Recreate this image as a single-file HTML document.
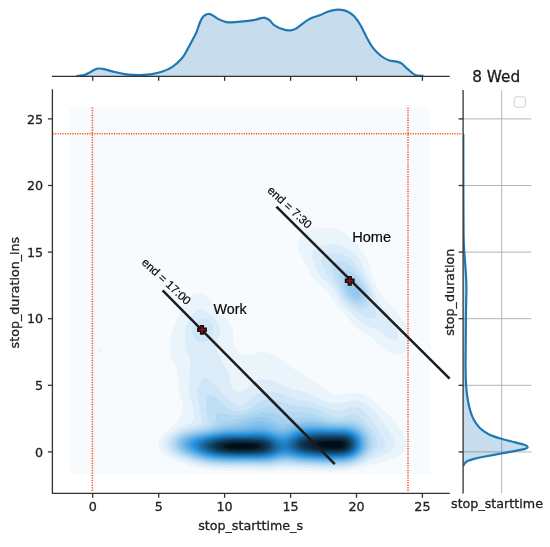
<!DOCTYPE html>
<html lang="en"><head><meta charset="utf-8"><title>stop_starttime_s vs stop_duration_ins</title>
<style>html,body{margin:0;padding:0;background:#fff}svg{display:block}</style></head>
<body>
<svg width="550" height="547" viewBox="0 0 550 547">
<rect width="550" height="547" fill="#fff"/>
<defs><filter id="bl" x="-5%" y="-5%" width="110%" height="110%"><feGaussianBlur stdDeviation="0.7"/></filter><clipPath id="ct"><rect x="52.4" y="0" width="396.8" height="76.3"/></clipPath><clipPath id="cr"><rect x="463.1" y="90" width="90" height="403.3"/></clipPath></defs>
<g id="density" filter="url(#bl)"><rect x="69.5" y="107.5" width="360.9" height="366.8" fill="#f8fbfe"/>
<g fill-rule="evenodd">
<path fill="#eaf4fb" d="M322.1,227.8 323.1,227.7 324.1,227.7 325.1,227.7 326.1,227.8 327.1,227.8 328.1,227.9 329.1,228 330.1,228.1 331.2,228.2 332.2,228.3 333.2,228.5 334.2,228.7 335.2,228.9 336.2,229.2 337.2,229.5 338,229.8 339.2,230.2 340.2,230.7 341.2,231.3 342,231.8 343.2,232.5 344.2,233.3 344.8,233.8 346,234.8 347.1,235.8 348.1,236.8 349.1,237.8 350.1,238.8 351.1,239.8 352.1,240.8 353,241.8 354,242.8 355,243.8 356,244.8 357,245.8 357.9,246.8 358.9,247.8 359.8,248.8 360.2,249.2 360.7,249.8 361.2,250.4 362.2,251.6 363.2,252.8 363.9,253.8 364.2,254.3 364.6,254.8 365.2,255.8 365.8,256.8 366.2,257.7 366.8,258.8 367.2,259.8 367.6,260.8 368,261.8 368.2,262.6 368.7,263.8 369,264.8 369.2,265.8 369.5,266.8 369.8,267.8 370,268.9 370.2,269.7 370.6,270.9 370.9,271.9 371.2,272.9 371.5,273.9 371.8,274.9 372.1,275.9 372.5,276.9 372.9,277.9 373.3,278.8 373.7,279.9 374.1,280.9 374.5,281.9 375,282.9 375.3,283.6 375.9,284.9 376.3,285.8 376.8,286.9 377.2,287.9 377.7,288.9 378.2,289.9 378.7,290.9 379.3,291.9 379.8,292.9 380.3,293.6 381.1,294.9 381.8,295.9 382.3,296.5 383.3,297.7 384.3,298.8 385.3,299.7 386.3,300.6 387.3,301.5 387.7,301.9 388.3,302.4 388.9,302.9 389.3,303.3 389.9,303.9 391,304.9 391.9,305.9 392.8,306.9 393.3,307.5 393.7,307.9 394.3,308.7 395.3,309.9 396.1,310.9 396.8,311.9 397.3,312.6 398.3,314 399,315 399.7,316 400.3,316.8 401.2,318 401.9,319 402.3,319.6 403.3,321 404,322 404.3,322.5 405.3,324 405.9,325 406.3,325.8 407,327 407.3,327.6 408,329 408.3,329.8 408.8,331 409.1,332 409.3,332.7 409.7,334 409.9,335 410,336 410.1,337 410.2,338 410.2,339 410.1,340 410,341 409.9,342 409.7,343 409.5,344 409.2,345 408.8,346 408.4,347 408,348 407.4,349 406.8,350 406.3,350.7 405.3,351.8 404.3,352.8 403.3,353.5 402.3,354 401.3,354.4 400.3,354.7 399.3,354.8 398.3,354.9 397.3,354.9 396.3,354.7 395.3,354.6 394.3,354.3 393.5,354 392.3,353.6 391.3,353.2 390.3,352.7 389.3,352.2 388.3,351.7 387.3,351.1 386.3,350.5 385.5,350 384.3,349.2 383.3,348.5 382.6,348 381.4,347 380.3,346.1 379.3,345.2 378.3,344.2 377.3,343.2 376.3,342.2 375.3,341.2 374.3,340.2 373.3,339.2 372.3,338.3 371.3,337.5 370.5,337 369.2,336.1 368.2,335.4 367.5,335 366.2,334.2 365.2,333.6 364.2,333 363.2,332.4 362.5,332 361.2,331.2 360.2,330.6 359.4,330 358.2,329.1 357.2,328.4 356.7,328 356.2,327.6 355.5,327 354.4,326 353.4,325 352.4,324 351.6,323 350.7,322 350.2,321.3 349.2,320 348.4,319 347.7,318 347.2,317.3 346.2,316 345.4,315 344.6,314 344.2,313.4 343.8,312.9 343.2,312.3 342.2,311.1 341.2,310 340.2,308.9 339.2,307.9 338.3,306.9 337.4,305.9 336.6,304.9 336.2,304.4 335.8,303.9 335.2,303.1 334.3,301.9 333.6,300.9 333.2,300.2 332.4,298.9 331.8,297.9 331.2,296.9 330.6,295.9 330.1,295.1 329.4,293.9 328.6,292.9 328.1,292.3 327.1,291.1 326.1,290.1 325.1,289.2 324.1,288.4 323.4,287.9 322.1,287 321.1,286.3 320.5,285.9 319.1,284.9 318.1,284.2 317.1,283.4 316.5,282.9 316.1,282.5 315.5,281.9 314.5,280.9 314.1,280.4 313.7,279.9 313.1,279 312.4,277.9 311.8,276.9 311.3,275.9 310.8,274.9 310.4,273.9 310.1,273.2 309.5,271.9 309.1,270.9 308.6,269.9 308.2,268.9 307.7,267.8 307.2,266.8 306.7,265.8 306.1,264.8 305.5,263.8 305.1,263.1 304.3,261.8 303.7,260.8 303.1,259.8 302.5,258.8 302.1,258.2 301.3,256.8 300.8,255.8 300.3,254.8 299.8,253.8 299.3,252.8 299.1,252.1 298.6,250.8 298.3,249.8 298.1,248.8 297.9,247.8 297.8,246.8 297.8,245.8 297.8,244.8 297.9,243.8 298.1,242.8 298.3,241.8 298.7,240.8 299.1,239.8 299.6,238.8 300.1,238 300.9,236.8 301.8,235.8 302.7,234.8 303.9,233.8 305.1,232.9 306.1,232.3 307.1,231.8 308.1,231.3 309.1,230.8 310.1,230.4 311.1,230 311.9,229.8 313.1,229.4 314.1,229.1 315.1,228.8 316.1,228.6 317.1,228.4 318.1,228.2 319.1,228 320.1,227.9 321.1,227.8 322.1,227.8ZM195.6,293.9 196.8,293.6 197.8,293.5 198.8,293.5 199.8,293.5 200.8,293.6 201.8,293.7 202.5,293.9 203.8,294.3 204.8,294.8 205.8,295.3 206.8,295.9 207.8,296.8 208.8,297.7 209.8,298.8 210.7,299.9 211.3,300.9 211.9,301.7 212.6,302.9 213.1,303.9 213.7,304.9 214.3,305.9 214.9,306.8 215.6,307.9 216.3,308.9 216.9,309.7 217.9,310.9 218.8,311.9 219.7,312.9 220.7,314 221.8,315 222.9,316 223.9,316.9 224.9,317.9 225.9,318.8 226.9,319.8 227.9,321 228.7,322 229.5,323 229.9,323.6 230.8,325 231.3,326 231.8,327 232.2,328 232.5,329 232.8,330 233,331 233.2,332 233.3,333 233.4,334 233.4,335 233.4,336 233.4,337 233.4,338 233.4,339 233.4,340 233.4,341 233.5,342 233.7,343 233.8,344 234.1,345 234.4,346 234.8,347 235.3,348 235.8,349 236.5,350 236.9,350.6 237.9,351.7 238.9,352.7 239.4,353 239.9,353.4 240.9,354 241.9,354.4 242.9,354.7 243.9,354.9 244.8,355 245.9,355.1 246.9,355.1 247.9,355 248.9,354.8 249.9,354.6 251,354.4 252,354.1 253,353.8 254,353.5 255,353.2 256,352.9 257,352.6 258,352.4 259,352.2 260,352.1 261,352 262,351.9 263,351.9 264,352 265,352.1 266,352.2 267,352.4 268,352.7 269,353 270,353.3 271,353.7 272,354 273,354.5 274,355 275,355.5 276,356 277,356.6 277.8,357 279,357.8 280,358.5 280.9,359 282,359.9 283,360.6 283.6,361.1 284,361.4 284.8,362.1 286,363 287,363.8 288,364.7 288.5,365.1 289,365.5 289.8,366.1 291.1,367 292.1,367.8 293.1,368.5 293.9,369.1 295.1,369.8 296.1,370.4 297.1,371 298.1,371.6 298.9,372.1 300.1,372.7 300.7,373.1 302.1,373.8 303.1,374.4 304.1,375 305.1,375.6 306,376.1 307.1,376.8 307.6,377.1 308.1,377.4 309.1,378.1 310.1,378.7 310.6,379.1 312.1,380.1 313.1,380.8 314.1,381.5 315,382.1 316.1,382.8 317.1,383.5 318,384.1 319.1,384.8 320.1,385.5 321,386.1 322.1,386.9 323.1,387.6 323.9,388.1 325.1,389 326.1,389.8 327.1,390.5 327.9,391.1 329.1,392 330.1,392.7 330.9,393.1 332.2,393.8 333,394.1 334.2,394.5 335.2,394.8 336.2,394.9 337.2,395 338.2,395 339.2,395 340.2,394.9 341.2,394.8 342.2,394.6 343.2,394.5 344.2,394.3 345.1,394.1 346.2,393.9 347.2,393.7 348.2,393.6 349.2,393.4 350.2,393.3 351.2,393.2 352.2,393.1 353.2,393.1 354.2,393.1 355.2,393.1 356,393.1 357.2,393.2 358.2,393.3 359.2,393.5 360.2,393.7 361.2,393.9 361.8,394.1 363.2,394.6 364.2,394.9 365.2,395.4 366.2,395.9 366.8,396.1 368.2,397 369.2,397.6 370.1,398.1 371.3,398.9 372.3,399.7 372.9,400.1 374.1,401.1 375.3,402.1 376.3,402.9 377.3,403.8 378.3,404.7 378.8,405.1 379.3,405.6 379.9,406.2 381,407.2 382.2,408.2 383.3,409.2 384.3,410.1 385.3,411 386.3,411.9 387.3,412.9 388.3,413.9 389.3,414.9 390.3,416 391.3,417.1 392.3,418.2 393.1,419.2 394,420.2 394.8,421.2 395.3,421.9 396.3,423.2 397.1,424.2 397.8,425.2 398.3,425.9 399.2,427.2 399.9,428.2 400.3,428.9 401.2,430.2 401.8,431.2 402.3,432.1 402.9,433.2 403.3,433.9 404,435.2 404.3,435.9 405,437.2 405.3,438.2 405.7,439.2 406,440.2 406.2,441.2 406.4,442.2 406.5,443.2 406.5,444.2 406.5,445.2 406.3,446 406.1,447.2 405.7,448.2 405.3,449.1 404.7,450.2 404.3,450.8 403.3,452.1 402.3,453.1 401.3,454 400.3,454.8 399.7,455.3 398.3,456.1 397.3,456.7 396.3,457.2 395.3,457.7 394.3,458.2 393.3,458.6 392.3,459 391.7,459.3 390.3,459.8 389.3,460.2 388.3,460.5 387.3,460.9 386.3,461.2 385.3,461.5 384.3,461.8 383.3,462.1 382.3,462.4 381.3,462.7 380.3,462.9 379.3,463.1 378.5,463.3 377.3,463.5 376.3,463.7 375.3,463.9 374.3,464.1 373.3,464.3 372.3,464.5 371.3,464.7 370.2,464.9 369.2,465.2 368.2,465.5 367.2,465.8 366.2,466.1 365.2,466.4 364.2,466.8 363.2,467.1 362.6,467.3 361.2,467.7 360.2,468.1 359.4,468.3 358.2,468.7 357.2,468.9 356.2,469.2 355.2,469.4 354.2,469.7 353.2,469.9 352.2,470.1 351.2,470.3 350.2,470.4 349.2,470.6 348.2,470.7 347.2,470.8 346.2,470.9 345.2,471 344.2,471.1 343.2,471.2 342.2,471.2 341.2,471.3 340.3,471.3 339.2,471.3 338.2,471.4 337.2,471.4 336.2,471.4 335.2,471.4 334.2,471.4 333.2,471.4 332.2,471.4 331.2,471.4 330.1,471.4 329.1,471.4 328.1,471.4 327.1,471.4 326.1,471.4 325.1,471.3 324.1,471.3 323.3,471.3 322.1,471.3 321.1,471.2 320.1,471.2 319.1,471.2 318.1,471.2 317.1,471.1 316.1,471.1 315.1,471.1 314.1,471 313.1,471 312.1,471 311.1,471 310.1,470.9 309.1,470.9 308.1,470.9 307.1,470.8 306.1,470.8 305.1,470.8 304.1,470.7 303.1,470.7 302.1,470.6 301.1,470.6 300.1,470.5 299.1,470.5 298.1,470.4 297.1,470.3 296.2,470.3 295.1,470.2 294.1,470.2 293.1,470.1 292.1,470.1 291.1,470 290,470 289,470 288,469.9 287,469.9 286,469.9 285,470 284,470 283,470 282,470.1 281,470.2 280,470.2 279,470.3 278,470.4 277,470.5 276,470.6 275,470.7 274,470.8 273,470.9 272,471 271,471 270,471.1 269,471.1 268,471.1 267,471.2 266,471.2 265,471.2 264,471.2 263,471.2 262,471.1 261,471.1 260,471.1 259,471.1 258,471 257,471 256,470.9 255,470.9 254,470.9 253,470.8 252,470.8 251,470.8 249.9,470.7 248.9,470.7 247.9,470.7 246.9,470.7 245.9,470.6 244.9,470.6 243.9,470.6 242.9,470.6 241.9,470.6 240.9,470.6 239.9,470.6 238.9,470.6 237.9,470.6 236.9,470.6 235.9,470.7 234.9,470.7 233.9,470.7 232.9,470.7 231.9,470.7 230.9,470.7 229.9,470.7 228.9,470.7 227.9,470.7 226.9,470.7 225.9,470.6 224.9,470.6 223.9,470.6 222.9,470.6 221.9,470.6 220.9,470.5 219.9,470.5 218.9,470.5 217.9,470.4 216.9,470.4 215.9,470.3 214.9,470.3 213.9,470.2 212.9,470.1 211.9,470 210.9,470 209.8,469.9 208.8,469.7 207.8,469.6 206.8,469.5 205.8,469.3 204.8,469.2 203.8,469 202.8,468.9 201.8,468.7 200.8,468.5 199.9,468.3 198.8,468.1 197.8,467.9 196.8,467.6 195.8,467.4 194.8,467.1 193.8,466.9 192.8,466.6 191.8,466.4 190.8,466.1 189.8,465.8 188.8,465.5 188,465.3 186.8,464.9 185.8,464.6 184.8,464.3 183.8,464 182.8,463.7 181.8,463.4 180.8,463 179.8,462.7 178.8,462.3 177.8,462 176.8,461.6 176,461.3 174.8,460.8 173.8,460.4 172.8,459.9 171.8,459.5 170.8,459 169.8,458.5 168.7,457.9 167.7,457.3 166.7,456.7 166.1,456.3 164.8,455.3 163.7,454.4 162.7,453.5 161.7,452.4 160.8,451.2 160.2,450.2 159.7,449.4 159.2,448.2 158.9,447.2 158.7,446.3 158.6,445.2 158.6,444.2 158.6,443.2 158.8,442.2 159,441.2 159.4,440.2 159.7,439.5 160.3,438.2 160.7,437.6 161.7,436.2 162.5,435.2 163.4,434.2 164.4,433.2 165.4,432.2 166.5,431.2 167.7,430.2 168.7,429.3 169.8,428.5 170.8,427.6 171.3,427.2 171.8,426.8 172.5,426.2 173.6,425.2 174.7,424.2 175.7,423.2 176.7,422.2 177.5,421.2 178.3,420.2 178.8,419.4 179.5,418.2 180,417.2 180.5,416.2 180.8,415.6 181.4,414.2 181.8,413.2 182.2,412.2 182.5,411.2 182.7,410.2 182.9,409.2 183.1,408.2 183.1,407.2 183.1,406.2 183,405.1 182.8,404.1 182.6,403.1 182.3,402.1 182,401.1 181.6,400.1 181.3,399.1 180.9,398.1 180.6,397.1 180.3,396.1 180.1,395.1 179.9,394.1 179.7,393.1 179.5,392.1 179.4,391.1 179.3,390.1 179.2,389.1 179.1,388.1 179.1,387.1 179,386.1 178.9,385.1 178.9,384.1 178.8,383.1 178.7,382.1 178.6,381.1 178.5,380.1 178.3,379.1 178.2,378.1 178.1,377.1 177.9,376.1 177.8,375.1 177.6,374.1 177.5,373.1 177.3,372.1 177.1,371.1 176.9,370.1 176.6,369.1 176.3,368.1 176,367.1 175.6,366.1 175.1,365.1 174.8,364.4 174.1,363.1 173.8,362.4 173,361.1 172.8,360.5 172.1,359 171.8,358.3 171.3,357 170.9,356 170.6,355 170.4,354 170.2,353 170.1,352 170,351 169.9,350 169.9,349 169.9,348 169.9,347 169.9,346 170,345 170,344 170.1,343 170.2,342 170.2,341 170.3,340 170.4,339 170.5,338 170.6,337 170.7,336 170.9,335 171.1,334 171.3,333 171.6,332 171.9,331 172.3,330 172.7,329 173.2,328 173.7,327 174.2,326 174.7,325 175.2,324 175.7,323 176.2,322 176.7,321 177.1,320 177.6,319 178,318 178.3,317 178.7,316 179,315 179.4,314 179.7,312.9 180,311.9 180.4,310.9 180.8,310 181.2,308.9 181.7,307.9 182.1,306.9 182.7,305.9 183.2,304.9 183.8,304 184.4,302.9 184.8,302.4 185.8,301 186.6,299.9 187.5,298.9 188.5,297.9 189.7,296.9 190.8,296.1 191.8,295.4 192.8,294.9 193.8,294.5 194.8,294.1 195.6,293.9Z"/>
<path fill="#dcedf9" d="M325,244.8 326.1,244.6 327.1,244.4 328.1,244.3 329.1,244.2 330.1,244.2 331.2,244.1 332.2,244.1 333.2,244.2 334.2,244.2 335.2,244.4 336.2,244.5 337.2,244.7 338.2,244.9 339.2,245.2 340.2,245.5 341,245.8 342.2,246.3 343.2,246.7 344.2,247.2 345.2,247.7 346.2,248.2 347.2,248.8 348.2,249.4 348.8,249.8 350.2,250.8 351.2,251.5 352.2,252.3 352.9,252.8 354.1,253.8 355.1,254.8 356.1,255.8 357,256.8 357.9,257.8 358.2,258.3 358.6,258.8 359.2,259.7 359.9,260.8 360.2,261.4 361,262.8 361.5,263.8 362,264.8 362.5,265.8 362.9,266.8 363.2,267.6 363.8,268.9 364.2,269.9 364.6,270.9 365.1,271.9 365.5,272.9 366,273.9 366.5,274.9 366.9,275.9 367.2,276.5 367.9,277.9 368.2,278.5 368.9,279.9 369.2,280.5 369.9,281.9 370.2,282.6 370.9,283.9 371.3,284.7 371.8,285.9 372.3,286.9 372.7,287.9 373.1,288.9 373.5,289.9 373.9,290.9 374.3,291.8 374.7,292.9 375,293.9 375.3,294.5 375.8,295.9 376.2,296.9 376.6,297.9 377,298.9 377.3,299.6 377.9,300.9 378.3,301.5 379.1,302.9 379.8,303.9 380.3,304.5 381.3,305.8 382.3,306.9 383.3,307.9 384.2,308.9 385.1,309.9 385.9,310.9 386.3,311.4 386.7,311.9 387.3,312.8 388.1,314 388.7,315 389.3,315.9 389.9,317 390.3,317.7 391,319 391.3,319.6 392,321 392.3,321.6 393.1,323 393.6,324 394.1,325 394.7,326 395.3,327 395.8,328 396.3,329 396.8,330 397.2,331 397.6,332 397.8,333 398,334 398.1,335 398.1,336 397.9,337 397.5,338 396.8,339 396.3,339.5 395.4,340 394.3,340.3 393.3,340.3 392.3,340.2 391.3,339.9 390.3,339.4 389.5,339 388.3,338.2 387.3,337.4 386.8,337 386.3,336.6 385.7,336 384.6,335 383.5,334 382.3,333 381.3,332.3 380.3,331.7 379.3,331.1 378.3,330.6 377.3,330.1 376.3,329.6 375.3,329.2 374.3,328.8 373.3,328.4 372.3,328 371.3,327.6 370.2,327.2 369.2,326.8 368.2,326.3 367.6,326 366.2,325.3 365.6,325 364.2,324.2 363.2,323.5 362.4,323 361.2,322.1 360.2,321.3 359.2,320.5 358.7,320 358.2,319.6 357.6,319 356.6,318 355.6,317 354.5,316 353.5,315 352.5,314 351.5,312.9 350.4,311.9 349.3,310.9 348.2,309.9 347.2,309 346.2,308.1 345.2,307.2 344.2,306.2 343.2,305.2 342.2,304.1 341.2,302.9 340.3,301.9 339.6,300.9 339.2,300.4 338.2,298.9 337.6,297.9 337.2,297.2 336.4,295.9 335.9,294.9 335.4,293.9 334.8,292.9 334.3,291.9 333.7,290.9 333.2,290 332.5,288.9 331.8,287.9 331.2,287 330.2,285.9 329.3,284.9 328.4,283.9 327.3,282.9 326.2,281.9 325.1,280.9 324.1,280 323.1,279.1 322.1,278 321.1,276.9 320.3,275.9 319.6,274.9 319.1,274.1 318.4,272.9 318.1,272.3 317.4,270.9 317.1,270.2 316.5,268.9 316.1,267.9 315.7,266.8 315.3,265.8 314.9,264.8 314.5,263.8 314.1,263 313.7,261.8 313.3,260.8 313.1,260.1 312.7,258.8 312.5,257.8 312.3,256.8 312.2,255.8 312.2,254.8 312.3,253.8 312.4,252.8 312.8,251.8 313.1,251.1 314,249.8 315,248.8 316.1,248 317.1,247.4 318.1,246.9 319.1,246.5 320.1,246.1 321,245.8 322.1,245.4 323.1,245.2 324.1,245 325,244.8ZM199.2,309.9 200.8,309.8 201.8,309.9 202.8,310.1 203.8,310.4 204.8,310.9 205.8,311.3 206.8,311.9 207.8,312.5 208.4,312.9 209.8,314 210.9,314.8 211.9,315.6 212.9,316.5 213.3,317 213.9,317.5 214.4,318 214.9,318.5 215.3,319 215.9,319.6 216.9,320.9 217.6,322 218.2,323 218.8,324 219.2,325 219.6,326 219.8,327 220,328 220.2,329 220.2,330 220.2,331 220.1,332 219.9,333 219.7,334 219.5,335 219.2,336 218.9,337 218.6,338 218.3,339 217.9,340 217.6,341 217.3,342 217,343 216.8,344 216.6,345 216.5,346 216.4,347 216.5,348 216.6,349 216.8,350 217.2,351 217.6,352 217.9,352.7 218.5,354 218.9,354.8 219.5,356 219.9,356.7 220.5,358 220.9,358.7 221.5,360.1 221.9,360.8 222.5,362.1 222.9,362.8 223.5,364.1 223.9,364.8 224.6,366.1 224.9,366.6 225.7,368.1 226.3,369.1 226.9,370 227.5,371.1 227.9,371.7 228.6,373.1 228.9,373.8 229.4,375.1 229.6,376.1 229.7,377.1 229.8,378.1 229.8,379.1 229.8,380.1 229.9,381.1 230.1,382.1 230.3,383.1 230.6,384.1 230.9,384.9 231.5,386.1 231.9,386.9 232.8,388.1 233.6,389.1 234.8,390.1 235.9,390.8 236.6,391.1 237.9,391.5 238.9,391.7 239.9,391.6 240.9,391.5 241.9,391.2 242.9,390.8 243.9,390.3 244.9,389.7 245.8,389.1 246.9,388.3 247.9,387.4 248.9,386.5 249.4,386.1 249.9,385.5 250.4,385.1 251,384.5 252,383.4 253,382.4 254,381.5 254.5,381.1 256,380.2 257,379.7 258,379.4 259,379.2 260,379 261,378.9 262,378.8 263,378.8 264,378.8 265,378.9 266,379.1 267,379.2 268,379.4 269,379.6 270,379.9 270.7,380.1 272,380.5 273,380.9 273.6,381.1 275,381.6 276,382 277,382.5 278,382.9 279,383.4 280,383.8 280.6,384.1 282,384.8 282.8,385.1 284,385.7 285,386.1 286,386.6 287,387 288,387.4 289,387.8 289.9,388.1 291.1,388.5 292.1,388.9 292.8,389.1 294.1,389.5 295.1,389.8 296.1,390.1 297.1,390.3 298.1,390.6 299.1,390.8 300.1,391.1 301.1,391.4 302.1,391.6 303.1,391.9 303.9,392.1 305.1,392.5 306.1,392.8 307,393.1 308.1,393.5 309.1,393.9 309.8,394.1 311.1,394.6 312.1,395.1 313.1,395.5 314.1,395.9 315.1,396.4 316.1,396.8 316.7,397.1 318.1,397.8 318.8,398.1 320.1,398.7 320.9,399.1 322.1,399.7 323.1,400.1 324.1,400.6 325.1,401.1 326.1,401.5 327.1,401.9 327.7,402.1 329.1,402.7 330.1,403 331.2,403.3 332.2,403.5 333.2,403.7 334.2,403.8 335.2,403.9 336.2,403.9 337.2,403.9 338.2,403.8 339.2,403.6 340.2,403.4 341.2,403.2 342.2,402.9 343.2,402.6 344.2,402.3 345.2,402 346.2,401.7 347.2,401.4 348.1,401.1 349.2,400.9 350.2,400.7 351.2,400.5 352.2,400.4 353.2,400.3 354.2,400.3 355.2,400.3 356.2,400.3 357.2,400.5 358.2,400.6 359.2,400.9 360.1,401.1 361.2,401.5 362.2,401.9 363.2,402.4 364.2,402.9 365.2,403.5 366.2,404.1 367.2,404.9 368.2,405.7 368.8,406.2 369.2,406.6 369.9,407.2 371,408.2 372,409.2 373,410.2 373.9,411.2 374.8,412.2 375.3,412.6 375.7,413.2 376.3,413.8 377.3,414.9 378.3,416.1 379.2,417.2 380,418.2 380.9,419.2 381.3,419.7 381.6,420.2 382.3,421 383.1,422.2 383.9,423.2 384.3,423.8 385.2,425.2 385.9,426.2 386.3,426.8 387.2,428.2 387.9,429.2 388.3,429.8 389.2,431.2 389.8,432.2 390.3,433 391.1,434.2 391.7,435.2 392.3,436.2 392.8,437.2 393.3,438.2 393.8,439.2 394.2,440.2 394.5,441.2 394.8,442.2 394.9,443.2 394.9,444.2 394.8,445.2 394.6,446.2 394.3,447.1 393.7,448.2 393.3,448.8 392.3,450 391.3,451 390.3,451.8 389.6,452.3 388.3,453.1 387.3,453.6 386.3,454.2 385.3,454.6 384.3,455 383.3,455.5 382.3,455.8 381.3,456.2 380.3,456.5 379.3,456.9 378.3,457.2 377.3,457.5 376.3,457.9 375.3,458.2 374.3,458.6 373.3,459 372.6,459.3 371.3,459.8 370.3,460.3 369.2,460.8 368.2,461.2 367.2,461.7 366.2,462.2 365.2,462.7 364.2,463.1 363.2,463.6 362.2,464 361.2,464.5 360.2,464.9 359.2,465.2 358.2,465.6 357.2,466 356.2,466.3 355.2,466.6 354.2,466.8 353.2,467.1 352.3,467.3 351.2,467.5 350.2,467.7 349.2,467.9 348.2,468 347.2,468.2 346.2,468.3 345.2,468.4 344.2,468.5 343.2,468.5 342.2,468.6 341.2,468.7 340.2,468.7 339.2,468.8 338.2,468.8 337.2,468.8 336.2,468.8 335.2,468.8 334.2,468.9 333.2,468.9 332.2,468.9 331.2,468.9 330.1,468.8 329.1,468.8 328.1,468.8 327.1,468.8 326.1,468.8 325.1,468.8 324.1,468.7 323.1,468.7 322.1,468.7 321.1,468.6 320.1,468.6 319.1,468.6 318.1,468.5 317.1,468.5 316.1,468.5 315.1,468.4 314.1,468.4 313.1,468.4 312.1,468.3 311.3,468.3 310.1,468.2 309.1,468.2 308.1,468.2 307.1,468.1 306.1,468.1 305.1,468.1 304.1,468 303.1,468 302.1,467.9 301.1,467.9 300.1,467.8 299.1,467.8 298.1,467.7 297.1,467.6 296.1,467.5 295.1,467.5 294.1,467.4 293.1,467.3 292.1,467.2 291.1,467.2 290,467.1 289,467.1 288,467.1 287,467.1 286,467.1 285,467.1 284,467.1 283,467.2 282,467.2 281.2,467.3 280,467.4 279,467.5 278,467.6 277,467.7 276,467.8 275,467.9 274,468 273,468.1 272,468.2 271,468.3 270,468.3 269,468.4 268,468.4 267,468.5 266,468.5 265,468.5 264,468.5 263,468.5 262,468.5 261,468.5 260,468.5 259,468.4 258,468.4 257,468.4 256,468.3 255,468.3 254,468.3 253,468.2 252,468.2 251,468.2 249.9,468.1 248.9,468.1 247.9,468.1 246.9,468.1 245.9,468.1 244.9,468.1 243.9,468.1 242.9,468.1 241.9,468.1 240.9,468.1 239.9,468.1 238.9,468.1 237.9,468.1 236.9,468.1 235.9,468.1 234.9,468.1 233.9,468.1 232.9,468.1 231.9,468.1 230.9,468.1 229.9,468.1 228.9,468.1 227.9,468.1 226.9,468.1 225.9,468.1 224.9,468 223.9,468 222.9,468 221.9,468 220.9,467.9 219.9,467.9 218.9,467.9 217.9,467.8 216.9,467.8 215.9,467.7 214.9,467.6 213.9,467.5 212.9,467.5 211.9,467.4 210.9,467.3 209.8,467.1 208.8,467 207.8,466.9 206.8,466.8 205.8,466.6 204.8,466.4 204,466.3 202.8,466.1 201.8,465.9 200.8,465.7 199.8,465.5 199.1,465.3 197.8,465 196.8,464.8 195.8,464.5 195,464.3 193.8,464 192.8,463.7 191.8,463.4 190.8,463.1 189.8,462.8 188.8,462.5 188.1,462.3 186.8,461.9 185.8,461.6 185,461.3 183.8,460.9 182.8,460.5 182.1,460.3 180.8,459.8 179.8,459.4 178.8,459 177.8,458.5 177.1,458.3 175.8,457.6 175,457.3 173.8,456.6 173.1,456.3 171.8,455.5 170.8,454.8 170,454.3 168.7,453.3 167.7,452.4 166.7,451.4 165.8,450.2 165.1,449.2 164.7,448.5 164.2,447.2 163.9,446.2 163.7,445.2 163.7,444.2 163.7,443.5 163.9,442.2 164.2,441.2 164.6,440.2 165.1,439.2 165.7,438.2 166.4,437.2 167.2,436.2 167.7,435.6 168.1,435.2 168.7,434.6 169.2,434.2 169.8,433.7 170.3,433.2 171.6,432.2 172.8,431.4 173.8,430.7 174.5,430.2 175.8,429.4 176.8,428.8 177.8,428.3 178.8,427.8 179.8,427.3 180.8,426.8 181.8,426.4 182.8,426 183.8,425.6 184.8,425.3 185.8,424.9 186.8,424.5 187.8,424.2 188.8,423.8 189.8,423.4 190.8,422.9 191.8,422.3 192.8,421.5 193.8,420.2 194.1,419.2 194.2,418.2 194.1,417.2 194,416.2 193.9,415.2 193.8,414.5 193.6,413.2 193.5,412.2 193.4,411.2 193.3,410.2 193.2,409.2 193,408.2 192.9,407.2 192.7,406.2 192.5,405.1 192.2,404.1 192,403.1 191.7,402.1 191.3,401.1 191,400.1 190.7,399.1 190.3,398.1 190,397.1 189.8,396.4 189.5,395.1 189.3,394.1 189.1,393.1 189,392.1 188.9,391.1 188.9,390.1 189,389.1 189,388.1 189.1,387.1 189.2,386.1 189.2,385.1 189.3,384.1 189.4,383.1 189.5,382.1 189.5,381.1 189.5,380.1 189.6,379.1 189.6,378.1 189.6,377.1 189.6,376.1 189.6,375.1 189.7,374.1 189.7,373.1 189.8,372.1 189.9,371.1 190,370.1 190,369.1 190.1,368.1 190.2,367.1 190.3,366.1 190.4,365.1 190.4,364.1 190.4,363.1 190.4,362.1 190.3,361.1 190.1,360.1 189.9,359 189.6,358 189.3,357 189,356 188.6,355 188.2,354 187.8,353 187.5,352 187.1,351 186.8,350 186.6,349 186.3,348 186.1,347 185.9,346 185.8,345.3 185.6,344 185.4,343 185.2,342 185.1,341 185,340 184.8,339 184.7,338 184.7,337 184.7,336 184.7,335 184.7,334 184.8,333.2 184.9,332 185.1,331 185.3,330 185.5,329 185.8,328.1 186.1,327 186.4,326 186.8,325 187.2,324 187.6,323 188,322 188.5,321 188.8,320.3 189.5,319 189.8,318.4 190.6,317 191.3,316 191.8,315.2 192.8,314 193.8,312.9 194.8,312 195.8,311.3 196.4,310.9 197.8,310.3 198.8,310Z"/>
<path fill="#cee6f7" d="M327.4,253.8 328.1,253.6 329.1,253.4 330.1,253.2 331.2,253.1 332.2,253 333.2,253 334.2,253 335.2,253.1 336.2,253.2 337.2,253.4 338.2,253.6 339.2,253.8 340.2,254 341.2,254.3 342.2,254.6 343.2,255 344.2,255.4 345.2,255.8 346.2,256.3 347.2,256.8 348.2,257.4 348.9,257.8 350.2,258.8 351.2,259.5 352.2,260.4 352.7,260.8 353.2,261.3 353.7,261.8 354.2,262.4 354.6,262.8 355.2,263.6 356.2,264.8 356.9,265.8 357.6,266.8 358.2,267.8 358.9,268.9 359.2,269.4 360.1,270.9 360.7,271.9 361.2,272.7 361.9,273.9 362.2,274.4 362.5,274.9 363.1,275.9 363.7,276.9 364.2,277.7 364.9,278.9 365.2,279.4 366.1,280.9 366.6,281.9 367.2,282.9 367.7,283.9 368.2,284.9 368.7,285.9 369.2,286.9 369.6,287.9 370,288.9 370.2,289.5 370.8,290.9 371.1,291.9 371.4,292.9 371.7,293.9 371.9,294.9 372.2,295.9 372.4,296.9 372.6,297.9 372.8,298.9 373,299.9 373.2,300.9 373.4,301.9 373.6,302.9 373.8,303.9 374,304.9 374.2,305.9 374.5,306.9 374.8,307.9 375.1,308.9 375.5,309.9 375.8,310.9 376.2,311.9 376.5,312.9 376.7,314 376.8,315 376.7,316 376.3,317 375.3,317.8 374.3,318.2 373.3,318.4 372.3,318.4 371.3,318.3 370.2,318.1 369.5,318 368.2,317.6 367.2,317.2 366.7,317 365.2,316.3 364.5,316 363.2,315.3 362.6,315 361.2,314.2 360.2,313.7 359.2,313.1 358.2,312.5 357.4,311.9 356.2,311.2 355.2,310.6 354.2,309.9 353.2,309.3 352.7,308.9 352.2,308.6 351.3,307.9 350.2,307.1 349.2,306.4 348.7,305.9 348.2,305.5 347.5,304.9 346.4,303.9 345.3,302.9 344.4,301.9 343.5,300.9 342.7,299.9 342.2,299.2 341.3,297.9 340.6,296.9 340.2,296.1 339.5,294.9 339.2,294.3 338.4,292.9 338.2,292.3 337.5,290.9 337.2,290.3 336.5,288.9 336.2,288.3 335.4,286.9 335.2,286.4 334.3,284.9 333.7,283.9 333.2,283 332.4,281.9 331.7,280.9 331.2,280.2 330.2,278.9 329.4,277.9 328.7,276.9 328.1,276.1 327.2,274.9 326.6,273.9 326.1,273.1 325.4,271.9 324.9,270.9 324.4,269.9 324.1,269.3 323.5,267.8 323.2,266.8 322.8,265.8 322.5,264.8 322.3,263.8 322.1,263 322,261.8 321.9,260.8 322,259.8 322.1,259.1 322.5,257.8 323.1,256.8 323.9,255.8 325.1,254.9 326.1,254.3 327.1,253.9ZM201.1,319 201.8,318.8 202.8,318.8 203.8,318.9 204.8,319 205.8,319.3 206.8,319.8 207.8,320.3 208.8,321 209.8,321.9 210.8,323 211.6,324 212.1,325 212.6,326 212.9,326.8 213.1,328 213.2,329 213.2,330 213.2,331 213,332 212.7,333 212.4,334 212,335 211.4,336 210.9,336.9 210,338 209.1,339 208,340 206.8,340.8 205.8,341.4 204.8,341.8 204,342 202.8,342.2 201.8,342.3 200.8,342.2 200.1,342 198.8,341.6 197.8,341.1 196.8,340.5 196.3,340 195.8,339.6 195.3,339 194.8,338.5 193.9,337 193.4,336 193,335 192.8,334.2 192.6,333 192.5,332 192.5,331 192.5,330 192.7,329 192.9,328 193.2,327 193.6,326 194,325 194.6,324 195.3,323 195.8,322.3 196.8,321.2 197.8,320.4 198.5,320 199.8,319.3 200.8,319ZM204.5,377.1 205.8,377.3 206.8,378 207.8,378.9 208.8,379.8 209.8,380.7 210.9,381.6 211.4,382.1 212.7,383.1 213.9,384.1 214.9,384.9 215.9,385.7 216.4,386.1 216.9,386.5 217.5,387.1 218.6,388.1 219.6,389.1 220.6,390.1 221.5,391.1 222.4,392.1 222.9,392.6 223.3,393.1 223.9,393.8 224.9,395 225.9,396.1 226.8,397.1 227.7,398.1 228.7,399.1 229.7,400.1 230.7,401.1 231.9,402.1 232.9,403 233.9,403.7 234.6,404.1 235.9,404.8 236.9,405.1 237.9,405.4 238.9,405.5 239.9,405.6 240.9,405.5 241.9,405.3 242.9,405 243.9,404.5 244.6,404.1 245.9,403.2 246.9,402.4 247.9,401.5 248.9,400.5 249.9,399.5 250.4,399.1 251,398.6 251.5,398.1 252.8,397.1 254,396.3 255,395.7 255.9,395.1 257,394.5 257.8,394.1 259,393.6 260,393.2 261,392.8 262,392.5 263,392.2 264,392 265,391.8 266,391.6 267,391.5 268,391.4 269,391.4 270,391.4 271,391.5 272,391.5 273,391.7 274,391.8 275,392 276,392.3 277,392.5 278,392.8 279,393.1 280,393.5 281,393.8 281.9,394.1 283,394.6 284,395 285,395.4 286,395.7 287,396.1 288,396.5 289,396.9 289.8,397.1 291.1,397.6 292.1,397.9 292.9,398.1 294.1,398.4 295.1,398.7 296.1,399 296.9,399.1 298.1,399.4 299.1,399.6 300.1,399.8 301.1,400 301.9,400.1 303.1,400.4 304.1,400.5 305.1,400.7 306.1,400.9 307.1,401.1 308.1,401.3 309.1,401.6 310.1,401.8 311.1,402 312.1,402.3 313.1,402.6 314.1,402.9 315,403.1 316.1,403.5 317.1,403.8 318,404.1 319.1,404.5 320.1,404.9 321.1,405.3 322.1,405.7 323.1,406.2 324.1,406.6 325.1,407 326.1,407.5 327.1,407.9 327.8,408.2 329.1,408.7 330.1,409.1 331.2,409.5 332.2,409.8 333.2,410.1 334.2,410.3 335.2,410.5 336.2,410.6 337.2,410.6 338.2,410.6 339.2,410.4 340.2,410.3 341.2,410 342.2,409.7 343.2,409.4 343.8,409.2 345.2,408.7 346.2,408.3 347.2,408 348.2,407.6 349.2,407.4 350,407.2 351.2,406.9 352.2,406.8 353.2,406.7 354.2,406.7 355.2,406.8 356.2,406.9 357.2,407.1 358.2,407.4 359.2,407.8 360.1,408.2 361.2,408.8 361.8,409.2 363.2,410.2 364.2,411.1 365.2,412.1 366.2,413.2 367.1,414.2 367.8,415.2 368.2,415.7 368.6,416.2 369.2,417.1 370.1,418.2 370.8,419.2 371.3,419.8 372.2,421.2 373,422.2 373.7,423.2 374.3,424 375.2,425.2 375.9,426.2 376.3,426.7 377.3,428.2 378,429.2 378.7,430.2 379.3,431.1 380,432.2 380.6,433.2 381.3,434.2 381.9,435.2 382.3,435.9 383,437.2 383.6,438.2 384,439.2 384.3,439.9 384.7,441.2 384.9,442.2 385,443.2 385,444.2 384.8,445.2 384.5,446.2 384,447.2 383.3,448.2 382.3,449.2 381.3,450 380.3,450.8 379.6,451.2 378.3,452.1 377.3,452.7 376.3,453.2 375.3,453.8 374.6,454.3 373.3,455 372.3,455.7 371.3,456.3 370.2,456.9 369.8,457.3 369.2,457.6 368.2,458.2 367.2,458.9 366.6,459.3 365.2,460.1 364.2,460.7 363.2,461.2 362.2,461.7 361.2,462.2 360.2,462.7 359.2,463.2 358.2,463.6 357.2,464 356.3,464.3 355.2,464.7 354.2,465 353.2,465.2 352.2,465.5 351.2,465.7 350.2,465.9 349.2,466.1 348.2,466.2 347.2,466.4 346.2,466.5 345.2,466.6 344.2,466.7 343.2,466.8 342.2,466.9 341.2,467 340.2,467 339.2,467 338.2,467.1 337.2,467.1 336.2,467.1 335.2,467.1 334.2,467.1 333.2,467.1 332.2,467.1 331.2,467.1 330.1,467.1 329.1,467.1 328.1,467.1 327.1,467.1 326.1,467.1 325.1,467 324.1,467 323.1,467 322.1,467 321.1,466.9 320.1,466.9 319.1,466.9 318.1,466.8 317.1,466.8 316.1,466.8 315.1,466.7 314.1,466.7 313.1,466.6 312.1,466.6 311.1,466.6 310.1,466.5 309.1,466.5 308.1,466.4 307.1,466.4 306.1,466.3 305.1,466.3 304.1,466.2 303.1,466.2 302.1,466.1 301.1,466.1 300.1,466 299.1,466 298.1,465.9 297.1,465.8 296.1,465.7 295.1,465.6 294.1,465.5 293.1,465.5 292.1,465.4 291.1,465.3 290,465.2 289,465.2 288,465.2 287,465.1 286,465.1 285,465.2 284,465.2 283,465.2 282,465.3 281,465.4 280,465.5 279,465.6 278,465.7 277,465.8 276,465.9 275,466.1 274,466.2 273,466.3 272,466.4 271,466.5 270,466.5 269,466.6 268,466.7 267,466.7 266,466.7 265,466.8 264,466.8 263,466.8 262,466.8 261,466.8 260,466.8 259,466.7 258,466.7 257,466.7 256,466.7 255,466.6 254,466.6 253,466.6 252,466.5 251,466.5 249.9,466.5 248.9,466.5 247.9,466.4 246.9,466.4 245.9,466.4 244.9,466.4 243.9,466.4 242.9,466.4 241.9,466.4 240.9,466.4 239.9,466.4 238.9,466.4 237.9,466.4 236.9,466.4 235.9,466.4 234.9,466.4 233.9,466.4 232.9,466.4 231.9,466.4 230.9,466.4 229.9,466.4 228.9,466.4 227.9,466.4 226.9,466.4 225.9,466.4 224.9,466.3 223.9,466.3 222.9,466.3 221.9,466.3 220.9,466.2 219.9,466.2 218.9,466.1 217.9,466.1 216.9,466 215.9,466 214.9,465.9 213.9,465.8 212.9,465.7 211.9,465.6 210.9,465.5 209.8,465.4 208.8,465.2 207.8,465.1 206.8,465 205.8,464.8 204.8,464.6 203.8,464.4 203.1,464.3 201.8,464 200.8,463.8 199.8,463.6 198.8,463.3 197.8,463.1 196.8,462.8 195.8,462.6 194.8,462.3 193.8,462 192.8,461.7 191.8,461.4 190.8,461.1 189.8,460.8 188.8,460.5 187.8,460.1 186.8,459.8 185.8,459.4 184.8,459.1 183.8,458.7 182.8,458.3 181.8,457.9 180.8,457.5 179.8,457 178.8,456.6 178.1,456.3 176.8,455.6 176.2,455.3 174.8,454.4 173.8,453.7 173.1,453.3 171.8,452.3 170.8,451.3 169.8,450.2 169,449.2 168.4,448.2 167.9,447.2 167.6,446.2 167.4,445.2 167.3,444.2 167.3,443.2 167.5,442.2 167.7,441.5 168.2,440.2 168.7,439.3 169.4,438.2 170.2,437.2 170.8,436.6 171.2,436.2 171.8,435.6 172.2,435.2 172.8,434.8 173.4,434.2 174.8,433.2 175.8,432.6 176.4,432.2 177.8,431.4 178.8,430.9 179.8,430.4 180.8,429.9 181.8,429.5 182.7,429.2 183.8,428.8 184.8,428.5 185.7,428.2 186.8,427.9 187.8,427.6 188.8,427.4 189.5,427.2 190.8,426.8 191.8,426.6 192.8,426.4 193.5,426.2 194.8,425.8 195.8,425.5 196.7,425.2 197.8,424.7 198.8,424.2 199.8,423.6 200.4,423.2 200.8,422.7 201.3,422.2 201.8,421.2 202,420.2 202,419.2 201.8,418.2 201.6,417.2 201.3,416.2 201.1,415.2 200.8,414.2 200.6,413.2 200.4,412.2 200.2,411.2 200,410.2 199.8,409.2 199.7,408.2 199.5,407.2 199.4,406.2 199.2,405.1 199,404.1 198.8,403.3 198.6,402.1 198.3,401.1 198.1,400.1 197.9,399.1 197.7,398.1 197.5,397.1 197.3,396.1 197.2,395.1 197.2,394.1 197.2,393.1 197.3,392.1 197.4,391.1 197.6,390.1 197.8,389.2 198.2,388.1 198.5,387.1 198.8,386.4 199.4,385.1 199.8,384.1 200.3,383.1 200.8,382.1 201.4,381.1 201.8,380.1 202.5,379.1 202.8,378.4 203.8,377.3 204.5,377.1Z"/>
<path fill="#c0dff4" d="M334.7,261.8 336.2,261.4 337.2,261.2 338.2,261.2 339.2,261.2 340.2,261.3 341.2,261.5 342.2,261.7 343.2,262 344.2,262.3 345.2,262.7 346.2,263.1 347.2,263.6 348.2,264.2 349.2,264.8 350.2,265.6 351.2,266.4 351.8,266.8 352.2,267.2 352.8,267.8 353.8,268.9 354.8,269.9 355.2,270.3 355.7,270.9 356.2,271.5 357.2,272.7 358.1,273.9 358.9,274.9 359.7,275.9 360.2,276.6 361.1,277.9 361.8,278.9 362.2,279.5 363.2,280.9 363.8,281.9 364.2,282.6 365,283.9 365.5,284.9 366.1,285.9 366.5,286.9 367,287.9 367.2,288.5 367.8,289.9 368.1,290.9 368.4,291.9 368.7,292.9 368.9,293.9 369.1,294.9 369.2,295.7 369.4,296.9 369.5,297.9 369.5,298.9 369.5,299.9 369.4,300.9 369.3,301.9 369.2,302.9 369,303.9 368.6,304.9 368.2,305.8 367.5,306.9 366.4,307.9 365.2,308.5 364.2,308.8 363.2,308.9 362.2,308.8 361.2,308.7 360.2,308.6 359.2,308.3 358.2,308 357.2,307.6 356.2,307.2 355.6,306.9 354.2,306.3 353.6,305.9 352.2,305.1 351.2,304.5 350.4,303.9 349.2,303 348.2,302.1 347.2,301.2 346.2,300.2 345.2,299 344.3,297.9 343.6,296.9 343.2,296.2 342.4,294.9 341.8,293.9 341.3,292.9 340.8,291.9 340.4,290.9 340,289.9 339.5,288.9 339.2,288 338.7,286.9 338.3,285.9 337.8,284.9 337.4,283.9 337.2,283.3 336.5,281.9 336.2,281.1 335.6,279.9 335.2,278.9 334.7,277.9 334.3,276.9 333.8,275.9 333.4,274.9 333.2,274.2 332.7,272.9 332.4,271.9 332.2,271.1 331.9,269.9 331.7,268.9 331.6,267.8 331.6,266.8 331.6,265.8 331.9,264.8 332.2,264.2 333.1,262.8 334.2,262.1ZM202.5,329 203.4,329 203.8,329.5 202.8,330.8 202,330 202.5,329ZM209.2,395.1 209.8,395 210.9,395 211.9,395.2 212.9,395.6 213.9,396.1 214.9,396.7 215.4,397.1 215.9,397.5 216.7,398.1 217.8,399.1 218.9,400.1 219.9,401 220.9,402 221.9,402.9 222.9,403.8 223.9,404.7 224.4,405.1 224.9,405.5 225.6,406.2 226.9,407.1 227.9,407.8 228.9,408.5 229.9,409.1 230.9,409.6 231.9,410.1 232.9,410.5 233.9,410.8 234.9,411.1 235.9,411.3 236.9,411.4 237.9,411.4 238.9,411.5 239.9,411.4 240.9,411.3 241.9,411.2 242.9,411 243.9,410.7 244.9,410.5 245.9,410.2 246.9,409.8 247.9,409.3 248.9,408.9 249.9,408.4 251,407.8 252,407.2 253,406.6 253.6,406.2 255,405.2 256,404.5 257,403.7 257.9,403.1 259,402.4 259.5,402.1 261,401.4 262,400.9 263,400.5 264,400.2 265,399.9 266,399.7 267,399.5 268,399.4 269,399.3 270,399.3 271,399.3 272,399.3 273,399.4 274,399.6 275,399.7 276,399.9 276.8,400.1 278,400.4 279,400.7 280,401 281,401.4 282,401.7 283,402 284,402.4 285,402.7 286,403.1 287,403.4 288,403.7 289,404 290,404.3 291.1,404.6 292.1,404.8 293.1,405 294.1,405.3 295.1,405.4 296.1,405.6 297.1,405.8 298.1,405.9 299.1,406.1 299.9,406.2 301.1,406.3 302.1,406.4 303.1,406.5 304.1,406.6 305.1,406.7 306.1,406.8 307.1,407 308.1,407.1 309.1,407.3 310.1,407.4 311.1,407.6 312.1,407.8 313.1,408.1 314.1,408.3 315.1,408.6 316.1,408.9 316.9,409.2 318.1,409.6 319.1,410 320.1,410.4 321.1,410.8 321.8,411.2 323.1,411.8 323.8,412.2 325.1,412.9 326.1,413.4 327.1,414 328.1,414.5 329.1,414.9 330.1,415.4 331.2,415.7 332.2,416.1 333.2,416.3 334.2,416.5 335.2,416.7 336.2,416.8 337.2,416.9 338.2,416.9 339.2,416.9 340.2,416.8 341.2,416.7 342.2,416.5 343.2,416.4 344.2,416.2 345.2,416 346.2,415.7 347.2,415.5 348.2,415.3 348.9,415.2 350.2,414.9 351.2,414.8 352.2,414.8 353.2,414.8 354.2,414.9 355.2,415.1 356.2,415.4 357.2,415.8 358,416.2 359.2,416.9 360.2,417.6 361,418.2 362.2,419.2 363.2,420.1 364.2,421.1 365.2,422 366.2,423.1 367.2,424.1 368.2,425.2 369.1,426.2 369.9,427.2 370.7,428.2 371.3,428.9 372.2,430.2 372.9,431.2 373.3,431.8 374.1,433.2 374.7,434.2 375.2,435.2 375.7,436.2 376.2,437.2 376.6,438.2 377,439.2 377.3,440.2 377.5,441.2 377.6,442.2 377.6,443.2 377.5,444.2 377.3,445.2 376.9,446.2 376.4,447.2 375.7,448.2 375.3,448.8 374.3,450 373.3,451.1 372.3,452.1 371.3,453 370.2,453.9 369.2,454.8 368.7,455.3 367.4,456.3 366.2,457.2 365.2,457.9 364.7,458.3 364.2,458.6 363.2,459.2 362.2,459.9 361.5,460.3 360.2,461 359.6,461.3 358.2,462 357.5,462.3 356.2,462.8 355.2,463.1 354.2,463.5 353.2,463.8 352.2,464 351.2,464.3 350.2,464.5 349.2,464.7 348.2,464.9 347.2,465 346.2,465.2 345.3,465.3 344.2,465.4 343.2,465.5 342.2,465.6 341.2,465.6 340.2,465.7 339.2,465.7 338.2,465.8 337.2,465.8 336.2,465.8 335.2,465.8 334.2,465.8 333.2,465.8 332.2,465.8 331.2,465.8 330.1,465.8 329.1,465.8 328.1,465.8 327.1,465.8 326.1,465.8 325.1,465.7 324.1,465.7 323.1,465.7 322.1,465.6 321.1,465.6 320.1,465.6 319.1,465.5 318.1,465.5 317.1,465.4 316.1,465.4 315.1,465.4 314.1,465.3 313.2,465.3 312.1,465.2 311.1,465.2 310.1,465.2 309.1,465.1 308.1,465.1 307.1,465 306.1,465 305.1,464.9 304.1,464.9 303.1,464.8 302.1,464.8 301.1,464.7 300.1,464.6 299.1,464.5 298.1,464.5 297.1,464.4 296.1,464.3 295.1,464.2 294.1,464.1 293.1,464 292.1,463.9 291.1,463.8 290,463.8 289,463.7 288,463.7 287,463.6 286,463.6 285,463.6 284,463.7 283,463.7 282,463.8 281,463.9 280,464 279,464.1 278,464.2 277,464.4 276,464.5 275,464.6 274,464.7 273,464.9 272,465 271,465.1 270,465.1 269,465.2 268,465.3 267,465.3 266,465.4 265,465.4 264,465.4 263,465.4 262,465.4 261,465.4 260,465.4 259,465.4 258,465.4 257,465.4 256,465.3 255,465.3 254,465.3 253,465.3 252,465.2 251,465.2 250,465.2 248.9,465.2 247.9,465.2 246.9,465.2 245.9,465.1 244.9,465.1 243.9,465.1 242.9,465.1 241.9,465.1 240.9,465.1 239.9,465.1 238.9,465.1 237.9,465.2 236.9,465.2 235.9,465.2 234.9,465.2 233.9,465.2 232.9,465.2 231.9,465.2 230.9,465.2 229.9,465.1 228.9,465.1 227.9,465.1 226.9,465.1 225.9,465.1 224.9,465.1 223.9,465 222.9,465 221.9,465 220.9,464.9 219.9,464.9 218.9,464.8 217.9,464.8 216.9,464.7 215.9,464.6 214.9,464.6 213.9,464.5 212.9,464.4 211.9,464.2 210.9,464.1 209.8,464 208.8,463.9 207.8,463.7 206.8,463.6 205.8,463.4 204.8,463.2 203.8,463 202.8,462.8 201.8,462.6 200.8,462.4 199.8,462.1 198.8,461.9 197.8,461.6 196.8,461.3 195.8,461.1 194.8,460.8 193.8,460.5 192.8,460.2 191.8,459.8 190.8,459.5 190.1,459.3 188.8,458.8 187.8,458.5 186.8,458.1 185.8,457.7 184.8,457.3 183.8,456.9 182.8,456.5 181.8,456 180.8,455.6 180.1,455.3 178.8,454.5 177.8,454 176.8,453.3 175.8,452.6 175.2,452.3 174.8,451.9 174,451.2 173,450.2 172.1,449.2 171.8,448.7 170.9,447.2 170.5,446.2 170.3,445.2 170.2,444.2 170.2,443.2 170.4,442.2 170.8,441.2 171.2,440.2 171.8,439.3 172.5,438.2 173.4,437.2 174.5,436.2 175.7,435.2 176.8,434.4 177.8,433.8 178.8,433.2 179.8,432.7 180.7,432.2 181.8,431.7 182.8,431.3 183.8,431 184.8,430.6 185.8,430.3 186.8,430 187.8,429.7 188.8,429.5 189.8,429.3 190.8,429 191.8,428.8 192.8,428.6 193.8,428.4 194.8,428.2 195.8,428 196.8,427.7 197.8,427.5 198.8,427.3 199.8,427 200.8,426.7 201.8,426.4 202.8,426 203.8,425.6 204.6,425.2 205.8,424.4 206.8,423.6 207.3,423.2 207.8,422.4 208.3,421.2 208.5,420.2 208.4,419.2 208.2,418.2 208,417.2 207.7,416.2 207.5,415.2 207.2,414.2 207,413.2 206.8,412.4 206.6,411.2 206.5,410.2 206.4,409.2 206.4,408.2 206.3,407.2 206.3,406.2 206.3,405.1 206.3,404.1 206.2,403.1 206.2,402.1 206.3,401.1 206.3,400.1 206.4,399.1 206.6,398.1 206.8,397.4 207.6,396.1 208.8,395.2Z"/>
<path fill="#b2d8f2" d="M342,269.9 343.2,269.5 344.2,269.4 345.2,269.5 346.2,269.6 346.9,269.9 348.2,270.3 349.2,270.8 350.2,271.3 351.1,271.9 352.2,272.6 353.2,273.4 353.7,273.9 354.2,274.3 354.8,274.9 355.9,275.9 356.9,276.9 357.8,277.9 358.2,278.4 358.7,278.9 359.2,279.5 360.2,280.8 361,281.9 361.7,282.9 362.2,283.7 363,284.9 363.6,285.9 364.1,286.9 364.6,287.9 365,288.9 365.2,289.5 365.7,290.9 366,291.9 366.2,292.9 366.4,293.9 366.5,294.9 366.6,295.9 366.6,296.9 366.5,297.9 366.4,298.9 366.1,299.9 365.7,300.9 365.2,301.9 364.4,302.9 363.2,303.9 362.2,304.3 361.2,304.6 360.2,304.7 359.2,304.6 358.2,304.5 357.2,304.3 356.2,304 355.2,303.7 354.2,303.2 353.6,302.9 352.2,302.1 351.2,301.5 350.4,300.9 349.2,299.9 348.2,298.9 347.3,297.9 346.4,296.9 345.7,295.9 345.2,295.1 344.5,293.9 344.2,293.4 343.5,291.9 343.2,291.3 342.6,289.9 342.2,288.9 341.9,287.9 341.5,286.9 341.2,285.9 340.9,284.9 340.6,283.9 340.3,282.9 340.1,281.9 339.8,280.9 339.6,279.9 339.4,278.9 339.3,277.9 339.2,277.1 339.1,275.9 339.1,274.9 339.2,274 339.4,272.9 339.8,271.9 340.2,271.3 341.2,270.3 342,269.9ZM266.1,407.2 267,407 268,406.9 269,406.8 270,406.8 271,406.8 272,406.8 273,406.9 274,407 274.9,407.2 276,407.3 277,407.6 278,407.8 279,408.1 280,408.3 281,408.6 282,408.9 282.7,409.2 284,409.6 285,409.9 285.9,410.2 287,410.5 288,410.8 289,411 290,411.3 291.1,411.5 292.1,411.7 293.1,411.9 294.1,412 295.1,412.1 296.1,412.2 297.1,412.3 298.1,412.4 299.1,412.4 300.1,412.5 301.1,412.5 302.1,412.6 303.1,412.6 304.1,412.7 305.1,412.7 306.1,412.8 307.1,412.9 308.1,413 309.1,413.1 310.1,413.2 311.1,413.4 312.1,413.6 313.1,413.8 314.1,414 314.8,414.2 316.1,414.5 317.1,414.9 318,415.2 319.1,415.6 320.1,415.9 321.1,416.3 322.1,416.7 323.1,417.1 324.1,417.5 325.1,417.8 326.1,418.2 327.1,418.5 328.1,418.8 329.1,419.1 330.1,419.3 331.2,419.5 332.2,419.7 333.2,419.8 334.2,419.9 335.2,420 336.2,420.1 337.2,420.1 338.2,420.1 339.2,420.1 340.2,420.1 341.2,420.1 342.2,420 343.2,419.9 344.2,419.9 345.2,419.8 346.2,419.8 347.2,419.7 348.2,419.7 349.2,419.7 350.2,419.7 351.2,419.8 352.2,419.9 353.2,420.1 354.2,420.3 355.2,420.6 356.2,420.9 356.8,421.2 358.2,421.8 358.9,422.2 360.2,422.9 361.2,423.6 362,424.2 363.2,425.1 364.2,426 365.2,427 366.2,428 367.2,429.1 368.1,430.2 368.8,431.2 369.2,431.8 370.1,433.2 370.7,434.2 371.2,435.2 371.7,436.2 372.1,437.2 372.5,438.2 372.8,439.2 373,440.2 373.2,441.2 373.2,442.2 373.2,443.2 373.2,444.2 373,445.2 372.7,446.2 372.3,447.2 371.8,448.2 371.3,449.2 370.5,450.2 369.8,451.2 369.2,451.9 368.2,453 367.2,454.1 366.2,455 365.2,455.9 364.2,456.7 363.6,457.3 362.2,458.2 361.2,458.9 360.6,459.3 359.2,460 358.2,460.6 357.2,461 356.7,461.3 355.2,461.9 354.2,462.2 353.2,462.5 352.2,462.8 351.2,463.1 350.5,463.3 349.2,463.6 348.2,463.7 347.2,463.9 346.2,464.1 345.2,464.2 344.2,464.3 343.2,464.4 342.2,464.5 341.2,464.5 340.2,464.6 339.2,464.6 338.2,464.7 337.2,464.7 336.2,464.7 335.2,464.7 334.2,464.7 333.2,464.7 332.2,464.7 331.2,464.7 330.1,464.7 329.1,464.7 328.1,464.7 327.1,464.7 326.1,464.7 325.1,464.6 324.1,464.6 323.1,464.6 322.1,464.5 321.1,464.5 320.1,464.5 319.1,464.4 318.1,464.4 317.1,464.3 316.1,464.3 315.1,464.2 314.1,464.2 313.1,464.2 312.1,464.1 311.1,464.1 310.1,464 309.1,464 308.1,463.9 307.1,463.9 306.1,463.9 305.1,463.8 304.1,463.7 303.1,463.7 302.1,463.6 301.1,463.5 300.1,463.4 299.1,463.4 298.2,463.3 297.1,463.2 296.1,463.1 295.1,463 294.1,462.9 293.1,462.8 292.1,462.7 291.1,462.6 290,462.5 289,462.4 288,462.4 287,462.3 286,462.3 285,462.3 284,462.4 283,462.4 282,462.5 281,462.6 280,462.7 279,462.8 278,463 277,463.1 276,463.2 275,463.4 274,463.5 273,463.7 272,463.8 271,463.9 270,464 269,464.1 268,464.1 267,464.2 266,464.2 265,464.3 264,464.3 263,464.3 262,464.3 261,464.3 260,464.3 259,464.3 258,464.3 257,464.3 256,464.3 255,464.2 254,464.2 253,464.2 252,464.2 251,464.2 249.9,464.1 248.9,464.1 247.9,464.1 246.9,464.1 245.9,464.1 244.9,464.1 243.9,464.1 242.9,464.1 241.9,464.1 240.9,464.1 239.9,464.1 238.9,464.1 237.9,464.1 236.9,464.1 235.9,464.1 234.9,464.1 233.9,464.1 232.9,464.1 231.9,464.1 230.9,464.1 229.9,464.1 228.9,464.1 227.9,464.1 226.9,464 225.9,464 224.9,464 223.9,464 222.9,463.9 221.9,463.9 220.9,463.8 219.9,463.8 218.9,463.7 217.9,463.7 216.9,463.6 215.9,463.5 214.9,463.4 213.9,463.3 212.9,463.2 211.9,463.1 210.9,463 209.8,462.9 208.8,462.7 207.8,462.6 206.8,462.4 205.8,462.2 204.8,462 203.8,461.8 202.8,461.6 201.8,461.4 200.8,461.1 199.8,460.9 198.8,460.6 197.8,460.3 196.8,460.1 195.8,459.8 194.8,459.5 193.8,459.1 192.8,458.8 191.8,458.5 191.2,458.3 189.8,457.8 188.8,457.4 187.8,457 186.8,456.6 185.9,456.3 184.8,455.8 183.8,455.4 182.8,454.9 181.8,454.4 180.8,453.8 179.8,453.3 178.8,452.6 178.2,452.3 177.8,451.9 176.9,451.2 175.8,450.2 174.9,449.2 174.1,448.2 173.8,447.6 173.1,446.2 172.8,445.2 172.8,444.4 172.8,443.2 173,442.2 173.3,441.2 173.8,440.3 174.5,439.2 175.3,438.2 175.8,437.7 176.3,437.2 176.8,436.8 177.4,436.2 178.8,435.3 179.8,434.7 180.6,434.2 181.8,433.6 182.6,433.2 183.8,432.7 184.8,432.4 185.8,432 186.8,431.7 187.8,431.4 188.7,431.2 189.8,430.9 190.8,430.7 191.8,430.5 192.8,430.3 193.8,430.1 194.8,429.9 195.8,429.7 196.8,429.5 197.8,429.3 198.8,429.1 199.8,428.9 200.8,428.7 201.8,428.4 202.8,428.2 203.8,427.9 204.8,427.6 205.8,427.3 206.8,427 207.8,426.6 208.8,426.2 209.8,425.7 210.9,425.2 211.9,424.6 212.5,424.2 213.7,423.2 214.5,422.2 214.9,421.5 215.4,420.2 215.7,419.2 215.8,418.2 215.9,417.2 216,416.2 216.2,415.2 216.5,414.2 216.9,413.6 217.3,413.2 217.9,412.8 218.9,412.5 219.9,412.4 220.9,412.5 221.9,412.7 222.9,413 223.6,413.2 224.9,413.5 225.9,413.8 226.9,414.1 227.9,414.4 228.9,414.7 229.9,414.9 230.9,415.1 231.6,415.2 232.9,415.3 233.9,415.4 234.9,415.5 235.9,415.5 236.9,415.4 237.9,415.4 238.9,415.3 239.9,415.2 240.9,415 241.9,414.8 242.9,414.6 243.9,414.4 244.9,414.2 245.9,413.9 246.9,413.6 247.9,413.3 248.9,412.9 249.9,412.6 251,412.2 252,411.9 253,411.5 253.8,411.2 255,410.7 256,410.3 257,409.9 258,409.6 259,409.2 260,408.8 261,408.5 262,408.2 263,407.9 264,407.6 265,407.4 266,407.2Z"/>
<path fill="#a4d1ef" d="M345.4,276.9 346.2,276.3 347.2,276 348.2,276 349.2,276.1 350.2,276.3 351.2,276.7 352.2,277.2 353.2,277.8 354.2,278.5 354.7,278.9 355.2,279.3 355.9,279.9 356.9,280.9 357.9,281.9 358.8,282.9 359.2,283.4 360.2,284.8 360.9,285.9 361.5,286.9 362.1,287.9 362.5,288.9 362.9,289.9 363.2,290.9 363.5,291.9 363.7,292.9 363.8,293.9 363.8,294.9 363.8,295.9 363.6,296.9 363.3,297.9 362.7,298.9 362.2,299.6 361.2,300.4 360.2,300.9 359.2,301.2 358.2,301.2 357.2,301.2 356.2,301 355.2,300.7 354.2,300.3 353.4,299.9 352.2,299.2 351.2,298.5 350.5,297.9 349.5,296.9 348.6,295.9 348.2,295.4 347.8,294.9 347.2,294 346.6,292.9 346.2,292.1 345.6,290.9 345.2,289.9 344.9,288.9 344.6,287.9 344.3,286.9 344.2,286.2 343.9,284.9 343.8,283.9 343.7,282.9 343.7,281.9 343.7,280.9 343.9,279.9 344.1,278.9 344.6,277.9 345.2,277.1ZM260.6,413.2 262,413 263,412.8 264,412.7 265,412.7 266,412.6 267,412.6 268,412.7 269,412.7 270,412.9 271,413 271.9,413.2 273,413.4 274,413.7 275,414 276,414.4 277,414.7 278,415.2 279,415.6 280,416.1 281,416.6 282,417.1 283,417.5 284,417.9 285,418.2 286,418.4 287,418.5 288,418.6 289,418.6 290,418.6 291.1,418.6 292.1,418.5 293.1,418.4 294.1,418.4 295.1,418.3 296.1,418.2 297.1,418.1 298.1,418 299.1,417.9 300.1,417.9 301.1,417.8 302.1,417.8 303.1,417.8 304.1,417.7 305.1,417.7 306.1,417.7 307.1,417.8 308.1,417.8 309.1,417.8 310.1,417.9 311.1,418 312.1,418.1 313.1,418.2 314.1,418.4 315.1,418.5 316.1,418.7 317.1,418.9 318.1,419.1 319.1,419.3 320.1,419.5 321.1,419.8 322.1,420 322.9,420.2 324.1,420.4 325.1,420.7 326.1,420.9 327.1,421.1 328.1,421.3 329.1,421.4 330.1,421.6 331.2,421.7 332.2,421.8 333.2,421.9 334.2,422 335.2,422.1 336.2,422.1 337.2,422.1 338.2,422.1 339.2,422.1 340.2,422.1 341.2,422.1 342.2,422.1 343.2,422.1 344.2,422 345.2,422 346.2,422 347.2,422 348.2,422.1 349.2,422.2 350.2,422.3 351.2,422.4 352.2,422.6 353.2,422.8 354.2,423.1 355.2,423.4 356.2,423.7 357.2,424.2 358.2,424.7 359.1,425.2 360.2,425.9 361.2,426.6 362,427.2 363.2,428.2 364.2,429.2 365.1,430.2 365.9,431.2 366.7,432.2 367.2,433 368,434.2 368.2,434.8 369,436.2 369.2,436.9 369.7,438.2 370,439.2 370.2,440.2 370.4,441.2 370.5,442.2 370.5,443.2 370.4,444.2 370.3,445.2 370,446.2 369.7,447.2 369.3,448.2 368.8,449.2 368.2,450.2 367.5,451.2 366.8,452.3 366.2,452.9 365.2,454 364.2,455 363.2,455.9 362.8,456.3 362.2,456.7 361.5,457.3 360.2,458.1 359.2,458.7 358.3,459.3 357.2,459.8 356.3,460.3 355.2,460.7 354.2,461.1 353.2,461.5 352.2,461.8 351.2,462.1 350.3,462.3 349.2,462.5 348.2,462.7 347.2,462.9 346.2,463.1 345.2,463.2 344.2,463.3 343.2,463.4 342.2,463.5 341.2,463.6 340.2,463.6 339.2,463.7 338.2,463.7 337.2,463.7 336.2,463.8 335.2,463.8 334.2,463.8 333.2,463.8 332.2,463.8 331.2,463.8 330.1,463.8 329.1,463.8 328.1,463.8 327.1,463.7 326.1,463.7 325.1,463.7 324.1,463.6 323.1,463.6 322.1,463.6 321.1,463.5 320.1,463.5 319.1,463.5 318.1,463.4 317.1,463.4 316.1,463.3 315.3,463.3 314.1,463.2 313.1,463.2 312.1,463.1 311.1,463.1 310.1,463 309.1,463 308.1,463 307.1,462.9 306.1,462.9 305.1,462.8 304.1,462.7 303.1,462.7 302.1,462.6 301.1,462.5 300.1,462.4 299.1,462.3 298.1,462.2 297.1,462.1 296.1,462 295.1,461.9 294.1,461.8 293.1,461.7 292.1,461.6 291.1,461.5 290,461.4 289,461.3 288,461.2 287,461.2 286,461.2 285,461.2 284,461.2 283.1,461.3 282,461.4 281,461.5 280,461.6 279,461.7 278,461.9 277,462 276,462.2 275.2,462.3 274,462.5 273,462.6 272,462.7 271,462.9 270,463 269,463 268,463.1 267,463.2 266,463.2 265,463.3 264,463.3 263,463.4 262,463.4 261,463.4 260,463.4 259,463.4 258,463.4 257,463.3 256,463.3 255,463.3 254,463.3 253,463.3 252,463.2 251,463.2 249.9,463.2 248.9,463.2 247.9,463.2 246.9,463.2 245.9,463.2 244.9,463.2 243.9,463.2 242.9,463.2 241.9,463.2 240.9,463.2 239.9,463.2 238.9,463.2 237.9,463.2 236.9,463.2 235.9,463.2 234.9,463.2 233.9,463.2 232.9,463.2 231.9,463.2 230.9,463.2 229.9,463.2 228.9,463.1 227.9,463.1 226.9,463.1 225.9,463.1 224.9,463 223.9,463 222.9,463 221.9,462.9 220.9,462.9 219.9,462.8 218.9,462.8 217.9,462.7 216.9,462.6 215.9,462.5 214.9,462.5 213.9,462.3 212.9,462.2 211.9,462.1 210.9,462 209.9,461.9 208.8,461.7 207.8,461.5 206.8,461.4 205.8,461.2 204.8,461 203.8,460.8 202.8,460.5 201.8,460.3 200.8,460 199.8,459.8 198.8,459.5 198,459.3 196.8,458.9 195.8,458.6 194.8,458.3 193.8,458 192.8,457.6 191.8,457.3 190.8,456.9 189.8,456.5 189.1,456.3 187.8,455.7 186.8,455.3 185.8,454.8 184.8,454.4 183.8,453.9 182.8,453.3 181.8,452.8 181,452.3 179.8,451.4 178.8,450.6 178.3,450.2 177.8,449.7 177.3,449.2 176.8,448.6 175.9,447.2 175.4,446.2 175.1,445.2 175,444.2 175.1,443.2 175.3,442.2 175.6,441.2 176.2,440.2 176.8,439.4 177.8,438.3 178.8,437.4 179.8,436.6 180.3,436.2 181.8,435.3 182.8,434.8 183.8,434.3 184.8,433.9 185.8,433.5 186.8,433.2 187.8,432.9 188.8,432.6 189.8,432.3 190.8,432.1 191.8,431.9 192.8,431.7 193.8,431.5 194.8,431.3 195.8,431.1 196.8,430.9 197.8,430.7 198.8,430.5 199.8,430.4 200.7,430.2 201.8,430 202.8,429.7 203.8,429.5 204.8,429.3 205.8,429.1 206.8,428.8 207.8,428.5 208.8,428.3 209.8,428 210.9,427.7 211.9,427.3 212.9,427 213.9,426.6 214.9,426.3 215.9,425.8 216.9,425.4 217.9,425 218.9,424.5 219.6,424.2 220.9,423.5 221.6,423.2 222.9,422.5 223.7,422.2 224.9,421.7 225.9,421.3 226.9,421 227.9,420.8 228.9,420.6 229.9,420.4 230.9,420.2 231.9,420.1 232.9,420 233.9,419.8 234.9,419.7 235.9,419.5 236.9,419.3 237.6,419.2 238.9,418.9 239.9,418.7 240.9,418.5 241.9,418.2 242.9,417.9 243.9,417.7 244.9,417.4 245.6,417.2 246.9,416.8 247.9,416.5 248.9,416.2 249.9,415.9 251,415.6 252,415.3 253,415 254,414.7 255,414.4 256,414.2 257,413.9 258,413.7 259,413.5 260,413.3Z"/>
<path fill="#96c9ed" d="M349.7,281.9 351.2,281.7 352.2,281.8 353.2,282.2 354.2,282.7 355.2,283.4 355.7,283.9 356.2,284.3 356.8,284.9 357.2,285.3 357.7,285.9 358.2,286.6 359.1,287.9 359.6,288.9 360,289.9 360.4,290.9 360.6,291.9 360.7,292.9 360.6,293.9 360.4,294.9 360,295.9 359.2,296.8 358.2,297.4 357.2,297.6 356.2,297.6 355.2,297.4 354.2,297 353.2,296.5 352.4,295.9 351.2,294.9 350.4,293.9 349.7,292.9 349.2,292.1 348.6,290.9 348.2,289.9 347.9,288.9 347.7,287.9 347.6,286.9 347.6,285.9 347.7,284.9 347.9,283.9 348.2,283.2 349.2,282.1ZM258.9,417.2 260,417.1 261,417 262,417 263,417 264,417.1 265,417.2 266,417.3 267,417.5 268,417.8 269,418.1 270,418.4 271,418.9 271.6,419.2 273,419.9 274,420.5 275,421.2 276,421.8 276.6,422.2 278,423 279,423.5 280,423.9 281,424.2 282,424.4 283,424.5 284,424.5 285,424.4 286,424.3 287,424.1 288,423.9 289,423.6 290,423.4 290.7,423.2 292.1,422.8 293.1,422.6 294.1,422.3 294.7,422.2 296.1,421.9 297.1,421.7 298.1,421.5 299.1,421.4 300.1,421.3 301.1,421.1 302.1,421 303.1,420.9 304.1,420.9 305.1,420.8 306.1,420.8 307.1,420.8 308.1,420.8 309.1,420.8 310.1,420.8 311.1,420.9 312.1,420.9 313.1,421 314.1,421.1 315.1,421.2 316.1,421.3 317.1,421.4 318.1,421.5 319.1,421.6 320.1,421.8 321.1,421.9 322.1,422.1 323.1,422.3 324.1,422.4 325.1,422.6 326.1,422.7 327.1,422.8 328.1,423 329.1,423.1 330.1,423.2 331.2,423.3 332.2,423.4 333.2,423.5 334.2,423.5 335.2,423.6 336.2,423.6 337.2,423.6 338.2,423.6 339.2,423.6 340.2,423.6 341.2,423.6 342.2,423.6 343.2,423.6 344.2,423.6 345.2,423.6 346.2,423.7 347.2,423.7 348.2,423.8 349.2,423.9 350.2,424 351.1,424.2 352.2,424.4 353.2,424.7 354.2,425 355.2,425.3 356.2,425.8 357.1,426.2 358.2,426.8 358.9,427.2 360.2,428.1 361.2,428.9 362.2,429.8 362.6,430.2 363.2,430.8 364.2,432 365.1,433.2 365.8,434.2 366.2,435 366.9,436.2 367.2,437.1 367.7,438.2 368,439.2 368.2,440.2 368.4,441.2 368.5,442.2 368.5,443.2 368.4,444.2 368.3,445.2 368.1,446.2 367.8,447.2 367.4,448.2 366.9,449.2 366.4,450.2 365.8,451.2 365.2,451.9 364.2,453.2 363.2,454.3 362.2,455.2 361.2,456.1 360.2,456.8 359.6,457.3 358.2,458.1 357.2,458.7 356.2,459.2 355.2,459.7 354.2,460.1 353.2,460.5 352.2,460.8 351.2,461.1 350.2,461.4 349.2,461.6 348.2,461.8 347.2,462 346.2,462.2 345.5,462.3 344.2,462.4 343.2,462.5 342.2,462.6 341.2,462.7 340.2,462.8 339.2,462.8 338.2,462.9 337.2,462.9 336.2,462.9 335.2,462.9 334.2,462.9 333.2,462.9 332.2,462.9 331.2,462.9 330.1,462.9 329.1,462.9 328.1,462.9 327.1,462.9 326.1,462.8 325.1,462.8 324.1,462.8 323.1,462.8 322.1,462.7 321.1,462.7 320.1,462.6 319.1,462.6 318.1,462.5 317.1,462.5 316.1,462.4 315.1,462.4 314.1,462.3 313.1,462.3 312.1,462.3 311.1,462.2 310.1,462.2 309.1,462.1 308.1,462.1 307.1,462 306.1,461.9 305.1,461.9 304.1,461.8 303.1,461.7 302.1,461.7 301.1,461.6 300.1,461.5 299.1,461.4 298.1,461.3 297.1,461.2 296.1,461 295.1,460.9 294.1,460.8 293.1,460.7 292.1,460.6 291.1,460.4 290,460.3 289.3,460.3 288,460.2 287,460.1 286,460.1 285,460.1 284,460.2 283,460.2 282,460.3 281,460.4 280,460.5 279,460.7 278,460.8 277,461 276,461.2 275,461.3 274,461.5 273,461.6 272,461.8 271,461.9 270,462 269,462.1 268,462.2 267,462.3 266,462.4 265,462.4 264,462.5 263,462.5 262,462.5 261,462.5 260,462.5 259,462.5 258,462.5 257,462.5 256,462.5 255,462.5 254,462.5 253,462.4 252,462.4 251,462.4 249.9,462.4 248.9,462.4 247.9,462.4 246.9,462.4 245.9,462.4 244.9,462.4 243.9,462.4 242.9,462.4 241.9,462.4 240.9,462.4 239.9,462.4 238.9,462.4 237.9,462.4 236.9,462.4 235.9,462.4 234.9,462.4 233.9,462.4 232.9,462.4 231.9,462.4 230.9,462.3 229.9,462.3 228.9,462.3 227.9,462.3 226.9,462.3 225.9,462.2 224.9,462.2 223.9,462.2 222.9,462.1 221.9,462.1 220.9,462 219.9,462 218.9,461.9 217.9,461.8 216.9,461.8 215.9,461.7 214.9,461.6 213.9,461.5 212.9,461.4 211.9,461.2 210.9,461.1 209.8,460.9 208.8,460.8 207.8,460.6 206.8,460.4 206.1,460.3 204.8,460 203.8,459.8 202.8,459.6 201.8,459.3 200.8,459 199.8,458.8 198.8,458.5 198.1,458.3 196.8,457.9 195.8,457.5 195,457.3 193.8,456.9 192.8,456.5 192.2,456.3 190.8,455.7 189.8,455.3 188.8,454.9 187.8,454.5 186.8,454 185.8,453.5 184.8,453 183.8,452.4 182.8,451.8 182,451.2 180.8,450.3 179.8,449.4 178.8,448.3 178.1,447.2 177.8,446.6 177.3,445.2 177.2,444.2 177.2,443.2 177.4,442.2 177.8,441.4 178.4,440.2 179.2,439.2 179.8,438.7 180.3,438.2 180.8,437.8 181.6,437.2 182.8,436.4 183.8,435.9 184.8,435.4 185.8,435 186.8,434.6 187.8,434.2 188.8,433.9 189.8,433.6 190.8,433.4 191.5,433.2 192.8,432.9 193.8,432.7 194.8,432.5 195.8,432.3 196.8,432.1 197.8,431.9 198.8,431.8 199.8,431.6 200.8,431.4 201.8,431.2 202.8,431 203.8,430.8 204.8,430.6 205.8,430.4 206.8,430.2 207.8,430 208.8,429.7 209.8,429.5 210.9,429.3 211.9,429 212.9,428.7 213.9,428.5 214.9,428.2 215.9,427.9 216.9,427.7 217.9,427.4 218.7,427.2 219.9,426.9 220.9,426.6 221.9,426.3 222.9,426.1 223.9,425.8 224.9,425.6 225.9,425.4 226.9,425.2 227.9,425 228.9,424.8 229.9,424.6 230.9,424.4 231.9,424.2 232.9,424 233.9,423.8 234.9,423.6 235.9,423.4 236.9,423.2 237.9,423 238.9,422.7 239.9,422.4 240.7,422.2 241.9,421.8 242.9,421.5 243.8,421.2 244.9,420.8 245.9,420.5 246.7,420.2 247.9,419.8 248.9,419.4 249.8,419.2 251,418.8 252,418.5 253,418.3 254,418 255,417.8 256,417.6 257,417.4 258,417.3 258.9,417.2Z"/>
<path fill="#88c2eb" d="M256.7,421.2 258,421.1 259,421 260,421 261,421 262,421.1 263,421.3 264,421.5 265,421.7 266,422 267,422.4 268,422.7 269,423.2 270,423.6 271,424.2 272,424.6 273,425.2 274,425.6 275,426.1 276,426.5 277,426.9 277.8,427.2 279,427.5 280,427.8 281,427.9 282,428 283,428 284,427.9 285,427.7 286,427.5 287,427.2 288,426.9 289,426.6 290,426.3 291.1,425.9 292.1,425.6 293.1,425.2 294.1,424.9 295.1,424.6 296.1,424.4 296.8,424.2 298.1,423.9 299.1,423.7 300.1,423.5 301.1,423.4 302.1,423.3 303.1,423.1 304.1,423.1 305.1,423 306.1,422.9 307.1,422.9 308.1,422.8 309.1,422.8 310.1,422.8 311.1,422.8 312.1,422.9 313.1,422.9 314.1,423 315.1,423 316.1,423.1 317.1,423.2 318.1,423.3 319.1,423.4 320.1,423.5 321.1,423.6 322.1,423.7 323.1,423.8 324.1,423.9 325.1,424 326.1,424.2 327.1,424.3 328.1,424.4 329.1,424.4 330.1,424.5 331.2,424.6 332.2,424.7 333.2,424.7 334.2,424.8 335.2,424.8 336.2,424.8 337.2,424.8 338.2,424.9 339.2,424.9 340.2,424.9 341.2,424.9 342.2,424.9 343.2,424.9 344.2,424.9 345.2,424.9 346.2,425 347.2,425.1 348.2,425.2 349.2,425.3 350.2,425.5 351.2,425.7 352.2,425.9 353.2,426.2 354.2,426.5 355.2,426.9 355.8,427.2 357.2,427.9 358.2,428.5 359.2,429.2 360.2,430 361.2,430.9 362.2,432 363.2,433.2 364,434.2 364.6,435.2 365.1,436.2 365.6,437.2 366,438.2 366.2,439 366.6,440.2 366.7,441.2 366.8,442.2 366.9,443.2 366.8,444.2 366.7,445.2 366.5,446.2 366.2,447.2 365.9,448.2 365.4,449.2 364.9,450.2 364.2,451.2 363.5,452.3 362.7,453.3 362.2,453.7 361.7,454.3 361.2,454.7 360.6,455.3 359.3,456.3 358.2,457 357.2,457.6 356.2,458.2 355.2,458.7 354.2,459.2 353.2,459.6 352.2,459.9 351.2,460.2 350.2,460.5 349.2,460.8 348.2,461 347.2,461.2 346.2,461.4 345.2,461.5 344.2,461.6 343.2,461.8 342.2,461.8 341.2,461.9 340.2,462 339.2,462 338.2,462.1 337.2,462.1 336.2,462.1 335.2,462.1 334.2,462.1 333.2,462.2 332.2,462.2 331.2,462.1 330.1,462.1 329.1,462.1 328.1,462.1 327.1,462.1 326.1,462.1 325.1,462 324.1,462 323.1,462 322.1,461.9 321.1,461.9 320.1,461.8 319.1,461.8 318.1,461.7 317.1,461.7 316.1,461.6 315.1,461.6 314.1,461.5 313.1,461.5 312.1,461.4 311.1,461.4 310.1,461.3 309.1,461.3 308.1,461.2 307.1,461.2 306.1,461.1 305.1,461 304.1,461 303.1,460.9 302.1,460.8 301.1,460.7 300.1,460.6 299.1,460.5 298.1,460.4 297.1,460.3 296.1,460.1 295.1,460 294.1,459.9 293.1,459.7 292.1,459.6 291.1,459.5 290,459.4 289,459.3 288,459.2 287,459.1 286,459.1 285,459.1 284,459.2 283,459.2 282,459.3 281,459.4 280,459.6 279,459.7 278,459.9 277,460.1 276,460.2 275,460.4 274,460.6 273,460.8 272,460.9 271,461.1 270,461.2 269.1,461.3 268,461.4 267,461.5 266,461.6 265,461.6 264,461.7 263,461.7 262,461.7 261,461.7 260,461.8 259,461.8 258,461.8 257,461.7 256,461.7 255,461.7 254,461.7 253,461.7 252,461.7 251,461.7 249.9,461.7 248.9,461.6 247.9,461.6 246.9,461.6 245.9,461.6 244.9,461.6 243.9,461.6 242.9,461.6 241.9,461.6 240.9,461.6 239.9,461.6 238.9,461.6 237.9,461.6 236.9,461.6 235.9,461.6 234.9,461.6 233.9,461.6 232.9,461.6 231.9,461.6 230.9,461.6 229.9,461.6 228.9,461.6 227.9,461.5 226.9,461.5 225.9,461.5 224.9,461.4 223.9,461.4 222.9,461.4 221.9,461.3 220.9,461.2 219.9,461.2 218.9,461.1 217.9,461.1 216.9,461 215.9,460.9 214.9,460.8 213.9,460.7 212.9,460.5 211.9,460.4 210.9,460.3 209.9,460.1 208.8,459.9 207.8,459.8 206.8,459.6 205.8,459.4 204.8,459.1 203.8,458.9 202.8,458.6 201.8,458.4 200.8,458.1 199.8,457.8 198.8,457.5 198,457.3 196.8,456.9 195.8,456.5 195,456.3 193.8,455.8 192.8,455.4 191.8,455 190.8,454.6 190,454.3 188.8,453.7 187.8,453.3 186.8,452.7 185.9,452.3 184.8,451.5 183.8,450.9 182.9,450.2 181.8,449.2 180.9,448.2 180.1,447.2 179.8,446.5 179.3,445.2 179.2,444.2 179.2,443.2 179.5,442.2 179.8,441.6 180.6,440.2 181.5,439.2 182.7,438.2 183.8,437.5 184.8,436.9 185.8,436.4 186.8,435.9 187.8,435.6 188.7,435.2 189.8,434.9 190.8,434.6 191.8,434.3 192.8,434.1 193.8,433.8 194.8,433.6 195.8,433.4 196.8,433.2 197.8,433 198.8,432.9 199.8,432.7 200.8,432.5 201.8,432.3 202.8,432.1 203.8,431.9 204.8,431.7 205.8,431.5 206.8,431.4 207.6,431.2 208.8,430.9 209.8,430.7 210.9,430.5 211.9,430.3 212.9,430.1 213.9,429.8 214.9,429.6 215.9,429.4 216.9,429.2 217.9,429 218.9,428.8 219.9,428.6 220.9,428.4 221.9,428.2 222.9,428 223.9,427.8 224.9,427.7 225.9,427.5 226.9,427.4 227.9,427.3 228.9,427.1 229.9,427 230.9,426.9 231.9,426.7 232.9,426.6 233.9,426.5 234.9,426.4 235.9,426.3 236.9,426.1 237.9,426 238.9,425.8 239.9,425.6 240.9,425.4 241.9,425.2 242.9,424.9 243.9,424.6 244.9,424.4 245.9,424 246.9,423.7 247.9,423.4 248.6,423.2 249.9,422.7 251,422.4 251.8,422.2 253,421.9 254,421.6 255,421.4 256,421.3Z"/>
<path fill="#7abbe8" d="M253.6,425.2 255,425 256,424.8 257,424.7 258,424.7 259,424.6 260,424.7 261,424.7 262,424.8 263,425 264,425.2 265,425.4 266,425.6 267,425.9 267.8,426.2 269,426.6 270,426.9 270.6,427.2 272,427.7 273,428.1 274,428.5 275,428.8 276,429.2 277,429.5 278,429.8 279,430 280,430.2 281,430.3 282,430.3 283,430.3 283.9,430.2 285,430 286,429.8 287,429.5 287.8,429.2 289,428.8 290,428.4 291.1,428 292.1,427.6 293.1,427.2 294.1,426.9 295.1,426.6 296.1,426.3 297.1,426 298.1,425.7 299.1,425.5 300.1,425.3 300.8,425.2 302.1,425 303.1,424.8 304.1,424.7 305.1,424.6 306.1,424.6 307.1,424.5 308.1,424.5 309.1,424.4 310.1,424.4 311.1,424.4 312.1,424.4 313.1,424.4 314.1,424.5 315.1,424.5 316.1,424.5 317.1,424.6 318.1,424.7 319.1,424.7 320.1,424.8 321.1,424.9 322.1,425 323.1,425.1 324.1,425.2 325.1,425.3 326.1,425.3 327.1,425.4 328.1,425.5 329.1,425.6 330.1,425.7 331.2,425.7 332.2,425.8 333.2,425.8 334.2,425.9 335.2,425.9 336.2,425.9 337.2,425.9 338.2,425.9 339.2,425.9 340.2,425.9 341.2,425.9 342.2,426 343.2,426 344.2,426 345.2,426.1 346.2,426.1 347.2,426.2 348.2,426.3 349.2,426.5 350.2,426.7 351.2,426.9 352.2,427.2 353.2,427.5 354.2,427.9 354.9,428.2 356.2,428.8 356.8,429.2 358.2,430.1 359.2,430.9 360.2,431.8 360.7,432.2 361.2,432.8 362.2,434 363,435.2 363.6,436.2 364.1,437.2 364.5,438.2 364.9,439.2 365.1,440.2 365.3,441.2 365.4,442.2 365.5,443.2 365.5,444.2 365.3,445.2 365.2,446.2 364.9,447.2 364.5,448.2 364.2,448.9 363.5,450.2 362.9,451.2 362.2,452.1 361.3,453.3 360.3,454.3 359.2,455.2 358.2,455.9 357.2,456.6 356.2,457.2 355.2,457.8 354.2,458.3 353.2,458.7 352.2,459.1 351.2,459.4 350.2,459.7 349.2,460 348.2,460.2 347.2,460.4 346.2,460.6 345.2,460.8 344.2,460.9 343.2,461 342.2,461.1 341.2,461.2 340.2,461.2 339.2,461.3 338.2,461.3 337.2,461.4 336.2,461.4 335.2,461.4 334.2,461.4 333.2,461.4 332.2,461.4 331.2,461.4 330.1,461.4 329.1,461.4 328.1,461.4 327.1,461.3 326.1,461.3 325.1,461.3 324.1,461.3 323.1,461.2 322.1,461.2 321.1,461.1 320.1,461.1 319.1,461 318.1,461 317.1,460.9 316.1,460.9 315.1,460.8 314.1,460.8 313.1,460.7 312.1,460.7 311.1,460.6 310.1,460.6 309.1,460.5 308.1,460.5 307.1,460.4 306.1,460.3 305.2,460.3 304.1,460.2 303.1,460.1 302.1,460 301.1,459.9 300.1,459.8 299.1,459.7 298.1,459.6 297.1,459.4 296.1,459.3 295.1,459.2 294.1,459 293.1,458.9 292.1,458.7 291.1,458.6 290,458.4 289,458.3 288.3,458.3 287,458.2 286,458.2 285,458.2 284,458.2 283,458.3 282,458.4 281,458.5 280,458.6 279,458.8 278,459 277,459.2 276,459.4 275,459.6 274,459.7 273,459.9 272,460.1 271,460.2 270,460.4 269,460.5 268,460.6 267,460.7 266,460.8 265,460.9 264,460.9 263,461 262,461 261,461 260,461 259,461 258,461 257,461 256,461 255,461 254,461 253,461 252,461 251,461 249.9,461 248.9,460.9 247.9,460.9 246.9,460.9 245.9,460.9 244.9,460.9 243.9,460.9 242.9,460.9 241.9,460.9 240.9,460.9 239.9,460.9 238.9,460.9 237.9,460.9 236.9,460.9 235.9,460.9 234.9,460.9 233.9,460.9 232.9,460.9 231.9,460.9 230.9,460.9 229.9,460.9 228.9,460.9 227.9,460.8 226.9,460.8 225.9,460.8 224.9,460.7 223.9,460.7 222.9,460.6 221.9,460.6 220.9,460.5 219.9,460.5 218.9,460.4 217.9,460.3 216.9,460.2 215.9,460.1 214.9,460 213.9,459.9 212.9,459.8 211.9,459.6 210.9,459.5 209.8,459.3 208.8,459.1 207.8,459 206.8,458.8 205.8,458.5 204.8,458.3 203.8,458 202.8,457.8 201.8,457.5 201,457.3 199.8,456.9 198.8,456.6 197.8,456.3 196.8,455.9 195.8,455.6 195,455.3 193.8,454.8 192.8,454.4 191.8,454 190.8,453.5 190.3,453.3 188.8,452.5 187.8,452 186.8,451.4 185.8,450.7 185.1,450.2 183.9,449.2 182.9,448.2 182.2,447.2 181.8,446.6 181.3,445.2 181.1,444.2 181.2,443.2 181.5,442.2 182,441.2 182.8,440.2 183.8,439.3 184.8,438.5 185.8,437.9 186.8,437.3 187.8,436.9 188.8,436.4 189.4,436.2 190.8,435.8 191.8,435.5 192.7,435.2 193.8,434.9 194.8,434.7 195.8,434.5 196.8,434.3 197.8,434.1 198.8,433.9 199.8,433.7 200.8,433.5 201.8,433.3 202.8,433.1 203.8,432.9 204.8,432.7 205.8,432.6 206.8,432.4 207.7,432.2 208.8,432 209.8,431.8 210.9,431.6 211.9,431.4 212.8,431.2 213.9,431 214.9,430.8 215.9,430.6 216.9,430.4 217.9,430.2 218.9,430 219.9,429.9 220.9,429.7 221.9,429.6 222.9,429.4 223.9,429.3 224.9,429.2 225.9,429 226.9,428.9 227.9,428.8 228.9,428.7 229.9,428.6 230.9,428.5 231.9,428.5 232.9,428.4 233.9,428.3 234.9,428.2 235.9,428.1 236.9,428 237.9,428 238.9,427.8 239.9,427.7 240.9,427.6 241.9,427.5 242.9,427.3 243.9,427.2 244.9,427 245.9,426.8 246.9,426.6 247.9,426.4 248.9,426.2 249.9,425.9 251,425.7 252,425.5 253,425.3Z"/>
<path fill="#6cb4e6" d="M303.7,426.2 305.1,426 306.1,425.9 307.1,425.9 308.1,425.8 309.1,425.8 310.1,425.7 311.1,425.7 312.1,425.7 313.1,425.7 314.1,425.7 315.1,425.7 316.1,425.8 317.1,425.8 318.1,425.9 319.1,425.9 320.1,426 321.1,426 322.1,426.1 323.1,426.2 324.1,426.3 325.1,426.3 326.1,426.4 327.1,426.5 328.1,426.5 329.1,426.6 330.1,426.7 331.2,426.7 332.2,426.8 333.2,426.8 334.2,426.8 335.2,426.8 336.2,426.9 337.2,426.9 338.2,426.9 339.2,426.9 340.2,426.9 341.2,426.9 342.2,426.9 343.2,427 344.2,427 345.2,427.1 346.2,427.2 347.2,427.3 348.2,427.4 349.2,427.6 350.2,427.8 351.2,428 352.2,428.3 353.2,428.7 354.2,429.1 355.2,429.6 356.2,430.2 357.2,430.8 357.8,431.2 359,432.2 360,433.2 360.9,434.2 361.2,434.7 361.6,435.2 362.2,436.2 362.8,437.2 363.2,438.2 363.6,439.2 363.9,440.2 364.1,441.2 364.2,442.2 364.3,443.2 364.2,444.2 364.1,445.2 363.9,446.2 363.7,447.2 363.3,448.2 362.9,449.2 362.3,450.2 361.7,451.2 361.2,451.8 360.2,453 359.2,454 358.2,454.9 357.7,455.3 357.2,455.6 356.3,456.3 355.2,456.9 354.5,457.3 353.2,457.9 352.2,458.3 351.2,458.6 350.2,459 349.2,459.2 348.2,459.5 347.2,459.7 346.2,459.9 345.2,460 344.2,460.2 343.4,460.3 342.2,460.4 341.2,460.5 340.2,460.6 339.2,460.6 338.2,460.7 337.2,460.7 336.2,460.7 335.2,460.7 334.2,460.7 333.2,460.7 332.2,460.7 331.2,460.7 330.1,460.7 329.1,460.7 328.1,460.7 327.1,460.7 326.1,460.6 325.1,460.6 324.1,460.6 323.1,460.5 322.1,460.5 321.1,460.4 320.1,460.4 319.1,460.3 318.1,460.3 317.1,460.2 316.1,460.2 315.1,460.1 314.1,460.1 313.1,460 312.1,460 311.1,459.9 310.1,459.9 309.1,459.8 308.1,459.7 307.1,459.7 306.1,459.6 305.1,459.5 304.1,459.4 303.1,459.4 302.2,459.3 301.1,459.2 300.1,459 299.1,458.9 298.1,458.8 297.1,458.6 296.1,458.5 295.1,458.3 294.1,458.2 293.1,458 292.1,457.8 291.1,457.7 290,457.5 289,457.4 288,457.3 287.3,457.3 286,457.2 285,457.2 284,457.2 283,457.3 282,457.4 281,457.6 280,457.7 279,457.9 278,458.1 277.2,458.3 276,458.5 275,458.7 274,458.9 273,459.1 272.2,459.3 271,459.5 270,459.6 269,459.8 268,459.9 267,460 266,460.1 265,460.1 264,460.2 263,460.3 262,460.3 261,460.3 260,460.3 259,460.4 258,460.4 257,460.4 256,460.4 255,460.3 254,460.3 253,460.3 252,460.3 251,460.3 249.9,460.3 248.9,460.3 247.9,460.3 246.9,460.3 245.9,460.3 244.9,460.3 243.9,460.3 242.9,460.3 241.9,460.3 240.9,460.3 239.9,460.3 238.9,460.3 237.9,460.3 236.9,460.3 235.9,460.3 234.9,460.3 233.9,460.3 232.9,460.3 231.9,460.3 230.9,460.2 229.9,460.2 228.9,460.2 227.9,460.2 226.9,460.1 225.9,460.1 224.9,460.1 223.9,460 222.9,460 221.9,459.9 220.9,459.9 219.9,459.8 218.9,459.7 217.9,459.6 216.9,459.5 215.9,459.4 214.9,459.3 213.9,459.2 212.9,459 211.9,458.9 210.9,458.7 209.8,458.6 208.8,458.4 207.8,458.2 206.8,458 205.8,457.7 204.8,457.5 203.9,457.3 202.8,457 201.8,456.7 200.8,456.4 199.8,456 198.8,455.7 197.8,455.4 196.8,455 195.8,454.6 194.9,454.3 193.8,453.8 192.8,453.3 191.8,452.9 190.8,452.4 189.8,451.8 188.8,451.3 187.8,450.6 187.2,450.2 185.9,449.2 184.9,448.2 184.1,447.2 183.8,446.7 183.2,445.2 183.1,444.2 183.2,443.2 183.5,442.2 184.1,441.2 184.8,440.5 185.8,439.6 186.8,438.8 187.8,438.2 188.8,437.8 189.8,437.3 190.8,436.9 191.8,436.6 192.8,436.3 193.8,436 194.8,435.7 195.8,435.5 196.8,435.3 197.8,435.1 198.8,434.8 199.8,434.6 200.8,434.4 201.8,434.3 202.8,434.1 203.8,433.9 204.8,433.7 205.8,433.5 206.8,433.3 207.8,433.1 208.8,432.9 209.8,432.7 210.9,432.5 211.9,432.3 212.6,432.2 213.9,432 214.9,431.8 215.9,431.6 216.9,431.4 217.9,431.3 218.9,431.1 219.9,431 220.9,430.8 221.9,430.7 222.9,430.5 223.9,430.4 224.9,430.3 225.9,430.2 226.9,430.1 227.9,430 228.9,430 229.9,429.9 230.9,429.8 231.9,429.8 232.9,429.7 233.9,429.6 234.9,429.6 235.9,429.5 236.9,429.5 237.9,429.4 238.9,429.4 239.9,429.3 240.9,429.2 241.9,429.1 242.9,429 243.9,428.9 244.9,428.8 245.9,428.7 246.9,428.6 247.9,428.4 248.9,428.3 249.9,428.1 251,428 252,427.8 253,427.7 254,427.6 255,427.5 256,427.4 257,427.3 258,427.3 259,427.2 260,427.3 261,427.3 262,427.4 263,427.5 264,427.6 265,427.8 266,428 266.8,428.2 268,428.5 269,428.8 270,429.1 271,429.4 272,429.7 273,430.1 274,430.4 275,430.7 276,431.1 277,431.4 278,431.6 279,431.8 280,432 281,432.1 282,432.2 283,432.1 284,432 285,431.8 286,431.6 287,431.3 288,430.9 289,430.5 289.9,430.2 291.1,429.7 292.1,429.3 293.1,428.9 294.1,428.5 295,428.2 296.1,427.8 297.1,427.5 298.1,427.3 299.1,427 300.1,426.8 301.1,426.6 302.1,426.4 303.1,426.3Z"/>
<path fill="#5eade3" d="M305.7,427.2 307.1,427.1 308.1,427 309.1,426.9 310.1,426.9 311.1,426.9 312.1,426.8 313.1,426.8 314.1,426.8 315.1,426.8 316.1,426.9 317.1,426.9 318.1,426.9 319.1,427 320.1,427 321.1,427.1 322.1,427.1 323.1,427.2 324.1,427.2 325.1,427.3 326.1,427.4 327.1,427.4 328.1,427.5 329.1,427.5 330.1,427.6 331.2,427.6 332.2,427.6 333.2,427.7 334.2,427.7 335.2,427.7 336.2,427.7 337.2,427.7 338.2,427.8 339.2,427.8 340.2,427.8 341.2,427.8 342.2,427.8 343.2,427.9 344.2,427.9 345.2,428 346.2,428.1 347.1,428.2 348.2,428.4 349.2,428.5 350.2,428.8 351.2,429.1 352.2,429.4 353.2,429.8 354.1,430.2 355.2,430.8 355.9,431.2 357.2,432.1 358.2,433 359.2,434 360.2,435.2 361,436.2 361.5,437.2 362,438.2 362.4,439.2 362.7,440.2 362.9,441.2 363.1,442.2 363.1,443.2 363.1,444.2 363,445.2 362.8,446.2 362.6,447.2 362.2,448.2 361.8,449.2 361.2,450.2 360.5,451.2 359.7,452.3 359.2,452.8 358.8,453.3 358.2,453.8 357.7,454.3 357.2,454.6 356.3,455.3 355.2,456 354.2,456.6 353.2,457 352.2,457.5 351.2,457.9 350.2,458.2 349.2,458.5 348.2,458.8 347.2,459 346.2,459.2 345.2,459.4 344.2,459.5 343.2,459.6 342.2,459.7 341.2,459.8 340.2,459.9 339.2,460 338.2,460 337.2,460 336.2,460.1 335.2,460.1 334.2,460.1 333.2,460.1 332.2,460.1 331.2,460.1 330.1,460.1 329.1,460 328.1,460 327.1,460 326.1,460 325.1,459.9 324.1,459.9 323.1,459.9 322.1,459.8 321.1,459.8 320.1,459.7 319.1,459.7 318.1,459.6 317.1,459.6 316.1,459.5 315.1,459.5 314.1,459.4 313.1,459.3 312.1,459.3 311.1,459.2 310.1,459.2 309.1,459.1 308.1,459 307.1,459 306.1,458.9 305.1,458.8 304.1,458.7 303.1,458.6 302.1,458.5 301.1,458.4 300.1,458.3 299.1,458.2 298.1,458 297.1,457.9 296.1,457.7 295.1,457.5 294.1,457.3 293.1,457.2 292.1,457 291.1,456.8 290,456.7 289,456.5 288,456.4 287,456.3 286,456.3 285,456.3 284,456.3 283,456.4 282,456.5 281,456.6 280,456.8 279,457 278,457.2 277,457.5 276,457.7 275,457.9 274,458.1 273,458.3 272,458.5 271,458.7 270,458.9 269,459 268,459.2 267.1,459.3 266,459.4 265,459.5 264,459.5 263,459.6 262,459.6 261,459.7 260,459.7 259,459.7 258,459.7 257,459.7 256,459.7 255,459.7 254,459.7 253,459.7 252,459.7 251,459.7 249.9,459.7 248.9,459.7 247.9,459.7 246.9,459.7 245.9,459.7 244.9,459.7 243.9,459.7 242.9,459.7 241.9,459.7 240.9,459.7 239.9,459.7 238.9,459.7 237.9,459.7 236.9,459.7 235.9,459.7 234.9,459.7 233.9,459.7 232.9,459.7 231.9,459.6 230.9,459.6 229.9,459.6 228.9,459.6 227.9,459.5 226.9,459.5 225.9,459.5 224.9,459.4 223.9,459.4 222.9,459.3 222,459.3 220.9,459.2 219.9,459.1 218.9,459 217.9,459 216.9,458.9 215.9,458.7 214.9,458.6 213.9,458.5 212.9,458.4 211.9,458.2 210.9,458 209.8,457.9 208.8,457.7 207.8,457.4 207,457.3 205.8,457 204.8,456.7 203.8,456.4 203.2,456.3 201.8,455.9 200.8,455.5 200,455.3 198.8,454.8 197.8,454.5 196.8,454.1 195.8,453.7 194.9,453.3 193.8,452.8 192.8,452.3 191.8,451.7 190.9,451.2 189.8,450.6 189.3,450.2 188.8,449.9 188,449.2 186.9,448.2 186.1,447.2 185.5,446.2 185.1,445.2 185,444.2 185.2,443.2 185.6,442.2 186.3,441.2 186.8,440.7 187.3,440.2 187.8,439.8 188.7,439.2 189.8,438.6 190.7,438.2 191.8,437.8 192.8,437.4 193.8,437.1 194.8,436.8 195.8,436.5 196.8,436.3 197.8,436 198.8,435.8 199.8,435.6 200.8,435.4 201.6,435.2 202.8,435 203.8,434.8 204.8,434.6 205.8,434.4 206.6,434.2 207.8,434 208.8,433.8 209.8,433.6 210.9,433.4 211.9,433.2 212.9,433 213.9,432.9 214.9,432.7 215.9,432.5 216.9,432.4 217.8,432.2 218.9,432 219.9,431.9 220.9,431.8 221.9,431.6 222.9,431.5 223.9,431.4 224.9,431.3 225.9,431.2 226.9,431.2 227.9,431.1 228.9,431 229.9,430.9 230.9,430.9 231.9,430.8 232.9,430.8 233.9,430.7 234.9,430.7 235.9,430.7 236.9,430.6 237.9,430.6 238.9,430.5 239.9,430.5 240.9,430.4 241.9,430.4 242.9,430.3 243.9,430.3 244.8,430.2 245.9,430.1 246.9,430 247.9,429.9 248.9,429.8 250,429.7 251,429.6 252,429.5 253,429.4 254,429.3 255,429.2 256,429.1 257,429.1 258,429.1 259,429 260,429.1 261,429.1 262,429.2 263,429.3 264,429.4 265,429.5 266,429.7 267,429.9 268,430.2 269,430.4 270,430.7 271,431 271.6,431.2 273,431.6 274,432 274.7,432.2 276,432.6 277,432.9 278,433.2 279,433.4 280,433.6 281,433.7 282,433.7 283,433.7 284,433.6 285,433.4 285.9,433.2 287,432.9 288,432.5 288.8,432.2 290,431.7 291.1,431.2 292.1,430.8 293.1,430.4 294.1,430 295.1,429.6 296.1,429.2 297.1,428.9 298.1,428.6 299.1,428.3 300.1,428.1 301.1,427.9 302.1,427.7 303.1,427.5 304.1,427.4 305.1,427.3Z"/>
<path fill="#50a6e1" d="M306.6,428.2 308.1,428.1 309.1,428 310.1,427.9 311.1,427.9 312.1,427.9 313.1,427.9 314.1,427.8 315.1,427.8 316.1,427.9 317.1,427.9 318.1,427.9 319.1,427.9 320.1,428 321.1,428 322.1,428 323.1,428.1 324.1,428.1 325.1,428.2 326.1,428.2 327.1,428.3 328.1,428.3 329.1,428.4 330.1,428.4 331.2,428.5 332.2,428.5 333.2,428.5 334.2,428.5 335.2,428.5 336.2,428.6 337.2,428.6 338.2,428.6 339.2,428.6 340.2,428.6 341.2,428.6 342.2,428.7 343.2,428.7 344.2,428.8 345.2,428.8 346.2,428.9 347.2,429.1 348.2,429.3 349.2,429.5 350.2,429.7 351.2,430 352.2,430.4 353.2,430.8 354,431.2 355.2,431.9 356.2,432.6 357,433.2 358.1,434.2 359,435.2 359.7,436.2 360.2,437 360.9,438.2 361.2,439.1 361.6,440.2 361.9,441.2 362,442.2 362.1,443.2 362.1,444.2 362,445.2 361.8,446.2 361.5,447.2 361.2,448.1 360.7,449.2 360.2,450.1 359.4,451.2 358.6,452.3 357.6,453.3 356.4,454.3 355.2,455.1 354.2,455.7 353.2,456.2 352.2,456.7 351.2,457.1 350.2,457.5 349.2,457.8 348.2,458.1 347.4,458.3 346.2,458.5 345.2,458.7 344.2,458.9 343.2,459 342.2,459.1 341.2,459.2 340.2,459.3 339.2,459.3 338.2,459.4 337.2,459.4 336.2,459.4 335.2,459.4 334.2,459.5 333.2,459.5 332.2,459.5 331.2,459.4 330.1,459.4 329.1,459.4 328.1,459.4 327.1,459.4 326.1,459.3 325.1,459.3 324.2,459.3 323.1,459.2 322.1,459.2 321.1,459.1 320.1,459.1 319.1,459 318.1,459 317.1,458.9 316.1,458.9 315.1,458.8 314.1,458.7 313.1,458.7 312.1,458.6 311.1,458.6 310.1,458.5 309.1,458.4 308.1,458.4 307.1,458.3 306.1,458.2 305.1,458.1 304.1,458 303.1,457.9 302.1,457.8 301.1,457.7 300.1,457.6 299.1,457.4 298.1,457.3 297.1,457.1 296.1,456.9 295.1,456.7 294.1,456.5 293.1,456.3 292.1,456.1 291.1,455.9 290,455.8 289,455.6 288,455.5 287,455.4 286,455.3 285,455.3 284,455.3 283,455.4 282,455.6 281,455.7 280,455.9 279,456.1 278,456.4 277,456.6 276,456.9 275,457.1 274,457.4 273,457.6 272,457.8 271,458 270,458.2 269,458.3 268,458.5 267,458.6 266,458.7 265,458.8 264,458.9 263,459 262,459 261,459 260,459.1 259,459.1 258,459.1 257,459.1 256,459.1 255,459.1 254,459.1 253,459.1 252,459.1 251,459.1 249.9,459.1 248.9,459.1 247.9,459.1 246.9,459.1 245.9,459.1 244.9,459.1 243.9,459.1 242.9,459.1 241.9,459.1 240.9,459.1 239.9,459.1 238.9,459.1 237.9,459.1 236.9,459.1 235.9,459.1 234.9,459.1 233.9,459.1 232.9,459.1 231.9,459 230.9,459 229.9,459 228.9,459 227.9,458.9 226.9,458.9 225.9,458.9 224.9,458.8 223.9,458.8 222.9,458.7 221.9,458.6 220.9,458.6 219.9,458.5 218.9,458.4 217.9,458.3 216.9,458.2 215.9,458.1 214.9,458 213.9,457.8 212.9,457.7 211.9,457.5 210.9,457.3 209.9,457.1 208.8,456.9 207.8,456.7 206.8,456.5 206,456.3 204.8,456 203.8,455.7 202.8,455.4 201.8,455 200.8,454.7 199.8,454.3 198.8,453.9 197.8,453.5 197.1,453.3 195.8,452.7 194.9,452.3 193.8,451.7 193,451.2 191.8,450.5 190.8,449.8 190,449.2 188.9,448.2 188,447.2 187.4,446.2 187.1,445.2 187,444.2 187.2,443.2 187.6,442.2 188.5,441.2 189.7,440.2 190.8,439.5 191.4,439.2 192.8,438.6 193.7,438.2 194.8,437.8 195.8,437.5 196.8,437.2 197.8,437 198.8,436.7 199.8,436.5 200.8,436.3 201.8,436 202.8,435.8 203.8,435.6 204.8,435.4 205.8,435.2 206.8,435 207.8,434.8 208.8,434.6 209.8,434.4 210.9,434.2 211.9,434 212.9,433.9 213.9,433.7 214.9,433.5 215.9,433.3 216.8,433.2 217.9,433 218.9,432.9 219.9,432.8 220.9,432.6 221.9,432.5 222.9,432.4 223.9,432.3 224.9,432.2 225.9,432.1 226.9,432.1 227.9,432 228.9,431.9 229.9,431.9 230.9,431.8 231.9,431.8 232.9,431.7 233.9,431.7 234.9,431.7 235.9,431.6 236.9,431.6 237.9,431.6 238.9,431.6 239.9,431.5 240.9,431.5 241.9,431.4 242.9,431.4 243.9,431.4 244.9,431.3 245.9,431.2 246.9,431.2 247.9,431.1 248.9,431 249.9,430.9 251,430.8 252,430.8 253,430.7 254,430.6 255,430.6 256,430.5 257,430.5 258,430.4 259,430.4 260,430.5 261,430.5 262,430.6 263,430.7 264,430.8 265,430.9 266,431.1 267,431.3 268,431.5 269,431.8 270,432 271,432.3 272,432.6 273,433 273.7,433.2 275,433.6 276,434 276.9,434.2 278,434.5 279,434.8 280,435 281,435.1 282,435.2 283,435.2 284,435.1 285,434.9 286,434.6 287,434.3 288,433.9 289,433.5 289.7,433.2 291.1,432.6 291.9,432.2 293.1,431.7 294.1,431.3 295.1,430.8 296.1,430.5 296.8,430.2 298.1,429.8 299.1,429.5 300.1,429.2 301.1,429 302.1,428.8 303.1,428.6 304.1,428.5 305.1,428.4 306.1,428.2Z"/>
<path fill="#429ede" d="M306.5,429.2 308.1,429.1 309.1,429 310.1,428.9 311.1,428.9 312.1,428.8 313.1,428.8 314.1,428.8 315.1,428.8 316.1,428.8 317.1,428.8 318.1,428.8 319.1,428.8 320.1,428.8 321.1,428.9 322.1,428.9 323.1,428.9 324.1,429 325.1,429 326.1,429.1 327.1,429.1 328.1,429.1 329.1,429.2 330.1,429.2 331.2,429.2 332.2,429.3 333.2,429.3 334.2,429.3 335.2,429.3 336.2,429.3 337.2,429.3 338.2,429.4 339.2,429.4 340.2,429.4 341.2,429.4 342.2,429.4 343.2,429.5 344.2,429.6 345.2,429.7 346.2,429.8 347.2,429.9 348.2,430.1 349.2,430.3 350.2,430.6 351.2,430.9 351.9,431.2 353.2,431.8 353.9,432.2 355.2,433 356.2,433.8 356.7,434.2 357.2,434.7 357.7,435.2 358.2,435.8 359.2,437.2 359.8,438.2 360.2,439.2 360.6,440.2 360.9,441.2 361,442.2 361.1,443.2 361.1,444.2 361,445.2 360.8,446.2 360.6,447.2 360.2,448.1 359.7,449.2 359.2,450 358.4,451.2 357.5,452.3 356.4,453.3 355.2,454.2 354.2,454.9 353.6,455.3 352.2,456 351.5,456.3 350.2,456.8 349.2,457.1 348.2,457.4 347.2,457.7 346.2,457.9 345.2,458.1 344.2,458.2 343.2,458.4 342.2,458.5 341.2,458.6 340.2,458.6 339.2,458.7 338.2,458.8 337.2,458.8 336.2,458.8 335.2,458.8 334.2,458.8 333.2,458.9 332.2,458.8 331.2,458.8 330.1,458.8 329.1,458.8 328.1,458.8 327.1,458.8 326.1,458.7 325.1,458.7 324.1,458.7 323.1,458.6 322.1,458.6 321.1,458.5 320.1,458.5 319.1,458.4 318.1,458.3 317.1,458.3 316.1,458.2 315.1,458.2 314.1,458.1 313.1,458 312.1,458 311.1,457.9 310.1,457.9 309.1,457.8 308.1,457.7 307.1,457.6 306.1,457.6 305.1,457.5 304.1,457.4 303.2,457.3 302.1,457.1 301.1,457 300.1,456.9 299.1,456.7 298.1,456.5 297.1,456.3 296.1,456.1 295.1,455.9 294.1,455.7 293.1,455.5 292.1,455.3 291.1,455.1 290,454.9 289,454.7 288,454.5 287,454.4 286,454.3 285,454.3 284,454.4 283,454.4 282,454.6 281,454.8 280,455 279,455.2 278,455.5 277,455.8 276,456.1 275.3,456.3 274,456.6 273,456.8 272,457.1 271.1,457.3 270,457.5 269,457.7 268,457.8 267,458 266,458.1 265,458.2 264,458.3 263,458.3 262,458.4 261,458.4 260,458.5 259,458.5 258,458.5 257,458.5 256,458.5 255,458.5 254,458.5 253,458.5 252,458.5 251,458.5 249.9,458.5 248.9,458.5 247.9,458.5 246.9,458.5 245.9,458.5 244.9,458.5 243.9,458.5 242.9,458.5 241.9,458.5 240.9,458.5 239.9,458.5 238.9,458.5 237.9,458.5 236.9,458.5 235.9,458.5 234.9,458.5 233.9,458.5 232.9,458.5 231.9,458.5 230.9,458.4 229.9,458.4 228.9,458.4 227.9,458.4 226.9,458.3 225.9,458.3 224.9,458.2 223.9,458.2 222.9,458.1 221.9,458 220.9,458 219.9,457.9 218.9,457.8 217.9,457.7 216.9,457.6 215.9,457.5 214.9,457.3 213.9,457.2 212.9,457 211.9,456.9 210.9,456.7 209.8,456.5 208.9,456.3 207.8,456 206.8,455.8 205.8,455.5 205,455.3 203.8,454.9 202.8,454.6 201.9,454.3 200.8,453.8 199.8,453.5 198.8,453 197.8,452.6 197.1,452.3 195.8,451.6 195.1,451.2 193.8,450.5 192.8,449.8 192,449.2 190.8,448.2 189.9,447.2 189.3,446.2 189,445.2 189,444.2 189.2,443.2 189.8,442.2 190.7,441.2 191.8,440.5 192.8,439.9 193.8,439.4 194.8,439 195.8,438.6 196.8,438.3 197.8,438 198.8,437.7 199.8,437.4 200.6,437.2 201.8,436.9 202.8,436.7 203.8,436.5 204.8,436.2 205.8,436 206.8,435.8 207.8,435.6 208.8,435.4 209.8,435.2 210.9,435 211.9,434.8 212.9,434.6 213.9,434.5 214.9,434.3 215.9,434.1 216.9,434 217.9,433.8 218.9,433.7 219.9,433.5 220.9,433.4 221.9,433.3 222.9,433.2 223.9,433.1 224.9,433 225.9,432.9 226.9,432.9 227.9,432.8 228.9,432.7 229.9,432.7 230.9,432.7 231.9,432.6 232.9,432.6 233.9,432.6 234.9,432.5 235.9,432.5 236.9,432.5 237.9,432.5 238.9,432.4 239.9,432.4 240.9,432.4 241.9,432.4 242.9,432.3 243.9,432.3 244.9,432.3 245.9,432.2 246.9,432.2 247.9,432.1 248.9,432 249.9,432 251,431.9 252,431.8 253,431.8 254,431.7 255,431.7 256,431.6 257,431.6 258,431.6 259,431.6 260,431.6 261,431.7 262,431.7 263,431.8 264,431.9 265,432.1 266,432.3 267,432.5 268,432.7 269,432.9 270,433.2 271,433.5 272,433.8 273,434.2 274,434.5 275,434.8 276,435.2 277,435.5 278,435.8 279,436.1 280,436.3 281,436.5 282,436.5 283,436.6 284,436.5 285,436.3 286,436 287,435.7 288,435.3 289,434.9 290,434.4 291.1,433.9 292.1,433.4 293.1,432.9 294.1,432.5 294.7,432.2 296.1,431.6 297.1,431.3 298.1,430.9 299.1,430.6 300.1,430.3 301.1,430.1 302.1,429.9 303.1,429.7 304.1,429.5 305.1,429.4 306.1,429.2Z"/>
<path fill="#3497dc" d="M306,430.2 307.1,430.1 308.1,430 309.1,429.9 310.1,429.8 311.1,429.8 312.1,429.7 313.1,429.7 314.1,429.7 315.1,429.6 316.1,429.6 317.1,429.6 318.1,429.6 319.1,429.6 320.1,429.7 321.1,429.7 322.1,429.7 323.1,429.7 324.1,429.8 325.1,429.8 326.1,429.8 327.1,429.9 328.1,429.9 329.1,429.9 330.1,430 331.2,430 332.2,430 333.2,430 334.2,430.1 335.2,430.1 336.2,430.1 337.2,430.1 338.2,430.1 339.2,430.1 340.2,430.1 341.2,430.2 342.2,430.2 343.2,430.3 344.2,430.3 345.2,430.4 346.2,430.6 347.2,430.7 348.2,430.9 349.2,431.2 350.2,431.5 351.2,431.8 352.1,432.2 353.2,432.8 353.9,433.2 355.2,434.1 356.2,435 357.2,436 358.1,437.2 358.7,438.2 359.2,439.2 359.6,440.2 359.9,441.2 360.1,442.2 360.2,443.2 360.2,444.2 360.1,445.2 359.9,446.2 359.6,447.2 359.2,448.2 358.7,449.2 358.2,450.1 357.3,451.2 356.4,452.3 355.3,453.3 354.2,454 353.2,454.7 352.2,455.2 351.2,455.7 350.2,456.1 349.2,456.4 348.2,456.8 347.2,457 346.2,457.2 345.2,457.4 344.2,457.6 343.2,457.8 342.2,457.9 341.2,458 340.2,458 339.2,458.1 338.2,458.2 337.2,458.2 336.2,458.2 335.2,458.2 334.2,458.2 333.2,458.3 332.2,458.3 331.2,458.2 330.1,458.2 329.1,458.2 328.1,458.2 327.1,458.2 326.1,458.1 325.1,458.1 324.1,458.1 323.1,458 322.1,458 321.1,457.9 320.1,457.9 319.1,457.8 318.1,457.7 317.1,457.7 316.1,457.6 315.1,457.6 314.1,457.5 313.1,457.4 312.1,457.4 311.1,457.3 310.1,457.2 309.1,457.1 308.1,457.1 307.1,457 306.1,456.9 305.1,456.8 304.1,456.7 303.1,456.6 302.1,456.4 301.1,456.3 300.1,456.2 299.1,456 298.1,455.8 297.1,455.6 296.1,455.4 295.1,455.1 294.1,454.9 293.1,454.7 292.1,454.4 291.1,454.2 290,453.9 289,453.7 288,453.5 287,453.4 286,453.3 285,453.3 284,453.3 283,453.4 282,453.6 281,453.8 280,454 279.2,454.3 278,454.6 277,454.9 276,455.2 275,455.5 274,455.8 273,456.1 272.3,456.3 271,456.6 270,456.8 269,457 268,457.2 267.3,457.3 266,457.4 265,457.5 264,457.6 263,457.7 262,457.8 261,457.8 260,457.9 259,457.9 258,457.9 257,457.9 256,458 255,458 254,458 253,458 252,458 251,458 249.9,458 248.9,458 247.9,458 246.9,458 245.9,458 244.9,458 243.9,458 242.9,458 241.9,458 240.9,458 239.9,458 238.9,458 237.9,458 236.9,458 235.9,458 234.9,458 233.9,458 232.9,457.9 231.9,457.9 230.9,457.9 229.9,457.9 228.9,457.8 227.9,457.8 226.9,457.7 225.9,457.7 224.9,457.6 223.9,457.6 222.9,457.5 221.9,457.4 220.9,457.4 219.9,457.3 218.9,457.2 217.9,457.1 216.9,457 215.9,456.8 214.9,456.7 213.9,456.5 212.9,456.4 211.9,456.2 210.9,456 209.8,455.8 208.8,455.5 207.8,455.3 206.8,455 205.8,454.7 204.8,454.4 203.8,454.1 202.8,453.7 201.8,453.4 200.8,453 199.8,452.5 199.2,452.3 197.8,451.6 197.1,451.2 195.8,450.5 194.8,449.8 194,449.2 192.8,448.3 191.9,447.2 191.3,446.2 191,445.2 191,444.2 191.3,443.2 191.8,442.5 192.8,441.5 193.8,440.8 194.8,440.2 195.8,439.8 196.8,439.4 197.8,439 198.8,438.7 199.8,438.4 200.8,438.1 201.8,437.8 202.8,437.5 203.8,437.3 204.8,437.1 205.8,436.8 206.8,436.6 207.8,436.4 208.6,436.2 209.8,436 210.9,435.8 211.9,435.6 212.9,435.4 213.8,435.2 214.9,435 215.9,434.9 216.9,434.7 217.9,434.6 218.9,434.4 219.9,434.3 220.6,434.2 221.9,434.1 222.9,434 223.9,433.9 224.9,433.8 225.9,433.7 226.9,433.6 227.9,433.6 228.9,433.5 229.9,433.5 230.9,433.4 231.9,433.4 232.9,433.4 233.9,433.3 234.9,433.3 235.9,433.3 236.9,433.3 237.9,433.3 238.9,433.3 239.9,433.2 240.9,433.2 241.9,433.2 242.9,433.2 243.9,433.1 244.9,433.1 245.9,433.1 246.9,433 247.9,433 248.9,432.9 249.9,432.9 251,432.8 252,432.8 253,432.7 254,432.7 255,432.6 256,432.6 257,432.6 258,432.6 259,432.6 260,432.6 261,432.7 262,432.8 263,432.9 264,433 265,433.1 266,433.3 267,433.5 268,433.7 269,434 269.7,434.2 271,434.6 272,434.9 272.9,435.2 274,435.6 275,436 275.7,436.2 277,436.7 278,437 279,437.3 280,437.6 281,437.8 282,437.9 283,437.9 284,437.9 285,437.7 286,437.4 287,437.1 288,436.7 289,436.2 290,435.7 290.9,435.2 292.1,434.6 292.9,434.2 294.1,433.6 295,433.2 296.1,432.7 297.1,432.3 298.1,432 299.1,431.6 300.1,431.4 301.1,431.1 302.1,430.9 303.1,430.7 304.1,430.5 305.1,430.3 306,430.2Z"/>
<path fill="#2690da" d="M305.3,431.2 306.1,431.1 307.1,431 308.1,430.9 309.1,430.8 310.1,430.7 311.1,430.6 312.1,430.6 313.1,430.5 314.1,430.5 315.1,430.5 316.1,430.5 317.1,430.4 318.1,430.4 319.1,430.4 320.1,430.5 321.1,430.5 322.1,430.5 323.1,430.5 324.1,430.5 325.1,430.6 326.1,430.6 327.1,430.6 328.1,430.6 329.1,430.7 330.1,430.7 331.2,430.7 332.2,430.7 333.2,430.8 334.2,430.8 335.2,430.8 336.2,430.8 337.2,430.8 338.2,430.8 339.2,430.8 340.2,430.8 341.2,430.9 342.2,430.9 343.2,431 344.2,431.1 345.2,431.2 346.2,431.3 347.2,431.5 348.2,431.7 349.2,432 349.8,432.2 351.2,432.7 352.2,433.2 353.2,433.8 353.9,434.2 355.2,435.2 356.2,436.2 357,437.2 357.7,438.2 358.2,439.2 358.6,440.2 358.9,441.2 359.1,442.2 359.2,443 359.3,444.2 359.2,445.2 359,446.2 358.7,447.2 358.3,448.2 357.8,449.2 357.2,450.1 356.3,451.2 355.3,452.3 354.2,453.2 353.2,453.9 352.5,454.3 351.2,455 350.5,455.3 349.2,455.8 348.2,456.1 347.2,456.4 346.2,456.6 345.2,456.8 344.2,457 343.2,457.1 342.2,457.3 341.2,457.4 340.2,457.5 339.2,457.5 338.2,457.6 337.2,457.6 336.2,457.6 335.2,457.7 334.2,457.7 333.2,457.7 332.2,457.7 331.2,457.7 330.1,457.6 329.1,457.6 328.1,457.6 327.1,457.6 326.1,457.5 325.1,457.5 324.1,457.5 323.1,457.4 322.1,457.4 321.1,457.3 320.3,457.3 319.1,457.2 318.1,457.1 317.1,457.1 316.1,457 315.1,456.9 314.1,456.9 313.1,456.8 312.1,456.7 311.1,456.7 310.1,456.6 309.1,456.5 308.1,456.4 307.1,456.3 306.2,456.3 305.1,456.1 304.1,456 303.1,455.9 302.1,455.8 301.1,455.6 300.1,455.4 299.1,455.3 298.1,455.1 297.1,454.8 296.1,454.6 295.1,454.3 294.1,454.1 293.1,453.8 292.1,453.5 291.2,453.3 290,452.9 289,452.7 288,452.5 287,452.3 286,452.2 285,452.1 284,452.1 283.2,452.3 282,452.4 281,452.7 280,453 279.2,453.3 278,453.7 277,454 276.4,454.3 275,454.7 274,455 273.3,455.3 272,455.6 271,455.9 270,456.1 269.2,456.3 268,456.5 267,456.7 266,456.8 265,456.9 264,457 263,457.1 262,457.2 261,457.2 260,457.3 259,457.3 258,457.4 257,457.4 256,457.4 255,457.4 254,457.4 253,457.4 252,457.4 251,457.4 249.9,457.4 248.9,457.4 247.9,457.4 246.9,457.4 245.9,457.4 244.9,457.4 243.9,457.4 242.9,457.4 241.9,457.4 240.9,457.4 239.9,457.4 238.9,457.4 237.9,457.4 236.9,457.4 235.9,457.4 234.9,457.4 233.9,457.4 232.9,457.4 231.9,457.4 230.9,457.3 229.9,457.3 228.9,457.3 227.9,457.2 226.9,457.2 225.9,457.1 224.9,457.1 223.9,457 222.9,456.9 221.9,456.9 220.9,456.8 219.9,456.7 218.9,456.6 217.9,456.5 216.9,456.3 215.9,456.2 214.9,456.1 213.9,455.9 212.9,455.7 211.9,455.5 210.9,455.3 209.8,455.1 208.8,454.8 207.8,454.6 206.8,454.3 205.8,454 204.8,453.6 203.8,453.3 202.8,452.9 201.8,452.5 201.3,452.3 199.8,451.6 199.2,451.2 197.8,450.5 196.8,449.8 195.9,449.2 194.8,448.3 193.9,447.2 193.3,446.2 193,445.2 193.1,444.2 193.5,443.2 194.3,442.2 194.8,441.9 195.7,441.2 196.8,440.6 197.6,440.2 198.8,439.7 199.8,439.4 200.8,439 201.8,438.7 202.8,438.4 203.5,438.2 204.8,437.9 205.8,437.6 206.8,437.4 207.6,437.2 208.8,436.9 209.8,436.7 210.9,436.5 211.9,436.3 212.9,436.1 213.9,435.9 214.9,435.8 215.9,435.6 216.9,435.4 217.9,435.3 218.9,435.1 219.9,435 220.9,434.9 221.9,434.8 222.9,434.7 223.9,434.6 224.9,434.5 225.9,434.4 226.9,434.3 227.9,434.3 228.9,434.2 229.9,434.2 230.9,434.2 231.9,434.1 232.9,434.1 233.9,434.1 234.9,434 235.9,434 236.9,434 237.9,434 238.9,434 239.9,434 240.9,434 241.9,434 242.9,433.9 243.9,433.9 244.9,433.9 245.9,433.9 246.9,433.8 247.9,433.8 248.9,433.8 249.9,433.7 251,433.7 252,433.6 253,433.6 254,433.6 255,433.5 256,433.5 257,433.5 258,433.5 259,433.5 260,433.6 261,433.6 262,433.7 263,433.8 264,433.9 265,434.1 265.7,434.2 267,434.5 268,434.7 269,435 269.8,435.2 271,435.6 272,435.9 272.8,436.2 274,436.7 275,437.1 276,437.5 277,437.9 277.9,438.2 279,438.6 280,438.9 281,439.1 282,439.3 283,439.4 284,439.3 285,439.1 286,438.9 287,438.5 287.6,438.2 289,437.5 289.6,437.2 291.1,436.4 292.1,435.9 293.1,435.3 294.1,434.8 295.1,434.3 296.1,433.8 297.1,433.4 298.1,433 299.1,432.7 300.1,432.3 301.1,432.1 302.1,431.8 303.1,431.6 304.1,431.4 305.1,431.2Z"/>
<path fill="#2387cc" d="M304.6,432.2 306.1,432 307.1,431.8 308.1,431.7 309.1,431.6 310.1,431.5 311.1,431.5 312.1,431.4 313.1,431.4 314.1,431.3 315.1,431.3 316.1,431.3 317.1,431.2 318.1,431.2 319.1,431.2 320.1,431.2 321.1,431.2 322.1,431.2 323.1,431.2 324.1,431.3 325.1,431.3 326.1,431.3 327.1,431.3 328.1,431.4 329.1,431.4 330.1,431.4 331.2,431.4 332.2,431.4 333.2,431.5 334.2,431.5 335.2,431.5 336.2,431.5 337.2,431.5 338.2,431.5 339.2,431.5 340.2,431.5 341.2,431.6 342.2,431.6 343.2,431.7 344.2,431.8 345.2,431.9 346.2,432.1 346.9,432.2 348.2,432.5 349.2,432.8 350.2,433.2 351.2,433.6 352.2,434.1 353.2,434.7 353.9,435.2 355,436.2 355.9,437.2 356.7,438.2 357.2,439.2 357.7,440.2 358,441.2 358.2,442.1 358.4,443.2 358.4,444.2 358.3,445.2 358.1,446.2 357.8,447.2 357.4,448.2 356.8,449.2 356.2,450.2 355.3,451.2 354.2,452.3 353.2,453 352.2,453.7 351.2,454.2 350.2,454.7 349.2,455.1 348.2,455.4 347.2,455.7 346.2,456 345.2,456.2 344.2,456.4 343.2,456.6 342.2,456.7 341.2,456.8 340.2,456.9 339.2,456.9 338.2,457 337.2,457 336.2,457.1 335.2,457.1 334.2,457.1 333.2,457.1 332.2,457.1 331.2,457.1 330.1,457.1 329.1,457.1 328.1,457 327.1,457 326.1,457 325.1,456.9 324.1,456.9 323.1,456.8 322.1,456.8 321.1,456.7 320.1,456.7 319.1,456.6 318.1,456.5 317.1,456.5 316.1,456.4 315.1,456.3 314.1,456.3 313.1,456.2 312.1,456.1 311.1,456 310.1,456 309.1,455.9 308.1,455.8 307.1,455.7 306.1,455.6 305.1,455.5 304.1,455.4 303.3,455.3 302.1,455.1 301.1,454.9 300.1,454.7 299.1,454.5 298.1,454.3 297.1,454.1 296.1,453.8 295.1,453.5 294.2,453.3 293.1,452.9 292.1,452.5 291.2,452.3 290,451.9 289,451.5 288,451.3 287,451 286,450.8 285,450.8 284,450.8 283,450.9 282,451.2 281,451.5 280,451.8 279,452.2 278,452.6 277,453.1 276,453.5 275,453.8 274,454.2 273,454.5 272,454.9 271,455.1 270,455.4 269,455.6 268,455.8 267,456 266,456.2 265,456.3 264,456.4 263,456.5 262,456.6 261,456.7 260,456.7 259,456.8 258,456.8 257,456.8 256,456.8 255,456.9 254,456.9 253,456.9 252,456.9 251,456.9 249.9,456.9 248.9,456.9 247.9,456.9 246.9,456.9 245.9,456.9 244.9,456.9 243.9,456.9 242.9,456.9 241.9,456.9 240.9,456.9 239.9,456.9 238.9,456.9 237.9,456.9 236.9,456.9 235.9,456.9 234.9,456.9 233.9,456.9 232.9,456.9 231.9,456.8 230.9,456.8 229.9,456.8 228.9,456.7 227.9,456.7 226.9,456.6 225.9,456.6 224.9,456.5 223.9,456.5 222.9,456.4 221.9,456.3 220.9,456.2 219.9,456.1 218.9,456 217.9,455.9 216.9,455.7 215.9,455.6 214.9,455.4 213.9,455.3 212.9,455.1 211.9,454.9 210.9,454.6 209.8,454.4 208.8,454.1 207.8,453.8 206.8,453.5 206,453.3 204.8,452.8 203.8,452.4 202.8,452 201.8,451.6 201.2,451.2 199.8,450.5 198.8,449.9 197.9,449.2 196.8,448.3 195.8,447.2 195.3,446.2 195.1,445.2 195.2,444.2 195.7,443.2 196.7,442.2 197.8,441.5 198.8,440.9 199.8,440.5 200.8,440.1 201.8,439.7 202.8,439.3 203.8,439 204.8,438.7 205.8,438.5 206.7,438.2 207.8,437.9 208.8,437.7 209.8,437.5 210.9,437.3 211.9,437 212.9,436.8 213.9,436.6 214.9,436.5 215.9,436.3 216.9,436.1 217.9,436 218.9,435.8 219.9,435.7 220.9,435.6 221.9,435.5 222.9,435.4 223.9,435.3 224.9,435.2 225.9,435.1 226.9,435 227.9,435 228.9,434.9 229.9,434.9 230.9,434.8 231.9,434.8 232.9,434.8 233.9,434.7 234.9,434.7 235.9,434.7 236.9,434.7 237.9,434.7 238.9,434.7 239.9,434.7 240.9,434.7 241.9,434.7 242.9,434.6 243.9,434.6 244.9,434.6 245.9,434.6 246.9,434.6 247.9,434.5 248.9,434.5 250,434.5 251,434.4 252,434.4 253,434.4 254,434.4 255,434.3 256,434.3 257,434.3 258,434.3 259,434.4 260,434.4 261,434.5 262,434.6 263,434.7 264,434.8 265,435 266,435.2 267,435.4 268,435.6 269,435.9 270,436.2 271,436.6 272,436.9 272.7,437.2 274,437.7 275,438.2 276,438.6 277,439.1 278,439.5 279,439.9 279.8,440.2 281,440.6 282,440.8 283,440.9 284,440.9 285,440.8 286,440.4 287,440 288,439.5 289,438.9 290,438.3 291.1,437.7 291.8,437.2 293.1,436.5 294.1,435.9 295.1,435.4 296.1,434.9 297.1,434.4 298.1,434 299.1,433.6 300.1,433.3 301.1,433 302.1,432.7 303.1,432.5 304.1,432.3Z"/>
<path fill="#217ebe" d="M312.1,432.2 313.1,432.1 314.1,432.1 315.1,432.1 316.1,432 317.1,432 318.1,432 319.1,432 320.1,432 321.1,432 322.1,432 323.1,432 324.1,432 325.1,432 326.1,432 327.1,432 328.1,432.1 329.1,432.1 330.1,432.1 331.2,432.1 332.2,432.1 333.2,432.1 334.2,432.1 335.2,432.2 336.2,432.2 337.2,432.2 338.2,432.2 339.2,432.2 340.2,432.2 341.2,432.3 342.2,432.3 343.2,432.4 344.2,432.5 345.2,432.6 346.2,432.8 347.2,433 347.9,433.2 349.2,433.6 350.2,434 351.2,434.5 352.2,435 353.2,435.7 353.8,436.2 354.2,436.6 354.8,437.2 355.2,437.7 355.6,438.2 356.2,439.2 356.7,440.2 357.1,441.2 357.3,442.2 357.5,443.2 357.5,444.2 357.4,445.2 357.2,446.2 356.9,447.2 356.5,448.2 355.9,449.2 355.2,450.2 354.2,451.2 353.2,452.1 352.2,452.9 351.6,453.3 350.2,454 349.6,454.3 348.2,454.8 347.2,455.1 346.2,455.4 345.2,455.6 344.2,455.8 343.2,456 342.2,456.1 341.2,456.2 340.2,456.3 339.2,456.4 338.2,456.4 337.2,456.5 336.2,456.5 335.2,456.5 334.2,456.5 333.2,456.5 332.2,456.5 331.2,456.5 330.1,456.5 329.1,456.5 328.1,456.5 327.1,456.4 326.1,456.4 325.1,456.3 324.1,456.3 323.1,456.2 322.1,456.2 321.1,456.1 320.1,456.1 319.1,456 318.1,455.9 317.1,455.9 316.1,455.8 315.1,455.7 314.1,455.7 313.1,455.6 312.1,455.5 311.1,455.4 310.1,455.3 309.2,455.3 308.1,455.2 307.1,455.1 306.1,454.9 305.1,454.8 304.1,454.7 303.1,454.6 302.1,454.4 301.3,454.3 300.1,454 299.1,453.8 298.1,453.5 297.1,453.3 296.1,452.9 295.1,452.6 294.1,452.3 293.1,451.9 292.1,451.5 291.1,451 290,450.6 289.2,450.2 288,449.8 287,449.4 286,449.1 285,448.9 284,448.9 283,449.1 282,449.5 281,449.9 280.4,450.2 279,450.9 278.5,451.2 277,452 276,452.5 275,452.9 274.3,453.3 273,453.7 272,454.1 271,454.4 270,454.7 269,454.9 268,455.2 267,455.4 266,455.5 265,455.7 264,455.8 263,455.9 262,456 261,456.1 260,456.2 259,456.2 258,456.2 257.2,456.3 256,456.3 255,456.3 254,456.3 253,456.3 252,456.3 251,456.3 249.9,456.3 248.9,456.4 247.9,456.4 246.9,456.4 245.9,456.4 244.9,456.4 243.9,456.4 242.9,456.4 241.9,456.4 240.9,456.4 239.9,456.4 238.9,456.4 237.9,456.4 236.9,456.4 235.9,456.4 234.9,456.4 233.9,456.3 232.9,456.3 231.9,456.3 230.9,456.3 229.9,456.2 228.9,456.2 227.9,456.1 226.9,456.1 225.9,456 224.9,456 223.9,455.9 222.9,455.8 221.9,455.7 220.9,455.6 219.9,455.5 218.9,455.4 217.9,455.3 216.9,455.1 215.9,455 214.9,454.8 213.9,454.6 212.9,454.4 212.1,454.3 210.9,454 209.8,453.7 208.8,453.4 207.8,453.1 206.8,452.7 205.8,452.4 204.8,452 203.8,451.5 203.2,451.2 201.8,450.5 200.8,449.9 199.9,449.2 198.8,448.4 197.8,447.2 197.3,446.2 197.1,445.2 197.3,444.2 197.8,443.5 198.8,442.5 199.8,441.8 200.8,441.2 201.8,440.8 202.8,440.4 203.8,440 204.8,439.6 205.8,439.3 206.8,439 207.8,438.8 208.8,438.5 209.8,438.2 210.9,438 211.9,437.8 212.9,437.6 213.9,437.4 214.6,437.2 215.9,437 216.9,436.8 217.9,436.7 218.9,436.5 219.9,436.4 220.9,436.3 221.9,436.1 222.9,436 223.9,435.9 224.9,435.8 225.9,435.8 226.9,435.7 227.9,435.6 228.9,435.6 229.9,435.5 230.9,435.5 231.9,435.5 232.9,435.4 233.9,435.4 234.9,435.4 235.9,435.4 236.9,435.4 237.9,435.4 238.9,435.4 239.9,435.4 240.9,435.3 241.9,435.3 242.9,435.3 243.9,435.3 244.9,435.3 245.9,435.3 246.9,435.3 247.9,435.3 248.9,435.2 249.9,435.2 251,435.2 252,435.2 253,435.1 254,435.1 255,435.1 256,435.1 257,435.1 258,435.1 259,435.2 260,435.2 261,435.3 262,435.4 263,435.5 264,435.6 265,435.8 266,436 266.9,436.2 268,436.5 269,436.8 270,437.1 271,437.5 272,437.9 272.7,438.2 274,438.8 274.9,439.2 276,439.8 276.8,440.2 278,440.9 278.7,441.2 280,441.9 280.8,442.2 282,442.7 283,443 284,443 285,442.8 286,442.4 287,441.9 288,441.2 289,440.5 290,439.8 290.8,439.2 292.1,438.4 293.1,437.7 293.8,437.2 295.1,436.5 296.1,436 297.1,435.5 298.1,435 299.1,434.6 300.1,434.2 301.1,433.9 302.1,433.6 303.1,433.4 303.9,433.2 305.1,433 306.1,432.8 307.1,432.7 308.1,432.6 309.1,432.4 310.1,432.4 311.1,432.3 312.1,432.2Z"/>
<path fill="#1e74b0" d="M309.6,433.2 311.1,433.1 312.1,433 313.1,432.9 314.1,432.9 315.1,432.8 316.1,432.8 317.1,432.8 318.1,432.7 319.1,432.7 320.1,432.7 321.1,432.7 322.1,432.7 323.1,432.7 324.1,432.7 325.1,432.7 326.1,432.7 327.1,432.7 328.1,432.8 329.1,432.8 330.1,432.8 331.2,432.8 332.2,432.8 333.2,432.8 334.2,432.8 335.2,432.8 336.2,432.8 337.2,432.8 338.2,432.9 339.2,432.9 340.2,432.9 341.2,432.9 342.2,433 343.2,433.1 344.2,433.2 345.2,433.4 346.2,433.5 347.2,433.8 348.2,434.1 349.2,434.4 350.2,434.9 350.9,435.2 352.2,436 353.2,436.8 353.7,437.2 354.2,437.8 355.2,439.2 355.8,440.2 356.2,441.2 356.5,442.2 356.6,443.2 356.6,444.2 356.6,445.2 356.4,446.2 356,447.2 355.6,448.2 355.2,448.8 354.2,450.2 353.2,451.2 352.2,452 351.2,452.7 350.2,453.3 349.2,453.7 348.2,454.1 347.2,454.5 346.2,454.7 345.2,455 344.2,455.2 343.2,455.4 342.2,455.5 341.2,455.6 340.2,455.7 339.2,455.8 338.2,455.8 337.2,455.9 336.2,455.9 335.2,455.9 334.2,456 333.2,456 332.2,456 331.2,455.9 330.1,455.9 329.1,455.9 328.1,455.9 327.1,455.8 326.1,455.8 325.1,455.8 324.1,455.7 323.1,455.7 322.1,455.6 321.1,455.5 320.1,455.5 319.1,455.4 318.1,455.3 317.1,455.3 316.1,455.2 315.1,455.1 314.1,455 313.1,455 312.1,454.9 311.1,454.8 310.1,454.7 309.1,454.6 308.1,454.5 307.1,454.4 306.1,454.3 305.1,454.2 304.1,454 303.1,453.9 302.1,453.7 301.1,453.5 300.1,453.3 299.1,453 298.1,452.7 297.1,452.4 296.1,452.1 295.1,451.7 294.1,451.2 293.1,450.8 292.1,450.3 291.1,449.7 290.3,449.2 289,448.3 288,447.4 287.3,446.2 287.3,445.2 287.7,444.2 288.5,443.2 289,442.6 290,441.6 291.1,440.7 291.6,440.2 292.1,439.8 292.8,439.2 294.1,438.3 295.1,437.7 295.8,437.2 297.1,436.5 297.7,436.2 299.1,435.6 300,435.2 301.1,434.9 302.1,434.5 303.1,434.3 304.1,434 305.1,433.8 306.1,433.7 307.1,433.5 308.1,433.4 309.1,433.3ZM228.9,436.2 229.9,436.2 230.9,436.1 231.9,436.1 232.9,436.1 233.9,436 234.9,436 235.9,436 236.9,436 237.9,436 238.9,436 239.9,436 240.9,436 241.9,436 242.9,436 243.9,436 244.9,436 245.9,436 246.9,435.9 247.9,435.9 248.9,435.9 249.9,435.9 251,435.9 252,435.9 253,435.8 254,435.8 255,435.8 256,435.8 257,435.8 258,435.9 259,435.9 260,436 261,436 262,436.2 263,436.3 264,436.4 265,436.6 266,436.8 267,437.1 268,437.4 269,437.7 270,438.1 271,438.5 272,438.9 272.7,439.2 274,439.9 274.6,440.2 276,441.1 277,441.8 277.7,442.2 279,443.2 280,444.2 280.9,445.2 281,445.9 280.9,447.2 280.1,448.2 279.1,449.2 278,450 277,450.7 276.2,451.2 275,451.9 274.4,452.3 273,452.9 272.1,453.3 271,453.6 270,454 269,454.2 268,454.5 267,454.7 266,454.9 265,455.1 264,455.2 263,455.3 262,455.4 261,455.5 260,455.6 259,455.6 258,455.7 257,455.7 256,455.7 255,455.8 254,455.8 253,455.8 252,455.8 251,455.8 249.9,455.8 248.9,455.8 247.9,455.8 246.9,455.8 245.9,455.8 244.9,455.9 243.9,455.9 242.9,455.9 241.9,455.9 240.9,455.9 239.9,455.9 238.9,455.9 237.9,455.9 236.9,455.9 235.9,455.9 234.9,455.8 233.9,455.8 232.9,455.8 231.9,455.8 230.9,455.7 229.9,455.7 228.9,455.7 227.9,455.6 226.9,455.5 225.9,455.5 224.9,455.4 223.9,455.3 223,455.3 221.9,455.1 220.9,455 219.9,454.9 218.9,454.8 217.9,454.7 216.9,454.5 215.9,454.3 214.9,454.2 213.9,454 212.9,453.7 211.9,453.5 210.9,453.3 209.8,452.9 208.8,452.6 207.8,452.3 206.8,451.9 205.8,451.5 204.8,451 203.8,450.5 202.8,449.9 201.8,449.3 200.8,448.4 199.8,447.3 199.3,446.2 199.2,445.2 199.5,444.2 200.3,443.2 200.8,442.8 201.5,442.2 202.8,441.5 203.4,441.2 204.8,440.6 205.8,440.2 206.8,439.9 207.8,439.6 208.8,439.3 209.8,439 210.9,438.8 211.9,438.5 212.9,438.3 213.9,438.1 214.9,437.9 215.9,437.7 216.9,437.5 217.9,437.3 218.7,437.2 219.9,437 220.9,436.9 221.9,436.8 222.9,436.7 223.9,436.6 224.9,436.5 225.9,436.4 226.9,436.3 227.9,436.3 228.9,436.2Z"/>
<path fill="#1c6ba2" d="M308,434.2 309.1,434.1 310.1,434 311.1,433.9 312.1,433.8 313.1,433.7 314.1,433.6 315.1,433.6 316.1,433.5 317.1,433.5 318.1,433.5 319.1,433.4 320.1,433.4 321.1,433.4 322.1,433.4 323.1,433.4 324.1,433.4 325.1,433.4 326.1,433.4 327.1,433.4 328.1,433.4 329.1,433.4 330.1,433.5 331.2,433.5 332.2,433.5 333.2,433.5 334.2,433.5 335.2,433.5 336.2,433.5 337.2,433.5 338.2,433.5 339.2,433.5 340.2,433.6 341.2,433.6 342.2,433.7 343.2,433.8 344.2,433.9 345.2,434.1 346.2,434.3 347.2,434.5 348.2,434.9 349.1,435.2 350.2,435.7 351.1,436.2 352.2,437 353.2,438 354.2,439.2 354.8,440.2 355.2,441.1 355.6,442.2 355.7,443.2 355.8,444.2 355.7,445.2 355.5,446.2 355.2,447 354.6,448.2 354.2,448.9 353.2,450.2 352.2,451.1 351.2,451.9 350.6,452.3 349.2,453 348.6,453.3 347.2,453.8 346.2,454.1 345.2,454.4 344.2,454.6 343.2,454.8 342.2,454.9 341.2,455 340.2,455.1 339.2,455.2 338.4,455.3 337.2,455.3 336.2,455.3 335.2,455.4 334.2,455.4 333.2,455.4 332.2,455.4 331.2,455.4 330.1,455.4 329.1,455.3 328.1,455.3 327.1,455.3 326.1,455.2 325.1,455.2 324.1,455.1 323.1,455.1 322.1,455 321.1,455 320.1,454.9 319.1,454.8 318.1,454.7 317.1,454.7 316.1,454.6 315.1,454.5 314.1,454.4 313.1,454.3 312.1,454.3 311.1,454.2 310.1,454.1 309.1,454 308.1,453.9 307.1,453.7 306.1,453.6 305.1,453.5 304.1,453.3 303.1,453.1 302.1,452.9 301.1,452.7 300.1,452.5 299.3,452.3 298.1,451.8 297.1,451.5 296.5,451.2 295.1,450.6 294.4,450.2 293.1,449.4 292.1,448.7 291.6,448.2 291.1,447.6 290.2,446.2 290.1,445.2 290.3,444.2 290.8,443.2 291.5,442.2 292.1,441.6 293.1,440.6 294.1,439.7 294.6,439.2 296.1,438.2 297.1,437.6 297.8,437.2 299.1,436.6 299.9,436.2 301.1,435.8 302.1,435.5 302.9,435.2 304.1,434.9 305.1,434.7 306.1,434.5 307.1,434.3 308,434.2ZM223.9,437.2 224.9,437.1 225.9,437 226.9,437 227.9,436.9 228.9,436.8 229.9,436.8 230.9,436.8 231.9,436.7 232.9,436.7 233.9,436.7 234.9,436.7 235.9,436.6 236.9,436.6 237.9,436.6 238.9,436.6 239.9,436.6 240.9,436.6 241.9,436.6 242.9,436.6 243.9,436.6 244.9,436.6 245.9,436.6 246.9,436.6 247.9,436.6 248.9,436.6 249.9,436.6 251,436.5 252,436.5 253,436.5 254,436.5 255,436.5 256,436.5 257,436.6 258,436.6 259,436.6 260,436.7 261,436.8 262,436.9 263,437.1 264,437.2 265,437.4 266,437.7 267,437.9 267.9,438.2 269,438.6 270,439 271,439.4 272,439.9 272.5,440.2 274,441.1 275,441.8 275.5,442.2 276,442.7 276.6,443.2 277,443.7 277.5,444.2 278,445.2 278.3,446.2 278.1,447.2 277.6,448.2 277,449 276,449.9 275,450.7 274.2,451.2 273,451.9 272.3,452.3 271,452.8 270,453.2 269,453.5 268,453.8 267,454 266,454.2 265,454.4 264,454.6 263,454.7 262,454.8 261,454.9 260,455 259,455.1 258,455.1 257,455.2 256,455.2 255,455.2 254,455.2 253,455.3 252,455.3 251,455.3 249.9,455.3 248.9,455.3 247.9,455.3 246.9,455.3 245.9,455.3 244.9,455.3 243.9,455.3 242.9,455.3 241.9,455.4 240.9,455.4 239.9,455.4 238.9,455.4 237.9,455.4 236.9,455.3 235.9,455.3 234.9,455.3 233.9,455.3 232.9,455.3 231.9,455.2 230.9,455.2 229.9,455.2 228.9,455.1 227.9,455.1 226.9,455 225.9,454.9 224.9,454.8 223.9,454.8 222.9,454.7 221.9,454.6 220.9,454.5 219.9,454.3 218.9,454.2 217.9,454 216.9,453.9 215.9,453.7 214.9,453.5 213.9,453.3 212.9,453 211.9,452.8 210.9,452.5 210.1,452.3 208.8,451.8 207.8,451.4 206.8,451 205.8,450.5 204.8,449.9 203.8,449.3 202.8,448.4 201.8,447.3 201.3,446.2 201.3,445.2 201.7,444.2 202.5,443.2 203.8,442.3 204.8,441.8 205.8,441.3 206.8,440.9 207.8,440.5 208.6,440.2 209.8,439.9 210.9,439.6 211.9,439.3 212.9,439 213.9,438.8 214.9,438.6 215.9,438.4 216.7,438.2 217.9,438 218.9,437.9 219.9,437.7 220.9,437.6 221.9,437.4 222.9,437.3 223.9,437.2Z"/>
<path fill="#1a6294" d="M318,434.2 319.1,434.2 320.1,434.2 321.1,434.1 322.1,434.1 323.1,434.1 324.1,434.1 325.1,434.1 326.1,434.1 327.1,434.1 328.1,434.1 329.1,434.1 330.1,434.1 331.2,434.1 332.2,434.2 333.2,434.2 334.2,434.2 335.2,434.2 336.2,434.2 337.2,434.2 338.2,434.2 339,434.2 340.2,434.3 341.2,434.3 342.2,434.4 343.2,434.5 344.2,434.6 345.2,434.8 346.2,435 346.9,435.2 348.2,435.7 349.2,436.1 350.2,436.6 351.1,437.2 352.2,438.1 353.2,439.2 353.8,440.2 354.2,441 354.6,442.2 354.8,443.2 354.9,444.2 354.8,445.2 354.6,446.2 354.2,447.2 353.7,448.2 353.2,449 352.2,450.1 351.2,451 350.2,451.7 349.2,452.3 348.2,452.7 347.2,453.1 346.2,453.5 345.2,453.7 344.2,454 343.2,454.2 342.2,454.3 341.2,454.4 340.2,454.5 339.2,454.6 338.2,454.7 337.2,454.7 336.2,454.8 335.2,454.8 334.2,454.8 333.2,454.8 332.2,454.8 331.2,454.8 330.1,454.8 329.1,454.7 328.1,454.7 327.1,454.7 326.1,454.6 325.1,454.6 324.1,454.5 323.1,454.5 322.1,454.4 321.1,454.4 320.1,454.3 319.1,454.2 318.1,454.1 317.1,454.1 316.1,454 315.1,453.9 314.1,453.8 313.1,453.7 312.1,453.6 311.1,453.5 310.1,453.4 309.1,453.3 308.1,453.2 307.1,453.1 306.1,452.9 305.1,452.8 304.1,452.6 303.1,452.4 302.1,452.2 301.1,451.9 300.1,451.6 299.1,451.3 298.1,450.9 297.1,450.5 296.1,449.9 295.1,449.3 294.1,448.6 293.1,447.5 292.4,446.2 292.2,445.2 292.3,444.2 292.7,443.2 293.1,442.7 294.1,441.4 295.1,440.4 296.1,439.5 297.1,438.8 298,438.2 299.1,437.7 300,437.2 301.1,436.8 302.1,436.4 303.1,436.1 304.1,435.8 305.1,435.6 306.1,435.4 306.9,435.2 308.1,435 309.1,434.9 310.1,434.8 311.1,434.7 312.1,434.6 313.1,434.5 314.1,434.4 315.1,434.3 316.1,434.3 317.1,434.2 318,434.2ZM249.4,437.2 251,437.2 252,437.2 253,437.2 254,437.2 255,437.2 256,437.2 257,437.3 258,437.3 259,437.4 260,437.4 261,437.5 262,437.7 263,437.8 264,438 265,438.2 266,438.5 267,438.8 268,439.1 269,439.5 270,440 271,440.5 272,441.1 273,441.8 273.6,442.2 274.7,443.2 275.5,444.2 276,445.2 276.2,446.2 276.1,447.2 275.7,448.2 275,449.1 274,450.1 273,450.8 272.3,451.2 271,451.9 270.2,452.3 269,452.7 268,453 267.3,453.3 266,453.6 265,453.8 264,453.9 263,454.1 262,454.2 261,454.3 260,454.4 259,454.5 258,454.5 257,454.6 256,454.6 255,454.7 254,454.7 253,454.7 252,454.7 251,454.7 249.9,454.7 248.9,454.8 247.9,454.8 246.9,454.8 245.9,454.8 244.9,454.8 243.9,454.8 242.9,454.8 241.9,454.8 240.9,454.8 239.9,454.8 238.9,454.8 237.9,454.8 236.9,454.8 235.9,454.8 234.9,454.8 233.9,454.8 232.9,454.7 231.9,454.7 230.9,454.7 229.9,454.6 228.9,454.6 227.9,454.5 226.9,454.4 225.9,454.4 224.9,454.3 223.9,454.2 222.9,454.1 221.9,454 220.9,453.8 219.9,453.7 218.9,453.6 217.9,453.4 217,453.3 215.9,453 214.9,452.8 213.9,452.6 212.9,452.3 211.9,452 210.9,451.7 209.8,451.3 208.8,450.9 207.8,450.4 206.8,449.9 205.8,449.3 204.8,448.5 203.8,447.3 203.4,446.2 203.4,445.2 203.8,444.2 204.8,443.2 205.8,442.5 206.3,442.2 207.8,441.5 208.5,441.2 209.8,440.7 210.9,440.4 211.9,440.1 212.9,439.8 213.9,439.6 214.9,439.3 215.9,439.1 216.9,438.9 217.9,438.7 218.9,438.5 219.9,438.4 220.9,438.2 221.9,438.1 222.9,438 223.9,437.9 224.9,437.8 225.9,437.7 226.9,437.6 227.9,437.5 228.9,437.5 229.9,437.4 230.9,437.4 231.9,437.3 232.9,437.3 233.9,437.3 234.9,437.3 235.9,437.3 236.9,437.2 237.9,437.2 238.9,437.2 239.9,437.2 240.9,437.2 241.9,437.2 242.9,437.2 243.9,437.2 244.9,437.2 245.9,437.2 246.9,437.2 247.9,437.2 248.9,437.2Z"/>
<path fill="#175986" d="M313.8,435.2 315.1,435.1 316.1,435.1 317.1,435 318.1,435 319.1,434.9 320.1,434.9 321.1,434.9 322.1,434.8 323.1,434.8 324.1,434.8 325.1,434.8 326.1,434.8 327.1,434.8 328.1,434.8 329.1,434.8 330.1,434.8 331.2,434.8 332.2,434.8 333.2,434.8 334.2,434.8 335.2,434.8 336.2,434.8 337.2,434.9 338.2,434.9 339.2,434.9 340.2,434.9 341.2,435 342.2,435.1 343.2,435.2 344.2,435.4 345.2,435.5 346.2,435.8 347.2,436.1 348.2,436.5 349.2,437 350.2,437.6 351,438.2 352.1,439.2 352.8,440.2 353.2,441 353.7,442.2 353.9,443.2 354,444.2 353.9,445.2 353.7,446.2 353.3,447.2 352.7,448.2 352.2,448.9 351.2,450 350.2,450.8 349.5,451.2 348.2,452 347.6,452.3 346.2,452.8 345.2,453.1 344.5,453.3 343.2,453.5 342.2,453.7 341.2,453.8 340.2,453.9 339.2,454 338.2,454.1 337.2,454.1 336.2,454.2 335.2,454.2 334.2,454.2 333.2,454.2 332.2,454.2 331.2,454.2 330.1,454.2 329.1,454.2 328.1,454.1 327.1,454.1 326.1,454 325.1,454 324.1,453.9 323.1,453.9 322.1,453.8 321.1,453.7 320.1,453.7 319.1,453.6 318.1,453.5 317.1,453.4 316.1,453.3 315.2,453.3 314.1,453.1 313.1,453 312.1,452.9 311.1,452.8 310.1,452.7 309.1,452.6 308.1,452.5 307.1,452.3 306.1,452.2 305.1,452 304.1,451.8 303.1,451.6 302.1,451.3 301.1,451 300.1,450.7 299.1,450.3 298.1,449.8 297.1,449.3 296.1,448.5 295.1,447.5 294.3,446.2 294.1,445.2 294.2,444.2 294.5,443.2 295.1,442.3 295.9,441.2 297,440.2 298.1,439.4 299.1,438.8 300.1,438.2 301.1,437.8 302.1,437.4 303.1,437 304.1,436.7 305.1,436.5 306.1,436.2 307.1,436 308.1,435.9 309.1,435.7 310.1,435.6 311.1,435.5 312.1,435.4 313.1,435.3ZM227.1,438.2 227.9,438.2 228.9,438.1 229.9,438 230.9,438 231.9,438 232.9,437.9 233.9,437.9 234.9,437.9 235.9,437.9 236.9,437.9 237.9,437.9 238.9,437.9 239.9,437.9 240.9,437.9 241.9,437.9 242.9,437.9 243.9,437.9 244.9,437.9 245.9,437.9 246.9,437.9 247.9,437.9 248.9,437.9 249.9,437.9 251,437.9 252,437.9 253,437.9 254,437.9 255,437.9 256,437.9 257,438 258,438 259,438.1 260,438.2 261,438.3 262,438.4 263,438.6 264,438.8 265,439 265.6,439.2 267,439.7 268,440.1 269,440.5 270,441 271,441.6 271.8,442.2 273,443.2 273.8,444.2 274.3,445.2 274.5,446.2 274.3,447.2 274,448 273.1,449.2 272,450.2 271,450.9 270.3,451.2 269,451.9 268,452.3 267,452.6 266,452.8 265,453.1 264.2,453.3 263,453.5 262,453.6 261,453.7 260,453.8 259,453.9 258,454 257,454 256,454.1 255,454.1 254,454.1 253,454.2 252,454.2 251,454.2 250,454.2 248.9,454.2 247.9,454.2 246.9,454.2 245.9,454.3 244.9,454.3 243.9,454.3 242.9,454.3 241.9,454.3 240.9,454.3 239.9,454.3 238.9,454.3 237.9,454.3 236.9,454.3 235.9,454.3 234.9,454.3 233.9,454.2 232.9,454.2 231.9,454.2 230.9,454.1 229.9,454.1 228.9,454 227.9,453.9 226.9,453.9 225.9,453.8 224.9,453.7 223.9,453.6 222.9,453.5 221.9,453.4 221,453.3 219.9,453.1 218.9,452.9 217.9,452.7 216.9,452.5 215.9,452.3 214.9,452.1 213.9,451.8 212.9,451.5 212.1,451.2 210.9,450.8 209.8,450.3 208.8,449.8 207.8,449.2 206.8,448.5 205.8,447.3 205.4,446.2 205.5,445.2 205.8,444.5 206.8,443.5 207.8,442.8 208.8,442.2 209.8,441.8 210.9,441.3 211.9,441 212.9,440.7 213.9,440.4 214.9,440.1 215.9,439.9 216.9,439.6 217.9,439.4 218.9,439.2 219.9,439.1 220.9,438.9 221.9,438.8 222.9,438.6 223.9,438.5 224.9,438.4 225.9,438.3 226.9,438.2Z"/>
<path fill="#154f78" d="M311.7,436.2 313.1,436.1 314.1,436 315.1,435.9 316.1,435.8 317.1,435.8 318.1,435.7 319.1,435.7 320.1,435.6 321.1,435.6 322.1,435.6 323.1,435.6 324.1,435.5 325.1,435.5 326.1,435.5 327.1,435.5 328.1,435.5 329.1,435.5 330.1,435.5 331.2,435.5 332.2,435.5 333.2,435.5 334.2,435.5 335.2,435.5 336.2,435.5 337.2,435.5 338.2,435.6 339.2,435.6 340.2,435.6 341.2,435.7 342.2,435.8 343.2,435.9 344.2,436.1 345.2,436.3 346.2,436.6 347.2,436.9 347.9,437.2 349.2,437.9 350.2,438.7 350.8,439.2 351.7,440.2 352.2,441 352.7,442.2 353,443.2 353,444.2 353,445.2 352.7,446.2 352.3,447.2 351.7,448.2 351.2,448.9 350.2,449.8 349.7,450.2 349.2,450.6 348.2,451.2 347.2,451.7 346.2,452.1 345.2,452.4 344.2,452.7 343.2,452.9 342.2,453.1 341.2,453.2 340.2,453.3 339.2,453.4 338.2,453.5 337.2,453.5 336.2,453.6 335.2,453.6 334.2,453.6 333.2,453.6 332.2,453.6 331.2,453.6 330.1,453.6 329.1,453.5 328.1,453.5 327.1,453.5 326.1,453.4 325.1,453.4 324.1,453.3 323.1,453.3 322.1,453.2 321.1,453.1 320.1,453 319.1,452.9 318.1,452.9 317.1,452.8 316.1,452.7 315.1,452.6 314.1,452.5 313.1,452.4 312.1,452.3 311.1,452.1 310.1,452 309.1,451.9 308.1,451.7 307.1,451.6 306.1,451.4 305.2,451.2 304.1,451 303.1,450.7 302.1,450.4 301.1,450.1 300.1,449.6 299.2,449.2 298.1,448.5 297.1,447.6 296.1,446.2 295.9,445.2 295.9,444.2 296.3,443.2 296.9,442.2 297.7,441.2 298.9,440.2 300.1,439.4 301.1,438.9 302.1,438.4 303.1,438 304.1,437.7 305.1,437.4 305.8,437.2 307.1,436.9 308.1,436.7 309.1,436.6 310.1,436.4 311.1,436.3ZM223.6,439.2 224.9,439.1 225.9,439 226.9,438.9 227.9,438.8 228.9,438.7 229.9,438.7 230.9,438.6 231.9,438.6 232.9,438.5 233.9,438.5 234.9,438.5 235.9,438.5 236.9,438.5 237.9,438.5 238.9,438.5 239.9,438.5 240.9,438.5 241.9,438.5 242.9,438.5 243.9,438.5 244.9,438.5 245.9,438.5 246.9,438.5 247.9,438.5 248.9,438.5 249.9,438.5 251,438.5 252,438.5 253,438.5 254,438.5 255,438.6 256,438.6 257,438.7 258,438.7 259,438.8 260,438.9 261,439 262,439.2 263,439.4 264,439.6 265,439.9 266,440.2 267,440.6 268,441 269,441.6 270,442.2 271,443 272,444.2 272.6,445.2 272.8,446.2 272.7,447.2 272.2,448.2 271.4,449.2 270.1,450.2 269,450.9 268.3,451.2 267,451.7 266,452.1 265,452.4 264,452.6 263,452.8 262,452.9 261,453.1 260,453.2 259,453.3 258,453.4 257,453.4 256,453.5 255,453.5 254,453.6 253,453.6 252,453.6 251,453.6 249.9,453.6 248.9,453.7 247.9,453.7 246.9,453.7 245.9,453.7 244.9,453.7 243.9,453.7 242.9,453.7 241.9,453.8 240.9,453.8 239.9,453.8 238.9,453.8 237.9,453.8 236.9,453.7 235.9,453.7 234.9,453.7 233.9,453.7 232.9,453.6 231.9,453.6 230.9,453.6 229.9,453.5 228.9,453.4 227.9,453.4 226.9,453.3 225.9,453.2 224.9,453.1 223.9,453 222.9,452.9 221.9,452.7 220.9,452.6 219.9,452.4 218.9,452.3 217.9,452 216.9,451.8 215.9,451.6 214.9,451.3 213.9,451 212.9,450.6 211.9,450.2 210.9,449.7 210,449.2 208.8,448.4 207.8,447.3 207.5,446.2 207.6,445.2 208.2,444.2 208.8,443.7 209.4,443.2 210.9,442.4 211.9,442 212.9,441.6 213.9,441.2 214.9,441 215.9,440.7 216.9,440.4 217.7,440.2 218.9,440 219.9,439.8 220.9,439.6 221.9,439.5 222.9,439.3 223.6,439.2Z"/>
<path fill="#12466a" d="M310.7,437.2 312.1,437 313.1,436.9 314.1,436.8 315.1,436.7 316.1,436.6 317.1,436.6 318.1,436.5 319.1,436.4 320.1,436.4 321.1,436.4 322.1,436.3 323.1,436.3 324.1,436.3 325.1,436.3 326.1,436.3 327.1,436.2 328.1,436.2 329.1,436.2 330.1,436.2 331.2,436.2 332.2,436.2 333.2,436.2 334.2,436.2 335.2,436.2 336.2,436.2 337.2,436.2 338.2,436.3 339.2,436.3 340.2,436.4 341.2,436.4 342.2,436.5 343.2,436.7 344.2,436.9 345.2,437.1 346.2,437.4 347.2,437.8 348,438.2 349.2,439 350.2,439.9 351.2,441.2 351.7,442.2 352,443.2 352.1,444.2 352,445.2 351.7,446.2 351.3,447.2 350.6,448.2 350.2,448.7 349.7,449.2 349.2,449.6 348.3,450.2 347.2,450.9 346.4,451.2 345.2,451.7 344.2,452 343.2,452.2 342.2,452.4 341.2,452.6 340.2,452.7 339.2,452.8 338.2,452.8 337.2,452.9 336.2,452.9 335.2,453 334.2,453 333.2,453 332.2,453 331.2,453 330.1,452.9 329.1,452.9 328.1,452.9 327.1,452.8 326.1,452.8 325.1,452.7 324.1,452.7 323.1,452.6 322.1,452.5 321.1,452.4 320.1,452.4 319.1,452.3 318.1,452.2 317.1,452.1 316.1,452 315.1,451.9 314.1,451.7 313.1,451.6 312.1,451.5 311.1,451.4 310.1,451.3 309.1,451.1 308.1,450.9 307.1,450.8 306.1,450.6 305.1,450.3 304.1,450.1 303.1,449.7 302.1,449.4 301.1,448.9 300.1,448.4 299.1,447.6 298.1,446.3 297.7,445.2 297.7,444.2 298.1,443.2 298.7,442.2 299.7,441.2 301,440.2 302.1,439.6 302.9,439.2 304.1,438.8 305.1,438.4 305.7,438.2 307.1,437.9 308.1,437.7 309.1,437.5 310.1,437.3ZM231.5,439.2 232.9,439.2 233.9,439.1 234.9,439.1 235.9,439.1 236.9,439.1 237.9,439.1 238.9,439.1 239.9,439.1 240.9,439.1 241.9,439.1 242.9,439.1 243.9,439.1 244.9,439.1 245.9,439.1 246.9,439.1 247.9,439.2 248.9,439.2 249.9,439.2 251,439.2 252,439.2 253,439.2 253.7,439.2 255,439.3 256,439.3 257,439.4 258,439.4 259,439.5 260,439.7 261,439.8 262,440 263,440.2 264,440.5 265,440.8 266,441.2 267,441.6 268,442.2 269,442.9 270,443.8 270.9,445.2 271.1,446.2 271,447.2 270.5,448.2 270,448.8 269.6,449.2 269,449.7 268.2,450.2 267,450.8 266,451.2 265,451.5 264,451.8 263,452 262,452.2 261,452.4 260,452.5 259,452.6 258,452.7 257,452.8 256,452.9 255,452.9 254,453 253,453 252,453 251,453 249.9,453.1 248.9,453.1 247.9,453.1 246.9,453.1 245.9,453.1 244.9,453.2 243.9,453.2 242.9,453.2 241.9,453.2 240.9,453.2 239.9,453.2 238.9,453.2 237.9,453.2 236.9,453.2 235.9,453.2 234.9,453.1 233.9,453.1 232.9,453.1 231.9,453 230.9,453 229.9,452.9 228.9,452.8 227.9,452.8 226.9,452.7 225.9,452.6 224.9,452.5 223.9,452.3 222.9,452.2 221.9,452 220.9,451.9 219.9,451.7 218.9,451.5 217.9,451.3 216.9,451 215.9,450.7 214.9,450.4 213.9,450 212.9,449.5 212.3,449.2 210.9,448.3 210,447.2 209.6,446.2 209.8,445.2 210.5,444.2 211.8,443.2 212.9,442.7 213.9,442.3 214.9,441.9 215.9,441.6 216.9,441.3 217.9,441 218.9,440.8 219.9,440.6 220.9,440.4 221.6,440.2 222.9,440 223.9,439.9 224.9,439.8 225.9,439.7 226.9,439.6 227.9,439.5 228.9,439.4 229.9,439.3 230.9,439.3Z"/>
<path fill="#103d5c" d="M319.7,437.2 321.1,437.1 322.1,437.1 323.1,437.1 324.1,437 325.1,437 326.1,437 327.1,437 328.1,437 329.1,437 330.1,437 331.2,437 332.2,437 333.2,437 334.2,437 335.2,437 336.2,437 337.2,437 338.2,437 339.2,437 340.2,437.1 341.2,437.2 342.2,437.3 343.2,437.5 344.2,437.7 345.2,438 345.9,438.2 347.2,438.8 347.9,439.2 349.2,440.2 350,441.2 350.6,442.2 350.9,443.2 351,444.2 350.9,445.2 350.7,446.2 350.2,447.2 349.4,448.2 348.3,449.2 347.2,450 346.2,450.5 345.2,450.9 344.2,451.2 343.2,451.5 342.2,451.7 341.2,451.9 340.2,452 339.2,452.1 338.2,452.2 337.2,452.3 336.2,452.3 335.2,452.3 334.2,452.3 333.2,452.3 332.2,452.3 331.2,452.3 330.1,452.3 329.1,452.3 328.1,452.2 327.1,452.2 326.1,452.1 325.1,452.1 324.1,452 323.1,451.9 322.1,451.8 321.1,451.7 320.1,451.7 319.1,451.6 318.1,451.5 317.1,451.3 316.2,451.2 315.1,451.1 314.1,451 313.1,450.9 312.1,450.7 311.1,450.6 310.1,450.4 309.1,450.3 308.1,450.1 307.1,449.8 306.1,449.6 305.1,449.3 304.1,449 303.1,448.6 302.4,448.2 301.1,447.4 300.1,446.3 299.7,445.2 299.7,444.2 300,443.2 300.7,442.2 301.8,441.2 303.1,440.5 304.1,440 305.1,439.5 306,439.2 307.1,438.9 308.1,438.7 309.1,438.4 310.1,438.2 311.1,438.1 312.1,437.9 313.1,437.8 314.1,437.7 315.1,437.6 316.1,437.5 317.1,437.4 318.1,437.3 319.1,437.3ZM227,440.2 227.9,440.1 228.9,440.1 229.9,440 230.9,439.9 231.9,439.9 232.9,439.8 233.9,439.8 234.9,439.8 235.9,439.7 236.9,439.7 237.9,439.7 238.9,439.7 239.9,439.7 240.9,439.7 241.9,439.8 242.9,439.8 243.9,439.8 244.9,439.8 245.9,439.8 246.9,439.8 247.9,439.8 248.9,439.8 249.9,439.8 251,439.9 252,439.9 253,439.9 254,439.9 255,440 256,440 257,440.1 258,440.2 259,440.3 260,440.5 261,440.6 262,440.8 263,441.1 264,441.4 265,441.8 266,442.2 267,442.9 267.5,443.2 268,443.6 268.6,444.2 269,444.9 269.4,446.2 269.3,447.2 269,447.8 268,449 267,449.7 266,450.2 265,450.6 264,451 263,451.2 262,451.5 261,451.7 260,451.8 259,451.9 258,452.1 257,452.1 256,452.2 255,452.3 254,452.3 253,452.4 252,452.4 251,452.4 249.9,452.5 248.9,452.5 247.9,452.5 246.9,452.5 245.9,452.6 244.9,452.6 243.9,452.6 242.9,452.6 241.9,452.6 240.9,452.6 239.9,452.6 238.9,452.6 237.9,452.6 236.9,452.6 235.9,452.6 234.9,452.5 233.9,452.5 232.9,452.5 231.9,452.4 230.9,452.4 229.9,452.3 228.9,452.2 227.9,452.1 226.9,452 225.9,451.9 224.9,451.8 223.9,451.6 222.9,451.5 221.9,451.3 220.9,451.1 219.9,450.9 218.9,450.7 217.9,450.4 216.9,450.1 215.9,449.7 214.9,449.3 213.9,448.7 213.2,448.2 212.2,447.2 211.9,446.3 212.1,445.2 212.9,444.3 213.9,443.6 214.4,443.2 215.9,442.6 216.8,442.2 217.9,441.9 218.9,441.6 219.9,441.4 220.5,441.2 221.9,441 222.9,440.8 223.9,440.6 224.9,440.5 225.9,440.4 226.9,440.2Z"/>
<path fill="#0d344e" d="M317.8,438.2 319.1,438.1 320.1,438.1 321.1,438 322.1,437.9 323.1,437.9 324.1,437.9 325.1,437.8 326.1,437.8 327.1,437.8 328.1,437.8 329.1,437.8 330.1,437.8 331.2,437.8 332.2,437.7 333.2,437.7 334.2,437.7 335.2,437.7 336.2,437.7 337.2,437.8 338.2,437.8 339.2,437.8 340.2,437.9 341.2,438 342.2,438.1 343.2,438.3 344.2,438.6 345.2,438.9 346,439.2 347.2,439.9 348.2,440.7 348.7,441.2 349.2,441.9 349.8,443.2 349.9,444.2 349.8,445.2 349.5,446.2 349.2,446.8 348.2,448.1 347.2,448.9 346.2,449.6 345.2,450 344.2,450.4 343.2,450.7 342.2,451 341.2,451.1 340.2,451.3 339.2,451.4 338.2,451.5 337.2,451.5 336.2,451.6 335.2,451.6 334.2,451.6 333.2,451.6 332.2,451.6 331.2,451.6 330.1,451.6 329.1,451.5 328.1,451.5 327.1,451.5 326.1,451.4 325.1,451.3 324.1,451.3 323.1,451.2 322.1,451.1 321.1,451 320.1,450.9 319.1,450.8 318.1,450.7 317.1,450.5 316.1,450.4 315.1,450.3 314.1,450.2 313.1,450 312.1,449.8 311.1,449.7 310.1,449.5 309.1,449.3 308.1,449 307.1,448.8 306.1,448.4 305.5,448.2 304.1,447.6 303.5,447.2 303.1,446.9 302.4,446.2 302.1,445.6 301.8,444.2 302.1,443.6 303.1,442.2 304.1,441.5 305.1,440.9 306.1,440.5 306.7,440.2 308.1,439.8 309.1,439.5 310.1,439.3 311.1,439.1 312.1,438.9 313.1,438.8 314.1,438.6 315.1,438.5 316.1,438.4 317.1,438.3ZM225.1,441.2 225.9,441.1 226.9,441 227.9,440.9 228.9,440.8 229.9,440.7 230.9,440.6 231.9,440.6 232.9,440.5 233.9,440.5 234.9,440.4 235.9,440.4 236.9,440.4 237.9,440.4 238.9,440.4 239.9,440.4 240.9,440.4 241.9,440.4 242.9,440.4 243.9,440.4 244.9,440.5 245.9,440.5 246.9,440.5 247.9,440.5 248.9,440.5 249.9,440.6 251,440.6 252,440.6 253,440.6 254,440.7 255,440.7 256,440.8 257,440.9 258,441 259,441.1 260,441.3 261,441.5 262,441.8 263,442.1 264,442.5 265,443 266,443.7 266.7,444.2 267.4,445.2 267.6,446.2 267.4,447.2 267,447.9 266,448.9 265.5,449.2 264,450 263.3,450.2 262,450.6 261,450.8 260,451 259,451.2 258,451.3 257,451.4 256,451.5 255,451.6 254,451.6 253,451.7 252,451.7 251,451.8 249.9,451.8 248.9,451.8 247.9,451.9 246.9,451.9 245.9,451.9 244.9,451.9 243.9,452 242.9,452 241.9,452 240.9,452 239.9,452 238.9,452 237.9,452 236.9,452 235.9,451.9 234.9,451.9 233.9,451.9 232.9,451.8 231.9,451.8 230.9,451.7 229.9,451.6 228.9,451.5 227.9,451.4 226.9,451.3 225.9,451.2 224.9,451 223.9,450.9 222.9,450.7 221.9,450.5 220.9,450.3 219.9,450 218.9,449.7 217.9,449.3 216.9,448.9 215.9,448.3 214.9,447.5 214.3,446.2 214.5,445.2 215.5,444.2 216.9,443.5 217.9,443 218.9,442.7 219.9,442.3 220.9,442.1 221.9,441.8 222.9,441.6 223.9,441.4 224.9,441.3Z"/>
<path fill="#0b2a40" d="M317.5,439.2 319.1,439.1 320.1,439 321.1,438.9 322.1,438.8 323.1,438.8 324.1,438.7 325.1,438.7 326.1,438.7 327.1,438.7 328.1,438.6 329.1,438.6 330.1,438.6 331.2,438.6 332.2,438.6 333.2,438.6 334.2,438.6 335.2,438.6 336.2,438.6 337.2,438.6 338.2,438.6 339.2,438.7 340.2,438.8 341.2,438.9 342.2,439 343.1,439.2 344.2,439.6 345.2,440 345.7,440.2 347.2,441.2 348,442.2 348.5,443.2 348.6,444.2 348.6,445.2 348.2,446.2 347.6,447.2 346.5,448.2 345.2,449.1 344.2,449.5 343.2,449.8 342.2,450.1 341.2,450.3 340.2,450.5 339.2,450.6 338.2,450.7 337.2,450.8 336.2,450.8 335.2,450.9 334.2,450.9 333.2,450.9 332.2,450.9 331.2,450.8 330.1,450.8 329.1,450.8 328.1,450.7 327.1,450.7 326.1,450.6 325.1,450.5 324.1,450.5 323.1,450.4 322.1,450.3 321.1,450.2 320.1,450.1 319.1,449.9 318.1,449.8 317.1,449.7 316.1,449.5 315.1,449.4 314.4,449.2 313.1,449 312.1,448.8 311.1,448.6 310.1,448.4 309.1,448.1 308.1,447.7 307.1,447.3 306.1,446.8 305.3,446.2 304.6,445.2 304.5,444.2 304.9,443.2 306,442.2 307.1,441.7 308,441.2 309.1,440.8 310.1,440.5 311.1,440.3 312.1,440.1 313.1,439.9 314.1,439.7 315.1,439.5 316.1,439.4 317.1,439.3ZM233.1,441.2 233.9,441.2 234.9,441.2 235.9,441.1 236.9,441.1 237.9,441.1 238.9,441.1 239.9,441.1 240.9,441.1 241.9,441.1 242.9,441.1 243.9,441.2 244.9,441.2 245.9,441.2 246.9,441.2 247.9,441.3 248.9,441.3 249.9,441.3 251,441.3 252,441.4 253,441.4 254,441.5 255,441.6 256,441.7 257,441.8 258,441.9 259,442.1 259.8,442.2 261,442.6 262,442.9 262.8,443.2 264,443.9 265,444.9 265.6,446.2 265.4,447.2 265,447.7 264.5,448.2 264,448.6 263,449.2 262,449.6 261,449.9 260,450.1 259,450.3 258,450.5 257,450.6 256,450.7 255,450.8 254,450.9 253,451 252,451 251,451.1 249.9,451.1 248.9,451.2 247.9,451.2 246.9,451.2 245.9,451.3 244.9,451.3 243.9,451.3 242.9,451.3 241.9,451.3 240.9,451.3 239.9,451.3 238.9,451.3 237.9,451.3 236.9,451.3 235.9,451.3 234.9,451.3 233.9,451.2 232.9,451.1 231.9,451.1 230.9,451 229.9,450.9 228.9,450.8 227.9,450.7 226.9,450.5 225.9,450.4 225.1,450.2 223.9,450 222.9,449.8 221.9,449.5 221,449.2 219.9,448.8 218.9,448.4 217.9,447.7 217.4,447.2 216.9,446.2 217.3,445.2 217.9,444.7 218.4,444.2 219.9,443.6 220.6,443.2 221.9,442.9 222.9,442.6 223.9,442.3 224.9,442.1 225.9,442 226.9,441.8 227.9,441.7 228.9,441.6 229.9,441.5 230.9,441.4 231.9,441.3 232.9,441.2Z"/>
<path fill="#092132" d="M318.4,440.2 320.1,440 321.1,439.9 322.1,439.9 323.1,439.8 324.1,439.7 325.1,439.7 326.1,439.6 327.1,439.6 328.1,439.6 329.1,439.5 330.1,439.5 331.2,439.5 332.2,439.5 333.2,439.5 334.2,439.5 335.2,439.5 336.2,439.5 337.2,439.5 338.2,439.5 339.2,439.6 340.2,439.7 341.2,439.9 342.2,440 342.9,440.2 344.2,440.7 345.2,441.2 346.2,442.1 347,443.2 347.2,444.1 347.1,445.2 346.7,446.2 346.2,446.9 345.2,447.8 344.5,448.2 343.2,448.8 342.2,449.2 341.2,449.4 340.2,449.6 339.2,449.8 338.2,449.9 337.2,449.9 336.2,450 335.2,450 334.2,450 333.2,450 332.2,450 331.2,450 330.1,450 329.1,449.9 328.1,449.9 327.1,449.8 326.1,449.7 325.1,449.7 324.1,449.6 323.1,449.5 322.1,449.4 321.1,449.2 320.1,449.1 319.1,448.9 318.1,448.8 317.1,448.6 316.1,448.4 315.2,448.2 314.1,448 313.1,447.7 312.1,447.5 311.4,447.2 310.1,446.7 309.1,446.2 308.1,445.3 307.9,444.2 308.5,443.2 309.1,442.8 310.1,442.2 311.1,441.9 312.1,441.5 313,441.2 314.1,441 315.1,440.8 316.1,440.6 317.1,440.4 318.1,440.3ZM230.7,442.2 231.9,442.1 232.9,442.1 233.9,442 234.9,442 235.9,441.9 236.9,441.9 237.9,441.9 238.9,441.9 239.9,441.9 240.9,441.9 241.9,441.9 242.9,441.9 243.9,442 244.9,442 245.9,442 246.9,442 247.9,442.1 248.9,442.1 249.9,442.2 251,442.2 252,442.3 253,442.3 254,442.4 255,442.5 256,442.6 257,442.8 258,443 259,443.2 260,443.5 261,443.9 261.6,444.2 262.8,445.2 263.2,446.2 263,446.9 262,448 261,448.6 260,449 259.2,449.2 258,449.5 257,449.7 256,449.8 255,449.9 254,450.1 253,450.1 252,450.2 251,450.3 249.9,450.3 248.9,450.4 247.9,450.4 246.9,450.5 245.9,450.5 244.9,450.5 243.9,450.5 242.9,450.6 241.9,450.6 240.9,450.6 239.9,450.6 238.9,450.6 237.9,450.6 236.9,450.6 235.9,450.5 234.9,450.5 233.9,450.4 232.9,450.4 231.9,450.3 230.9,450.2 229.9,450.1 228.9,449.9 227.9,449.8 226.9,449.6 225.9,449.4 225.1,449.2 223.9,448.9 222.9,448.5 222.1,448.2 220.9,447.5 220,446.2 220.4,445.2 221.9,444.2 222.9,443.9 223.9,443.5 224.7,443.2 225.9,443 226.9,442.8 227.9,442.6 228.9,442.5 229.9,442.3 230.7,442.2Z"/>
<path fill="#061824" d="M320.8,441.2 322.1,441.1 323.1,441 324.1,440.9 325.1,440.8 326.1,440.7 327.1,440.7 328.1,440.7 329.1,440.6 330.1,440.6 331.2,440.6 332.2,440.5 333.2,440.5 334.2,440.5 335.2,440.5 336.2,440.5 337.2,440.5 338.2,440.6 339.2,440.7 340.2,440.8 341.2,441 342,441.2 343.2,441.7 344.1,442.2 345,443.2 345.4,444.2 345.3,445.2 344.8,446.2 344.2,446.8 343.7,447.2 343.2,447.5 342.2,448 341.5,448.2 340.2,448.6 339.2,448.7 338.2,448.9 337.2,449 336.2,449 335.2,449.1 334.2,449.1 333.2,449.1 332.2,449.1 331.2,449 330.1,449 329.1,448.9 328.1,448.9 327.1,448.8 326.1,448.7 325.1,448.6 324.1,448.5 323.1,448.4 322.2,448.2 321.1,448.1 320.1,447.9 319.1,447.7 318.1,447.4 317.2,447.2 316.1,446.9 315.1,446.5 314.4,446.2 313.1,445.4 312.7,444.2 313.1,443.7 313.6,443.2 315.1,442.6 316,442.2 317.1,441.9 318.1,441.7 319.1,441.5 320.1,441.3ZM230.9,443.2 231.9,443.1 232.9,443 233.9,443 234.9,442.9 235.9,442.9 236.9,442.8 237.9,442.8 238.9,442.8 239.9,442.8 240.9,442.8 241.9,442.8 242.9,442.9 243.9,442.9 244.9,442.9 245.9,443 246.9,443 247.9,443.1 248.9,443.1 249.9,443.2 251,443.2 252,443.3 253,443.4 254,443.6 255,443.7 256,443.9 257,444.1 258,444.5 259,445 260,446.1 259.5,447.2 259,447.6 258,448.1 257,448.4 256,448.6 255,448.8 254,449 253,449.1 252,449.2 251,449.3 249.9,449.4 248.9,449.4 247.9,449.5 246.9,449.5 245.9,449.6 244.9,449.6 243.9,449.7 242.9,449.7 241.9,449.7 240.9,449.7 239.9,449.7 238.9,449.7 237.9,449.7 236.9,449.7 235.9,449.6 234.9,449.6 233.9,449.5 232.9,449.4 231.9,449.3 231.1,449.2 229.9,449 228.9,448.8 227.9,448.6 226.9,448.4 225.9,448 224.9,447.5 224.3,447.2 223.9,446.6 224.3,445.2 224.9,444.9 225.9,444.4 226.9,444.1 227.9,443.8 228.9,443.6 229.9,443.4 230.9,443.2Z"/>
<path fill="#040f16" d="M325.8,442.2 327.1,442.1 328.1,442 329.1,442 330.1,441.9 331.2,441.9 332.2,441.9 333.2,441.8 334.2,441.8 335.2,441.8 336.2,441.8 337.2,441.9 338.2,442 339.2,442.1 340.2,442.3 341.2,442.7 342.2,443.2 342.9,444.2 342.8,445.2 342.2,446.1 341.2,446.7 340.2,447.1 339.2,447.4 338.2,447.6 337.2,447.7 336.2,447.8 335.2,447.8 334.2,447.8 333.2,447.8 332.2,447.8 331.2,447.7 330.1,447.7 329.1,447.6 328.1,447.5 327.1,447.4 326.1,447.3 325.1,447.2 324.1,447 323.1,446.7 322.1,446.5 321.2,446.2 320.1,445.7 319.3,445.2 319.2,444.2 320.1,443.6 320.8,443.2 322.1,442.9 323.1,442.7 324.1,442.5 325.1,442.3ZM233.5,444.2 234.9,444.1 235.9,444 236.9,444 237.9,444 238.9,444 239.9,444 240.9,444 241.9,444 242.9,444 243.9,444.1 244.9,444.1 245.9,444.2 246.9,444.3 247.9,444.4 248.9,444.5 249.9,444.6 251,444.8 252,445 253,445.2 254,445.7 254.7,446.2 254,446.9 253.5,447.2 252,447.6 251,447.8 249.9,448 248.9,448.1 248,448.2 246.9,448.3 245.9,448.4 244.9,448.4 243.9,448.5 242.9,448.5 241.9,448.6 240.9,448.6 239.9,448.6 238.9,448.6 237.9,448.6 236.9,448.5 235.9,448.5 234.9,448.4 233.9,448.3 232.9,448.2 231.9,447.9 230.9,447.7 229.9,447.4 228.9,446.6 229.5,445.2 230.9,444.8 231.9,444.6 232.9,444.3Z"/>
</g><ellipse cx="100" cy="349.2" rx="1.3" ry="2.6" fill="#eaf4fb"/></g>
<path d="M76.5,75.8C77.2,75.8 79.5,75.7 81.0,75.5C82.5,75.3 83.7,75.3 85.5,74.6C87.3,73.9 90.2,72.1 91.8,71.3C93.4,70.5 93.9,70.0 95.0,69.5C96.1,69.0 97.3,68.6 98.5,68.5C99.7,68.4 100.8,68.6 102.0,68.8C103.2,69.0 103.5,69.0 105.8,69.6C108.1,70.2 112.6,71.5 116.0,72.3C119.4,73.1 122.4,73.8 126.2,74.3C130.0,74.8 134.7,75.1 138.9,75.1C143.1,75.1 147.8,74.6 151.6,74.1C155.4,73.5 158.4,72.9 161.8,71.8C165.2,70.7 168.6,69.5 172.0,67.2C175.4,64.9 179.6,61.0 182.2,58.0C184.8,55.0 185.9,52.1 187.6,49.1C189.3,46.1 191.0,42.8 192.5,40.0C194.0,37.2 195.1,35.4 196.4,32.4C197.7,29.4 199.0,24.5 200.2,21.8C201.4,19.1 202.2,17.6 203.5,16.3C204.8,15.0 206.4,14.2 207.8,14.0C209.2,13.8 210.4,14.2 212.0,14.9C213.6,15.6 215.2,17.3 217.1,18.4C219.0,19.5 221.6,20.6 223.6,21.3C225.6,22.0 226.1,22.3 229.0,22.4C231.9,22.5 236.8,22.1 240.9,21.7C245.0,21.3 250.2,20.7 253.6,20.1C256.9,19.5 259.1,18.6 261.0,18.2C262.9,17.8 263.5,17.5 264.9,17.8C266.3,18.1 268.0,19.0 269.5,20.2C271.0,21.4 272.2,23.6 274.0,25.0C275.8,26.4 278.1,27.5 280.0,28.3C281.9,29.1 283.7,29.5 285.4,29.9C287.1,30.2 288.6,30.6 290.3,30.4C292.0,30.2 293.4,30.1 295.6,28.9C297.8,27.7 300.8,25.0 303.3,23.2C305.9,21.4 308.1,19.6 310.9,18.3C313.6,17.0 317.0,16.4 319.8,15.3C322.6,14.2 325.0,12.7 327.6,11.8C330.2,10.9 333.0,10.2 335.3,9.9C337.6,9.6 339.5,9.6 341.6,9.9C343.7,10.2 345.9,10.6 348.0,11.7C350.1,12.8 352.3,14.2 354.4,16.5C356.5,18.8 358.6,21.9 360.7,25.5C362.8,29.1 365.0,34.4 367.1,38.2C369.2,42.0 371.1,45.4 373.4,48.4C375.7,51.4 378.6,54.0 381.1,56.0C383.7,58.0 386.1,59.3 388.7,60.2C391.2,61.1 394.2,61.0 396.4,61.6C398.6,62.2 399.9,62.3 401.8,63.6C403.7,64.9 405.7,67.4 407.8,69.2C409.9,71.0 412.5,73.3 414.2,74.4C415.9,75.5 416.4,75.4 418.0,75.6C419.6,75.8 422.6,75.8 423.5,75.8L423.5,76.3L76.5,76.3Z" fill="#1f77b4" fill-opacity="0.25"/>
<path d="M76.5,75.8C77.2,75.8 79.5,75.7 81.0,75.5C82.5,75.3 83.7,75.3 85.5,74.6C87.3,73.9 90.2,72.1 91.8,71.3C93.4,70.5 93.9,70.0 95.0,69.5C96.1,69.0 97.3,68.6 98.5,68.5C99.7,68.4 100.8,68.6 102.0,68.8C103.2,69.0 103.5,69.0 105.8,69.6C108.1,70.2 112.6,71.5 116.0,72.3C119.4,73.1 122.4,73.8 126.2,74.3C130.0,74.8 134.7,75.1 138.9,75.1C143.1,75.1 147.8,74.6 151.6,74.1C155.4,73.5 158.4,72.9 161.8,71.8C165.2,70.7 168.6,69.5 172.0,67.2C175.4,64.9 179.6,61.0 182.2,58.0C184.8,55.0 185.9,52.1 187.6,49.1C189.3,46.1 191.0,42.8 192.5,40.0C194.0,37.2 195.1,35.4 196.4,32.4C197.7,29.4 199.0,24.5 200.2,21.8C201.4,19.1 202.2,17.6 203.5,16.3C204.8,15.0 206.4,14.2 207.8,14.0C209.2,13.8 210.4,14.2 212.0,14.9C213.6,15.6 215.2,17.3 217.1,18.4C219.0,19.5 221.6,20.6 223.6,21.3C225.6,22.0 226.1,22.3 229.0,22.4C231.9,22.5 236.8,22.1 240.9,21.7C245.0,21.3 250.2,20.7 253.6,20.1C256.9,19.5 259.1,18.6 261.0,18.2C262.9,17.8 263.5,17.5 264.9,17.8C266.3,18.1 268.0,19.0 269.5,20.2C271.0,21.4 272.2,23.6 274.0,25.0C275.8,26.4 278.1,27.5 280.0,28.3C281.9,29.1 283.7,29.5 285.4,29.9C287.1,30.2 288.6,30.6 290.3,30.4C292.0,30.2 293.4,30.1 295.6,28.9C297.8,27.7 300.8,25.0 303.3,23.2C305.9,21.4 308.1,19.6 310.9,18.3C313.6,17.0 317.0,16.4 319.8,15.3C322.6,14.2 325.0,12.7 327.6,11.8C330.2,10.9 333.0,10.2 335.3,9.9C337.6,9.6 339.5,9.6 341.6,9.9C343.7,10.2 345.9,10.6 348.0,11.7C350.1,12.8 352.3,14.2 354.4,16.5C356.5,18.8 358.6,21.9 360.7,25.5C362.8,29.1 365.0,34.4 367.1,38.2C369.2,42.0 371.1,45.4 373.4,48.4C375.7,51.4 378.6,54.0 381.1,56.0C383.7,58.0 386.1,59.3 388.7,60.2C391.2,61.1 394.2,61.0 396.4,61.6C398.6,62.2 399.9,62.3 401.8,63.6C403.7,64.9 405.7,67.4 407.8,69.2C409.9,71.0 412.5,73.3 414.2,74.4C415.9,75.5 416.4,75.4 418.0,75.6C419.6,75.8 422.6,75.8 423.5,75.8" fill="none" stroke="#1f77b4" stroke-width="2.2" stroke-linejoin="round" clip-path="url(#ct)"/>
<g stroke="#333" stroke-width="1.3" fill="none">
<path d="M52,76.3H449.7"/>
<path d="M92.7,76.3v4.5"/>
<path d="M158.7,76.3v4.5"/>
<path d="M224.6,76.3v4.5"/>
<path d="M290.6,76.3v4.5"/>
<path d="M356.5,76.3v4.5"/>
<path d="M422.4,76.3v4.5"/>
</g>
<g stroke="#b4b4b4" stroke-width="1" fill="none">
<path d="M501.7,90V493"/>
<path d="M463,451.9H531.5"/>
<path d="M463,385.3H531.5"/>
<path d="M463,318.7H531.5"/>
<path d="M463,252.1H531.5"/>
<path d="M463,185.5H531.5"/>
<path d="M463,118.9H531.5"/>
</g>
<path d="M463.3,134.0C463.3,145.0 463.3,183.2 463.4,200.0C463.4,216.8 463.5,226.7 463.6,235.0C463.7,243.3 463.9,244.5 464.2,250.0C464.5,255.5 465.1,262.2 465.5,268.0C465.9,273.8 466.3,279.7 466.4,285.0C466.5,290.3 466.3,294.3 466.2,300.0C466.1,305.7 466.0,311.5 465.9,319.0C465.8,326.5 465.8,336.5 465.7,345.0C465.6,353.5 465.5,363.3 465.6,370.0C465.7,376.7 465.8,380.4 466.1,385.1C466.4,389.8 466.8,394.0 467.5,398.2C468.2,402.4 469.0,406.5 470.1,410.2C471.2,413.9 472.4,417.3 474.1,420.3C475.8,423.3 477.8,426.0 480.1,428.3C482.5,430.6 484.7,432.1 488.2,433.9C491.7,435.6 496.8,437.4 501.3,438.8C505.8,440.2 511.5,441.4 515.3,442.4C519.1,443.4 522.1,444.1 524.0,444.7C525.9,445.3 526.2,445.4 526.8,445.8C527.4,446.2 527.6,446.6 527.6,447.0C527.6,447.4 527.4,447.8 526.8,448.1C526.2,448.5 525.9,448.7 524.0,449.1C522.1,449.6 519.1,450.1 515.3,450.8C511.5,451.5 506.3,452.6 501.3,453.5C496.3,454.4 489.9,455.6 485.2,456.5C480.5,457.4 475.9,458.4 473.1,459.1C470.3,459.8 469.7,460.1 468.5,460.6C467.3,461.1 466.7,461.6 466.0,462.2C465.3,462.8 464.6,463.4 464.2,464.0C463.8,464.6 463.6,465.5 463.5,465.8L463.1,465.8L463.1,134Z" fill="#1f77b4" fill-opacity="0.25"/>
<path d="M463.3,134.0C463.3,145.0 463.3,183.2 463.4,200.0C463.4,216.8 463.5,226.7 463.6,235.0C463.7,243.3 463.9,244.5 464.2,250.0C464.5,255.5 465.1,262.2 465.5,268.0C465.9,273.8 466.3,279.7 466.4,285.0C466.5,290.3 466.3,294.3 466.2,300.0C466.1,305.7 466.0,311.5 465.9,319.0C465.8,326.5 465.8,336.5 465.7,345.0C465.6,353.5 465.5,363.3 465.6,370.0C465.7,376.7 465.8,380.4 466.1,385.1C466.4,389.8 466.8,394.0 467.5,398.2C468.2,402.4 469.0,406.5 470.1,410.2C471.2,413.9 472.4,417.3 474.1,420.3C475.8,423.3 477.8,426.0 480.1,428.3C482.5,430.6 484.7,432.1 488.2,433.9C491.7,435.6 496.8,437.4 501.3,438.8C505.8,440.2 511.5,441.4 515.3,442.4C519.1,443.4 522.1,444.1 524.0,444.7C525.9,445.3 526.2,445.4 526.8,445.8C527.4,446.2 527.6,446.6 527.6,447.0C527.6,447.4 527.4,447.8 526.8,448.1C526.2,448.5 525.9,448.7 524.0,449.1C522.1,449.6 519.1,450.1 515.3,450.8C511.5,451.5 506.3,452.6 501.3,453.5C496.3,454.4 489.9,455.6 485.2,456.5C480.5,457.4 475.9,458.4 473.1,459.1C470.3,459.8 469.7,460.1 468.5,460.6C467.3,461.1 466.7,461.6 466.0,462.2C465.3,462.8 464.6,463.4 464.2,464.0C463.8,464.6 463.6,465.5 463.5,465.8" fill="none" stroke="#1f77b4" stroke-width="2.2" stroke-linejoin="round" clip-path="url(#cr)"/>
<g stroke="#333" stroke-width="1.3" fill="none">
<path d="M463.1,90V493.4"/>
<path d="M458.6,451.9h4.5"/>
<path d="M458.6,385.3h4.5"/>
<path d="M458.6,318.7h4.5"/>
<path d="M458.6,252.1h4.5"/>
<path d="M458.6,185.5h4.5"/>
<path d="M458.6,118.9h4.5"/>
</g>
<rect x="514.2" y="96.8" width="11.2" height="10.4" rx="2.2" fill="#fff" stroke="#d0d0d0" stroke-width="1"/>
<g stroke="#ff5220" stroke-width="1.6" stroke-dasharray="1.2 1.25" fill="none">
<path d="M92.4,107.5V491.5"/>
<path d="M408,107.5V491.5"/>
<path d="M52.6,133.8H462"/>
</g>
<g stroke="#1c1c1c" stroke-width="2.5" fill="none" stroke-linecap="butt">
<path d="M162.6,290.4L334.8,464.2"/>
<path d="M276.4,206.6L449.6,378.6"/>
</g>
<polygon points="200.7,325.8 203.3,325.8 203.3,328.4 206.1,328.4 206.1,331.2 203.3,331.2 203.3,333.9 200.7,333.9 200.7,331.2 197.9,331.2 197.9,328.4 200.7,328.4" fill="#a80f1a" stroke="#1a1010" stroke-width="1.6" stroke-linejoin="miter"/>
<polygon points="348.3,276.8 351.1,276.8 351.1,279.4 353.8,279.4 353.8,282.2 351.1,282.2 351.1,284.9 348.3,284.9 348.3,282.2 345.6,282.2 345.6,279.4 348.3,279.4" fill="#a80f1a" stroke="#1a1010" stroke-width="1.6" stroke-linejoin="miter"/>
<g stroke="#333" stroke-width="1.3" fill="none">
<path d="M52.4,90.0V493.3H449.2" stroke-linecap="square"/>
<path d="M92.7,493.3v4.5"/>
<path d="M52.4,451.9h-4.5"/>
<path d="M158.7,493.3v4.5"/>
<path d="M52.4,385.3h-4.5"/>
<path d="M224.6,493.3v4.5"/>
<path d="M52.4,318.7h-4.5"/>
<path d="M290.6,493.3v4.5"/>
<path d="M52.4,252.1h-4.5"/>
<path d="M356.5,493.3v4.5"/>
<path d="M52.4,185.5h-4.5"/>
<path d="M422.4,493.3v4.5"/>
<path d="M52.4,118.9h-4.5"/>
</g>
<g font-family="'DejaVu Sans', 'Liberation Sans', sans-serif" font-size="12.7" fill="#222" stroke="#222" stroke-width="0.3">
<text x="92.7" y="511.2" text-anchor="middle">0</text>
<text x="43.1" y="456.5" text-anchor="end">0</text>
<text x="158.7" y="511.2" text-anchor="middle">5</text>
<text x="43.1" y="389.9" text-anchor="end">5</text>
<text x="224.6" y="511.2" text-anchor="middle">10</text>
<text x="43.1" y="323.3" text-anchor="end">10</text>
<text x="290.6" y="511.2" text-anchor="middle">15</text>
<text x="43.1" y="256.7" text-anchor="end">15</text>
<text x="356.5" y="511.2" text-anchor="middle">20</text>
<text x="43.1" y="190.1" text-anchor="end">20</text>
<text x="422.4" y="511.2" text-anchor="middle">25</text>
<text x="43.1" y="123.5" text-anchor="end">25</text>
<text x="250.6" y="530.2" text-anchor="middle">stop_starttime_s</text>
<text transform="translate(18.7,292.6) rotate(-90)" text-anchor="middle">stop_duration_ins</text>
<text x="497" y="507.5" text-anchor="middle">stop_starttime</text>
<text transform="translate(453.5,292.3) rotate(-90)" text-anchor="middle">stop_duration</text>
<text x="496.2" y="81.7" text-anchor="middle" font-size="15.3" fill="#1a1a1a">8 Wed</text>
</g>
<g font-family="'Liberation Sans', Arial, sans-serif" fill="#0a0a0a" stroke="#0a0a0a" stroke-width="0.2">
<text x="213.5" y="313.8" font-size="14.3">Work</text>
<text x="352.2" y="241.7" font-size="14.6">Home</text>
<text transform="translate(140.9,263.2) rotate(43)" font-size="11.7">end = 17:00</text>
<text transform="translate(266.7,191.2) rotate(43)" font-size="11.7">end = 7:30</text>
</g>
</svg>
</body></html>
